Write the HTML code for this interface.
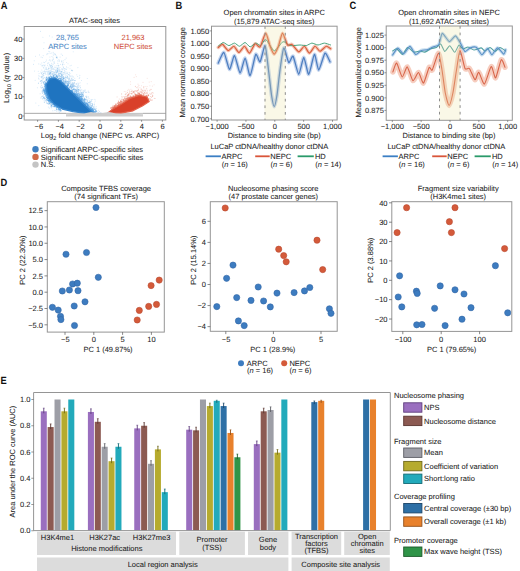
<!DOCTYPE html>
<html><head><meta charset="utf-8"><style>
html,body{margin:0;padding:0;background:#fff;width:520px;height:571px;overflow:hidden}
svg{display:block;font-family:"Liberation Sans",sans-serif;text-rendering:geometricPrecision} text{stroke-width:0.06px}
</style></head><body>
<svg width="520" height="571" viewBox="0 0 520 571">
<rect width="520" height="571" fill="#fff"/>
<text transform="translate(0.7,8.9) scale(0.88,1)" font-size="10.6" fill="#111" font-weight="bold">A</text>
<text transform="translate(175.6,8.9) scale(0.88,1)" font-size="10.6" fill="#111" font-weight="bold">B</text>
<text transform="translate(349.4,9.0) scale(0.88,1)" font-size="10.6" fill="#111" font-weight="bold">C</text>
<text transform="translate(0.6,185.8) scale(0.88,1)" font-size="10.6" fill="#111" font-weight="bold">D</text>
<text transform="translate(0.6,384.3) scale(0.88,1)" font-size="10.6" fill="#111" font-weight="bold">E</text>
<line x1="24.20" y1="113.40" x2="165.80" y2="113.40" stroke="#b0b0b0" stroke-width="0.8" />
<circle cx="43.4" cy="67.7" r="0.55" fill="#4f9ee0" fill-opacity="0.22"/>
<circle cx="46.2" cy="77.4" r="0.55" fill="#4f9ee0" fill-opacity="0.34"/>
<circle cx="72.4" cy="92.2" r="0.7" fill="#4f9ee0" fill-opacity="0.47"/>
<circle cx="68.2" cy="87.7" r="0.55" fill="#4f9ee0" fill-opacity="0.41"/>
<circle cx="62.8" cy="82.5" r="0.7" fill="#4f9ee0" fill-opacity="0.50"/>
<circle cx="46.3" cy="69.8" r="0.55" fill="#4f9ee0" fill-opacity="0.24"/>
<circle cx="84.9" cy="105.0" r="0.7" fill="#4f9ee0" fill-opacity="0.57"/>
<circle cx="42.6" cy="65.5" r="0.55" fill="#4f9ee0" fill-opacity="0.22"/>
<circle cx="80.9" cy="100.3" r="0.7" fill="#4f9ee0" fill-opacity="0.68"/>
<circle cx="59.5" cy="70.1" r="0.55" fill="#4f9ee0" fill-opacity="0.22"/>
<circle cx="84.8" cy="105.3" r="0.7" fill="#4f9ee0" fill-opacity="0.51"/>
<circle cx="77.9" cy="67.6" r="0.55" fill="#4f9ee0" fill-opacity="0.22"/>
<circle cx="83.5" cy="103.4" r="0.7" fill="#4f9ee0" fill-opacity="0.59"/>
<circle cx="74.5" cy="89.2" r="0.55" fill="#4f9ee0" fill-opacity="0.29"/>
<circle cx="79.3" cy="78.4" r="0.55" fill="#4f9ee0" fill-opacity="0.22"/>
<circle cx="47.8" cy="74.1" r="0.55" fill="#4f9ee0" fill-opacity="0.28"/>
<circle cx="92.4" cy="106.3" r="0.55" fill="#4f9ee0" fill-opacity="0.34"/>
<circle cx="84.5" cy="110.2" r="0.55" fill="#4f9ee0" fill-opacity="0.27"/>
<circle cx="93.1" cy="107.8" r="0.55" fill="#4f9ee0" fill-opacity="0.31"/>
<circle cx="55.7" cy="80.0" r="0.55" fill="#4f9ee0" fill-opacity="0.25"/>
<circle cx="61.2" cy="54.1" r="0.55" fill="#4f9ee0" fill-opacity="0.22"/>
<circle cx="93.3" cy="112.0" r="0.7" fill="#4f9ee0" fill-opacity="0.63"/>
<circle cx="79.7" cy="77.3" r="0.55" fill="#4f9ee0" fill-opacity="0.22"/>
<circle cx="79.4" cy="97.2" r="0.7" fill="#4f9ee0" fill-opacity="0.54"/>
<circle cx="67.2" cy="83.1" r="0.55" fill="#4f9ee0" fill-opacity="0.34"/>
<circle cx="68.2" cy="85.6" r="0.55" fill="#4f9ee0" fill-opacity="0.34"/>
<circle cx="43.0" cy="75.1" r="0.55" fill="#4f9ee0" fill-opacity="0.26"/>
<circle cx="63.6" cy="60.7" r="0.55" fill="#4f9ee0" fill-opacity="0.22"/>
<circle cx="51.5" cy="78.7" r="0.55" fill="#4f9ee0" fill-opacity="0.23"/>
<circle cx="62.2" cy="92.3" r="0.55" fill="#4f9ee0" fill-opacity="0.24"/>
<circle cx="89.4" cy="110.6" r="0.55" fill="#4f9ee0" fill-opacity="0.38"/>
<circle cx="91.0" cy="101.3" r="0.55" fill="#4f9ee0" fill-opacity="0.26"/>
<circle cx="67.7" cy="77.1" r="0.55" fill="#4f9ee0" fill-opacity="0.24"/>
<circle cx="73.1" cy="92.5" r="0.7" fill="#4f9ee0" fill-opacity="0.53"/>
<circle cx="72.4" cy="93.2" r="0.7" fill="#4f9ee0" fill-opacity="0.56"/>
<circle cx="66.3" cy="87.0" r="0.55" fill="#4f9ee0" fill-opacity="0.30"/>
<circle cx="88.3" cy="110.1" r="0.7" fill="#4f9ee0" fill-opacity="0.54"/>
<circle cx="66.1" cy="69.1" r="0.55" fill="#4f9ee0" fill-opacity="0.23"/>
<circle cx="52.5" cy="60.7" r="0.55" fill="#4f9ee0" fill-opacity="0.22"/>
<circle cx="90.2" cy="108.6" r="0.7" fill="#4f9ee0" fill-opacity="0.57"/>
<circle cx="46.1" cy="78.3" r="0.55" fill="#4f9ee0" fill-opacity="0.40"/>
<circle cx="94.1" cy="111.5" r="0.7" fill="#4f9ee0" fill-opacity="0.46"/>
<circle cx="75.9" cy="89.2" r="0.55" fill="#4f9ee0" fill-opacity="0.33"/>
<circle cx="73.0" cy="80.3" r="0.55" fill="#4f9ee0" fill-opacity="0.24"/>
<circle cx="63.1" cy="78.6" r="0.55" fill="#4f9ee0" fill-opacity="0.28"/>
<circle cx="77.6" cy="76.5" r="0.55" fill="#4f9ee0" fill-opacity="0.22"/>
<circle cx="79.3" cy="101.2" r="0.7" fill="#4f9ee0" fill-opacity="0.58"/>
<circle cx="88.0" cy="105.6" r="0.7" fill="#4f9ee0" fill-opacity="0.53"/>
<circle cx="90.4" cy="104.5" r="0.55" fill="#4f9ee0" fill-opacity="0.35"/>
<circle cx="70.5" cy="80.7" r="0.55" fill="#4f9ee0" fill-opacity="0.22"/>
<circle cx="87.3" cy="105.2" r="0.7" fill="#4f9ee0" fill-opacity="0.50"/>
<circle cx="85.3" cy="104.3" r="0.7" fill="#4f9ee0" fill-opacity="0.48"/>
<circle cx="67.6" cy="84.0" r="0.55" fill="#4f9ee0" fill-opacity="0.41"/>
<circle cx="86.1" cy="108.9" r="0.7" fill="#4f9ee0" fill-opacity="0.45"/>
<circle cx="84.5" cy="102.1" r="0.7" fill="#4f9ee0" fill-opacity="0.47"/>
<circle cx="73.6" cy="86.0" r="0.55" fill="#4f9ee0" fill-opacity="0.25"/>
<circle cx="78.2" cy="87.0" r="0.55" fill="#4f9ee0" fill-opacity="0.26"/>
<circle cx="69.3" cy="87.7" r="0.7" fill="#4f9ee0" fill-opacity="0.46"/>
<circle cx="47.9" cy="77.6" r="0.55" fill="#4f9ee0" fill-opacity="0.24"/>
<circle cx="84.0" cy="108.3" r="0.55" fill="#4f9ee0" fill-opacity="0.36"/>
<circle cx="67.9" cy="88.6" r="0.55" fill="#4f9ee0" fill-opacity="0.37"/>
<circle cx="79.3" cy="94.3" r="0.55" fill="#4f9ee0" fill-opacity="0.35"/>
<circle cx="88.2" cy="92.1" r="0.55" fill="#4f9ee0" fill-opacity="0.23"/>
<circle cx="72.4" cy="91.3" r="0.7" fill="#4f9ee0" fill-opacity="0.56"/>
<circle cx="89.7" cy="109.2" r="0.7" fill="#4f9ee0" fill-opacity="0.71"/>
<circle cx="57.4" cy="71.7" r="0.55" fill="#4f9ee0" fill-opacity="0.26"/>
<circle cx="86.9" cy="102.5" r="0.55" fill="#4f9ee0" fill-opacity="0.41"/>
<circle cx="89.6" cy="102.6" r="0.55" fill="#4f9ee0" fill-opacity="0.32"/>
<circle cx="60.9" cy="69.9" r="0.55" fill="#4f9ee0" fill-opacity="0.24"/>
<circle cx="49.8" cy="73.9" r="0.55" fill="#4f9ee0" fill-opacity="0.28"/>
<circle cx="52.5" cy="66.6" r="0.55" fill="#4f9ee0" fill-opacity="0.23"/>
<circle cx="53.5" cy="80.9" r="0.55" fill="#4f9ee0" fill-opacity="0.24"/>
<circle cx="56.3" cy="70.5" r="0.55" fill="#4f9ee0" fill-opacity="0.22"/>
<circle cx="73.1" cy="95.1" r="0.55" fill="#4f9ee0" fill-opacity="0.26"/>
<circle cx="76.5" cy="87.1" r="0.55" fill="#4f9ee0" fill-opacity="0.25"/>
<circle cx="34.6" cy="71.1" r="0.55" fill="#4f9ee0" fill-opacity="0.22"/>
<circle cx="39.1" cy="73.5" r="0.55" fill="#4f9ee0" fill-opacity="0.23"/>
<circle cx="69.6" cy="91.6" r="0.55" fill="#4f9ee0" fill-opacity="0.41"/>
<circle cx="58.7" cy="78.1" r="0.55" fill="#4f9ee0" fill-opacity="0.25"/>
<circle cx="47.5" cy="69.8" r="0.55" fill="#4f9ee0" fill-opacity="0.23"/>
<circle cx="80.6" cy="101.3" r="0.7" fill="#4f9ee0" fill-opacity="0.50"/>
<circle cx="41.0" cy="77.0" r="0.55" fill="#4f9ee0" fill-opacity="0.26"/>
<circle cx="53.1" cy="78.9" r="0.55" fill="#4f9ee0" fill-opacity="0.32"/>
<circle cx="66.6" cy="62.5" r="0.55" fill="#4f9ee0" fill-opacity="0.22"/>
<circle cx="84.3" cy="106.2" r="0.7" fill="#4f9ee0" fill-opacity="0.47"/>
<circle cx="55.6" cy="73.0" r="0.55" fill="#4f9ee0" fill-opacity="0.27"/>
<circle cx="56.0" cy="55.8" r="0.55" fill="#4f9ee0" fill-opacity="0.22"/>
<circle cx="55.6" cy="79.3" r="0.55" fill="#4f9ee0" fill-opacity="0.24"/>
<circle cx="74.4" cy="83.2" r="0.55" fill="#4f9ee0" fill-opacity="0.25"/>
<circle cx="101.0" cy="112.8" r="0.55" fill="#4f9ee0" fill-opacity="0.26"/>
<circle cx="55.8" cy="74.8" r="0.55" fill="#4f9ee0" fill-opacity="0.32"/>
<circle cx="82.8" cy="101.9" r="0.55" fill="#4f9ee0" fill-opacity="0.36"/>
<circle cx="88.1" cy="102.0" r="0.55" fill="#4f9ee0" fill-opacity="0.30"/>
<circle cx="64.1" cy="78.4" r="0.55" fill="#4f9ee0" fill-opacity="0.36"/>
<circle cx="48.0" cy="53.6" r="0.55" fill="#4f9ee0" fill-opacity="0.22"/>
<circle cx="63.5" cy="74.2" r="0.55" fill="#4f9ee0" fill-opacity="0.26"/>
<circle cx="81.0" cy="94.7" r="0.55" fill="#4f9ee0" fill-opacity="0.35"/>
<circle cx="73.1" cy="86.2" r="0.55" fill="#4f9ee0" fill-opacity="0.28"/>
<circle cx="79.4" cy="96.0" r="0.7" fill="#4f9ee0" fill-opacity="0.46"/>
<circle cx="60.3" cy="74.7" r="0.55" fill="#4f9ee0" fill-opacity="0.26"/>
<circle cx="87.6" cy="101.8" r="0.55" fill="#4f9ee0" fill-opacity="0.32"/>
<circle cx="61.4" cy="71.8" r="0.55" fill="#4f9ee0" fill-opacity="0.23"/>
<circle cx="63.8" cy="72.5" r="0.55" fill="#4f9ee0" fill-opacity="0.24"/>
<circle cx="69.5" cy="74.7" r="0.55" fill="#4f9ee0" fill-opacity="0.23"/>
<circle cx="62.6" cy="79.4" r="0.55" fill="#4f9ee0" fill-opacity="0.36"/>
<circle cx="59.4" cy="68.8" r="0.55" fill="#4f9ee0" fill-opacity="0.22"/>
<circle cx="67.4" cy="87.4" r="0.7" fill="#4f9ee0" fill-opacity="0.45"/>
<circle cx="50.9" cy="72.7" r="0.55" fill="#4f9ee0" fill-opacity="0.29"/>
<circle cx="59.4" cy="60.9" r="0.55" fill="#4f9ee0" fill-opacity="0.22"/>
<circle cx="63.6" cy="85.2" r="0.55" fill="#4f9ee0" fill-opacity="0.29"/>
<circle cx="78.0" cy="84.9" r="0.55" fill="#4f9ee0" fill-opacity="0.22"/>
<circle cx="57.2" cy="75.7" r="0.55" fill="#4f9ee0" fill-opacity="0.29"/>
<circle cx="79.9" cy="97.5" r="0.7" fill="#4f9ee0" fill-opacity="0.49"/>
<circle cx="73.8" cy="84.0" r="0.55" fill="#4f9ee0" fill-opacity="0.23"/>
<circle cx="58.8" cy="80.3" r="0.7" fill="#4f9ee0" fill-opacity="0.76"/>
<circle cx="68.8" cy="78.9" r="0.55" fill="#4f9ee0" fill-opacity="0.23"/>
<circle cx="65.8" cy="77.0" r="0.55" fill="#4f9ee0" fill-opacity="0.27"/>
<circle cx="44.6" cy="70.9" r="0.55" fill="#4f9ee0" fill-opacity="0.23"/>
<circle cx="72.1" cy="90.3" r="0.7" fill="#4f9ee0" fill-opacity="0.47"/>
<circle cx="73.6" cy="89.5" r="0.55" fill="#4f9ee0" fill-opacity="0.33"/>
<circle cx="88.1" cy="104.4" r="0.55" fill="#4f9ee0" fill-opacity="0.37"/>
<circle cx="88.3" cy="109.0" r="0.7" fill="#4f9ee0" fill-opacity="0.67"/>
<circle cx="56.5" cy="57.5" r="0.55" fill="#4f9ee0" fill-opacity="0.22"/>
<circle cx="73.9" cy="90.7" r="0.55" fill="#4f9ee0" fill-opacity="0.39"/>
<circle cx="90.3" cy="110.0" r="0.7" fill="#4f9ee0" fill-opacity="0.63"/>
<circle cx="85.0" cy="99.6" r="0.55" fill="#4f9ee0" fill-opacity="0.31"/>
<circle cx="51.4" cy="68.1" r="0.55" fill="#4f9ee0" fill-opacity="0.22"/>
<circle cx="95.0" cy="109.4" r="0.55" fill="#4f9ee0" fill-opacity="0.32"/>
<circle cx="76.5" cy="83.8" r="0.55" fill="#4f9ee0" fill-opacity="0.24"/>
<circle cx="49.6" cy="73.9" r="0.55" fill="#4f9ee0" fill-opacity="0.32"/>
<circle cx="67.8" cy="85.8" r="0.7" fill="#4f9ee0" fill-opacity="0.48"/>
<circle cx="58.3" cy="73.7" r="0.55" fill="#4f9ee0" fill-opacity="0.32"/>
<circle cx="52.0" cy="76.7" r="0.55" fill="#4f9ee0" fill-opacity="0.35"/>
<circle cx="92.8" cy="108.5" r="0.55" fill="#4f9ee0" fill-opacity="0.42"/>
<circle cx="74.7" cy="78.2" r="0.55" fill="#4f9ee0" fill-opacity="0.22"/>
<circle cx="59.4" cy="78.1" r="0.55" fill="#4f9ee0" fill-opacity="0.24"/>
<circle cx="75.1" cy="80.3" r="0.55" fill="#4f9ee0" fill-opacity="0.23"/>
<circle cx="77.8" cy="83.1" r="0.55" fill="#4f9ee0" fill-opacity="0.24"/>
<circle cx="73.2" cy="84.3" r="0.55" fill="#4f9ee0" fill-opacity="0.28"/>
<circle cx="62.5" cy="87.2" r="0.55" fill="#4f9ee0" fill-opacity="0.25"/>
<circle cx="60.6" cy="64.4" r="0.55" fill="#4f9ee0" fill-opacity="0.22"/>
<circle cx="77.6" cy="98.1" r="0.7" fill="#4f9ee0" fill-opacity="0.75"/>
<circle cx="55.3" cy="87.3" r="0.55" fill="#4f9ee0" fill-opacity="0.22"/>
<circle cx="91.4" cy="110.6" r="0.7" fill="#4f9ee0" fill-opacity="0.56"/>
<circle cx="58.7" cy="78.7" r="0.7" fill="#4f9ee0" fill-opacity="0.59"/>
<circle cx="58.0" cy="78.5" r="0.55" fill="#4f9ee0" fill-opacity="0.35"/>
<circle cx="63.5" cy="62.7" r="0.55" fill="#4f9ee0" fill-opacity="0.22"/>
<circle cx="70.0" cy="86.3" r="0.55" fill="#4f9ee0" fill-opacity="0.43"/>
<circle cx="76.5" cy="95.1" r="0.55" fill="#4f9ee0" fill-opacity="0.30"/>
<circle cx="91.8" cy="105.9" r="0.55" fill="#4f9ee0" fill-opacity="0.35"/>
<circle cx="57.2" cy="77.0" r="0.55" fill="#4f9ee0" fill-opacity="0.34"/>
<circle cx="52.1" cy="78.3" r="0.7" fill="#4f9ee0" fill-opacity="0.78"/>
<circle cx="65.5" cy="85.1" r="0.55" fill="#4f9ee0" fill-opacity="0.31"/>
<circle cx="42.4" cy="57.6" r="0.55" fill="#4f9ee0" fill-opacity="0.22"/>
<circle cx="74.0" cy="99.8" r="0.55" fill="#4f9ee0" fill-opacity="0.32"/>
<circle cx="69.7" cy="81.3" r="0.55" fill="#4f9ee0" fill-opacity="0.28"/>
<circle cx="62.4" cy="77.3" r="0.55" fill="#4f9ee0" fill-opacity="0.22"/>
<circle cx="74.9" cy="90.0" r="0.55" fill="#4f9ee0" fill-opacity="0.30"/>
<circle cx="43.4" cy="67.8" r="0.55" fill="#4f9ee0" fill-opacity="0.22"/>
<circle cx="65.3" cy="86.5" r="0.7" fill="#4f9ee0" fill-opacity="0.55"/>
<circle cx="82.5" cy="103.3" r="0.7" fill="#4f9ee0" fill-opacity="0.59"/>
<circle cx="93.7" cy="108.2" r="0.55" fill="#4f9ee0" fill-opacity="0.32"/>
<circle cx="85.5" cy="103.6" r="0.7" fill="#4f9ee0" fill-opacity="0.55"/>
<circle cx="68.2" cy="85.6" r="0.7" fill="#4f9ee0" fill-opacity="0.48"/>
<circle cx="75.9" cy="98.8" r="0.55" fill="#4f9ee0" fill-opacity="0.29"/>
<circle cx="82.7" cy="100.6" r="0.55" fill="#4f9ee0" fill-opacity="0.31"/>
<circle cx="66.9" cy="75.4" r="0.55" fill="#4f9ee0" fill-opacity="0.24"/>
<circle cx="58.1" cy="72.0" r="0.55" fill="#4f9ee0" fill-opacity="0.24"/>
<circle cx="82.3" cy="98.7" r="0.55" fill="#4f9ee0" fill-opacity="0.29"/>
<circle cx="56.3" cy="79.4" r="0.55" fill="#4f9ee0" fill-opacity="0.33"/>
<circle cx="80.4" cy="99.6" r="0.7" fill="#4f9ee0" fill-opacity="0.57"/>
<circle cx="62.1" cy="61.9" r="0.55" fill="#4f9ee0" fill-opacity="0.22"/>
<circle cx="60.2" cy="73.3" r="0.55" fill="#4f9ee0" fill-opacity="0.23"/>
<circle cx="71.3" cy="65.2" r="0.55" fill="#4f9ee0" fill-opacity="0.22"/>
<circle cx="71.2" cy="97.1" r="0.55" fill="#4f9ee0" fill-opacity="0.30"/>
<circle cx="75.9" cy="91.4" r="0.55" fill="#4f9ee0" fill-opacity="0.38"/>
<circle cx="74.4" cy="92.9" r="0.7" fill="#4f9ee0" fill-opacity="0.47"/>
<circle cx="78.3" cy="98.2" r="0.7" fill="#4f9ee0" fill-opacity="0.62"/>
<circle cx="41.9" cy="77.5" r="0.55" fill="#4f9ee0" fill-opacity="0.24"/>
<circle cx="51.3" cy="77.7" r="0.55" fill="#4f9ee0" fill-opacity="0.27"/>
<circle cx="73.7" cy="100.8" r="0.55" fill="#4f9ee0" fill-opacity="0.28"/>
<circle cx="91.8" cy="103.0" r="0.55" fill="#4f9ee0" fill-opacity="0.26"/>
<circle cx="82.0" cy="90.1" r="0.55" fill="#4f9ee0" fill-opacity="0.25"/>
<circle cx="59.2" cy="84.6" r="0.55" fill="#4f9ee0" fill-opacity="0.32"/>
<circle cx="60.7" cy="71.3" r="0.55" fill="#4f9ee0" fill-opacity="0.24"/>
<circle cx="82.5" cy="103.0" r="0.7" fill="#4f9ee0" fill-opacity="0.59"/>
<circle cx="84.7" cy="101.2" r="0.55" fill="#4f9ee0" fill-opacity="0.42"/>
<circle cx="54.5" cy="75.8" r="0.55" fill="#4f9ee0" fill-opacity="0.29"/>
<circle cx="58.4" cy="70.3" r="0.55" fill="#4f9ee0" fill-opacity="0.23"/>
<circle cx="70.9" cy="87.0" r="0.55" fill="#4f9ee0" fill-opacity="0.28"/>
<circle cx="88.0" cy="107.9" r="0.7" fill="#4f9ee0" fill-opacity="0.73"/>
<circle cx="50.0" cy="65.6" r="0.55" fill="#4f9ee0" fill-opacity="0.23"/>
<circle cx="74.9" cy="80.6" r="0.55" fill="#4f9ee0" fill-opacity="0.22"/>
<circle cx="96.4" cy="110.8" r="0.55" fill="#4f9ee0" fill-opacity="0.31"/>
<circle cx="76.6" cy="97.9" r="0.55" fill="#4f9ee0" fill-opacity="0.34"/>
<circle cx="59.0" cy="61.0" r="0.55" fill="#4f9ee0" fill-opacity="0.22"/>
<circle cx="61.9" cy="76.1" r="0.55" fill="#4f9ee0" fill-opacity="0.30"/>
<circle cx="44.6" cy="65.4" r="0.55" fill="#4f9ee0" fill-opacity="0.22"/>
<circle cx="75.9" cy="102.1" r="0.55" fill="#4f9ee0" fill-opacity="0.30"/>
<circle cx="77.1" cy="98.6" r="0.7" fill="#4f9ee0" fill-opacity="0.51"/>
<circle cx="69.4" cy="94.5" r="0.55" fill="#4f9ee0" fill-opacity="0.26"/>
<circle cx="64.0" cy="64.5" r="0.55" fill="#4f9ee0" fill-opacity="0.22"/>
<circle cx="48.8" cy="80.0" r="0.7" fill="#4f9ee0" fill-opacity="0.65"/>
<circle cx="73.3" cy="86.7" r="0.55" fill="#4f9ee0" fill-opacity="0.33"/>
<circle cx="53.2" cy="52.4" r="0.55" fill="#4f9ee0" fill-opacity="0.22"/>
<circle cx="87.1" cy="104.9" r="0.7" fill="#4f9ee0" fill-opacity="0.53"/>
<circle cx="92.8" cy="109.3" r="0.55" fill="#4f9ee0" fill-opacity="0.40"/>
<circle cx="58.1" cy="67.4" r="0.55" fill="#4f9ee0" fill-opacity="0.23"/>
<circle cx="79.1" cy="86.5" r="0.55" fill="#4f9ee0" fill-opacity="0.25"/>
<circle cx="54.1" cy="78.0" r="0.55" fill="#4f9ee0" fill-opacity="0.24"/>
<circle cx="69.7" cy="76.3" r="0.55" fill="#4f9ee0" fill-opacity="0.23"/>
<circle cx="65.3" cy="87.3" r="0.55" fill="#4f9ee0" fill-opacity="0.24"/>
<circle cx="58.8" cy="76.6" r="0.55" fill="#4f9ee0" fill-opacity="0.29"/>
<circle cx="62.5" cy="55.4" r="0.55" fill="#4f9ee0" fill-opacity="0.22"/>
<circle cx="76.9" cy="100.8" r="0.55" fill="#4f9ee0" fill-opacity="0.39"/>
<circle cx="82.8" cy="92.3" r="0.55" fill="#4f9ee0" fill-opacity="0.24"/>
<circle cx="74.6" cy="86.1" r="0.55" fill="#4f9ee0" fill-opacity="0.26"/>
<circle cx="64.9" cy="72.9" r="0.55" fill="#4f9ee0" fill-opacity="0.23"/>
<circle cx="44.3" cy="77.7" r="0.55" fill="#4f9ee0" fill-opacity="0.23"/>
<circle cx="54.9" cy="78.4" r="0.55" fill="#4f9ee0" fill-opacity="0.32"/>
<circle cx="63.3" cy="81.0" r="0.7" fill="#4f9ee0" fill-opacity="0.47"/>
<circle cx="56.9" cy="80.0" r="0.55" fill="#4f9ee0" fill-opacity="0.41"/>
<circle cx="57.6" cy="77.1" r="0.55" fill="#4f9ee0" fill-opacity="0.32"/>
<circle cx="84.7" cy="107.3" r="0.55" fill="#4f9ee0" fill-opacity="0.39"/>
<circle cx="76.6" cy="93.0" r="0.55" fill="#4f9ee0" fill-opacity="0.26"/>
<circle cx="82.7" cy="99.2" r="0.55" fill="#4f9ee0" fill-opacity="0.42"/>
<circle cx="89.3" cy="100.2" r="0.55" fill="#4f9ee0" fill-opacity="0.28"/>
<circle cx="78.0" cy="93.8" r="0.55" fill="#4f9ee0" fill-opacity="0.36"/>
<circle cx="45.9" cy="74.3" r="0.55" fill="#4f9ee0" fill-opacity="0.27"/>
<circle cx="67.8" cy="72.3" r="0.55" fill="#4f9ee0" fill-opacity="0.22"/>
<circle cx="100.1" cy="112.8" r="0.55" fill="#4f9ee0" fill-opacity="0.28"/>
<circle cx="74.2" cy="91.6" r="0.7" fill="#4f9ee0" fill-opacity="0.45"/>
<circle cx="73.4" cy="95.9" r="0.7" fill="#4f9ee0" fill-opacity="0.46"/>
<circle cx="41.5" cy="82.1" r="0.55" fill="#4f9ee0" fill-opacity="0.30"/>
<circle cx="53.9" cy="63.1" r="0.55" fill="#4f9ee0" fill-opacity="0.22"/>
<circle cx="72.1" cy="85.7" r="0.55" fill="#4f9ee0" fill-opacity="0.30"/>
<circle cx="83.6" cy="109.0" r="0.55" fill="#4f9ee0" fill-opacity="0.32"/>
<circle cx="73.3" cy="94.3" r="0.55" fill="#4f9ee0" fill-opacity="0.39"/>
<circle cx="70.0" cy="82.9" r="0.55" fill="#4f9ee0" fill-opacity="0.31"/>
<circle cx="82.1" cy="95.5" r="0.55" fill="#4f9ee0" fill-opacity="0.33"/>
<circle cx="72.0" cy="91.0" r="0.7" fill="#4f9ee0" fill-opacity="0.55"/>
<circle cx="59.9" cy="67.4" r="0.55" fill="#4f9ee0" fill-opacity="0.22"/>
<circle cx="92.2" cy="105.1" r="0.55" fill="#4f9ee0" fill-opacity="0.28"/>
<circle cx="92.4" cy="104.4" r="0.55" fill="#4f9ee0" fill-opacity="0.28"/>
<circle cx="76.5" cy="86.2" r="0.55" fill="#4f9ee0" fill-opacity="0.25"/>
<circle cx="64.8" cy="84.3" r="0.55" fill="#4f9ee0" fill-opacity="0.37"/>
<circle cx="86.9" cy="97.6" r="0.55" fill="#4f9ee0" fill-opacity="0.25"/>
<circle cx="69.2" cy="81.9" r="0.55" fill="#4f9ee0" fill-opacity="0.31"/>
<circle cx="61.8" cy="71.5" r="0.55" fill="#4f9ee0" fill-opacity="0.22"/>
<circle cx="83.5" cy="101.3" r="0.7" fill="#4f9ee0" fill-opacity="0.51"/>
<circle cx="87.5" cy="105.0" r="0.7" fill="#4f9ee0" fill-opacity="0.52"/>
<circle cx="71.9" cy="99.4" r="0.55" fill="#4f9ee0" fill-opacity="0.23"/>
<circle cx="75.6" cy="98.7" r="0.55" fill="#4f9ee0" fill-opacity="0.36"/>
<circle cx="51.3" cy="78.7" r="0.55" fill="#4f9ee0" fill-opacity="0.34"/>
<circle cx="75.2" cy="86.6" r="0.55" fill="#4f9ee0" fill-opacity="0.24"/>
<circle cx="87.7" cy="106.8" r="0.7" fill="#4f9ee0" fill-opacity="0.63"/>
<circle cx="38.4" cy="83.3" r="0.55" fill="#4f9ee0" fill-opacity="0.26"/>
<circle cx="76.4" cy="91.4" r="0.55" fill="#4f9ee0" fill-opacity="0.39"/>
<circle cx="90.1" cy="105.6" r="0.55" fill="#4f9ee0" fill-opacity="0.35"/>
<circle cx="61.6" cy="86.0" r="0.55" fill="#4f9ee0" fill-opacity="0.23"/>
<circle cx="51.6" cy="77.2" r="0.7" fill="#4f9ee0" fill-opacity="0.49"/>
<circle cx="72.6" cy="86.1" r="0.55" fill="#4f9ee0" fill-opacity="0.30"/>
<circle cx="85.0" cy="101.6" r="0.55" fill="#4f9ee0" fill-opacity="0.37"/>
<circle cx="75.8" cy="100.5" r="0.55" fill="#4f9ee0" fill-opacity="0.36"/>
<circle cx="86.4" cy="97.5" r="0.55" fill="#4f9ee0" fill-opacity="0.29"/>
<circle cx="81.2" cy="94.6" r="0.55" fill="#4f9ee0" fill-opacity="0.33"/>
<circle cx="54.4" cy="73.2" r="0.55" fill="#4f9ee0" fill-opacity="0.33"/>
<circle cx="92.2" cy="110.4" r="0.7" fill="#4f9ee0" fill-opacity="0.60"/>
<circle cx="95.2" cy="111.4" r="0.55" fill="#4f9ee0" fill-opacity="0.44"/>
<circle cx="74.0" cy="88.0" r="0.55" fill="#4f9ee0" fill-opacity="0.31"/>
<circle cx="55.0" cy="72.5" r="0.55" fill="#4f9ee0" fill-opacity="0.26"/>
<circle cx="75.1" cy="86.1" r="0.55" fill="#4f9ee0" fill-opacity="0.25"/>
<circle cx="78.1" cy="91.5" r="0.55" fill="#4f9ee0" fill-opacity="0.31"/>
<circle cx="60.3" cy="78.4" r="0.7" fill="#4f9ee0" fill-opacity="0.46"/>
<circle cx="87.0" cy="108.5" r="0.7" fill="#4f9ee0" fill-opacity="0.57"/>
<circle cx="65.8" cy="71.3" r="0.55" fill="#4f9ee0" fill-opacity="0.23"/>
<circle cx="95.4" cy="111.8" r="0.55" fill="#4f9ee0" fill-opacity="0.43"/>
<circle cx="86.2" cy="92.3" r="0.55" fill="#4f9ee0" fill-opacity="0.24"/>
<circle cx="56.4" cy="65.8" r="0.55" fill="#4f9ee0" fill-opacity="0.23"/>
<circle cx="74.1" cy="82.8" r="0.55" fill="#4f9ee0" fill-opacity="0.24"/>
<circle cx="75.4" cy="86.2" r="0.55" fill="#4f9ee0" fill-opacity="0.23"/>
<circle cx="80.6" cy="100.9" r="0.7" fill="#4f9ee0" fill-opacity="0.76"/>
<circle cx="68.6" cy="74.5" r="0.55" fill="#4f9ee0" fill-opacity="0.24"/>
<circle cx="54.2" cy="77.6" r="0.7" fill="#4f9ee0" fill-opacity="0.47"/>
<circle cx="74.0" cy="85.8" r="0.55" fill="#4f9ee0" fill-opacity="0.26"/>
<circle cx="49.9" cy="79.2" r="0.7" fill="#4f9ee0" fill-opacity="0.59"/>
<circle cx="56.7" cy="69.7" r="0.55" fill="#4f9ee0" fill-opacity="0.25"/>
<circle cx="53.0" cy="69.4" r="0.55" fill="#4f9ee0" fill-opacity="0.22"/>
<circle cx="68.0" cy="85.1" r="0.7" fill="#4f9ee0" fill-opacity="0.44"/>
<circle cx="84.7" cy="99.2" r="0.55" fill="#4f9ee0" fill-opacity="0.36"/>
<circle cx="71.2" cy="92.9" r="0.7" fill="#4f9ee0" fill-opacity="0.54"/>
<circle cx="75.2" cy="89.6" r="0.55" fill="#4f9ee0" fill-opacity="0.23"/>
<circle cx="68.5" cy="84.0" r="0.55" fill="#4f9ee0" fill-opacity="0.40"/>
<circle cx="60.4" cy="85.4" r="0.55" fill="#4f9ee0" fill-opacity="0.35"/>
<circle cx="92.3" cy="112.2" r="0.7" fill="#4f9ee0" fill-opacity="0.78"/>
<circle cx="85.9" cy="110.1" r="0.55" fill="#4f9ee0" fill-opacity="0.38"/>
<circle cx="81.6" cy="98.8" r="0.7" fill="#4f9ee0" fill-opacity="0.49"/>
<circle cx="86.0" cy="99.5" r="0.55" fill="#4f9ee0" fill-opacity="0.34"/>
<circle cx="46.6" cy="77.6" r="0.55" fill="#4f9ee0" fill-opacity="0.43"/>
<circle cx="78.1" cy="92.6" r="0.55" fill="#4f9ee0" fill-opacity="0.33"/>
<circle cx="42.9" cy="37.2" r="0.55" fill="#4f9ee0" fill-opacity="0.22"/>
<circle cx="57.6" cy="77.2" r="0.55" fill="#4f9ee0" fill-opacity="0.40"/>
<circle cx="98.4" cy="112.3" r="0.55" fill="#4f9ee0" fill-opacity="0.31"/>
<circle cx="76.1" cy="83.6" r="0.55" fill="#4f9ee0" fill-opacity="0.25"/>
<circle cx="72.7" cy="87.8" r="0.55" fill="#4f9ee0" fill-opacity="0.38"/>
<circle cx="72.3" cy="78.0" r="0.55" fill="#4f9ee0" fill-opacity="0.23"/>
<circle cx="81.9" cy="98.3" r="0.7" fill="#4f9ee0" fill-opacity="0.45"/>
<circle cx="44.0" cy="73.4" r="0.55" fill="#4f9ee0" fill-opacity="0.26"/>
<circle cx="41.7" cy="63.0" r="0.55" fill="#4f9ee0" fill-opacity="0.22"/>
<circle cx="72.9" cy="82.4" r="0.55" fill="#4f9ee0" fill-opacity="0.24"/>
<circle cx="81.5" cy="80.5" r="0.55" fill="#4f9ee0" fill-opacity="0.22"/>
<circle cx="79.1" cy="101.2" r="0.7" fill="#4f9ee0" fill-opacity="0.47"/>
<circle cx="87.3" cy="78.5" r="0.55" fill="#4f9ee0" fill-opacity="0.22"/>
<circle cx="50.6" cy="72.9" r="0.55" fill="#4f9ee0" fill-opacity="0.30"/>
<circle cx="73.6" cy="93.9" r="0.7" fill="#4f9ee0" fill-opacity="0.51"/>
<circle cx="57.2" cy="71.1" r="0.55" fill="#4f9ee0" fill-opacity="0.24"/>
<circle cx="54.1" cy="80.8" r="0.55" fill="#4f9ee0" fill-opacity="0.29"/>
<circle cx="78.2" cy="96.1" r="0.7" fill="#4f9ee0" fill-opacity="0.50"/>
<circle cx="57.7" cy="68.7" r="0.55" fill="#4f9ee0" fill-opacity="0.23"/>
<circle cx="74.2" cy="94.5" r="0.55" fill="#4f9ee0" fill-opacity="0.32"/>
<circle cx="88.5" cy="107.0" r="0.55" fill="#4f9ee0" fill-opacity="0.39"/>
<circle cx="53.1" cy="69.3" r="0.55" fill="#4f9ee0" fill-opacity="0.24"/>
<circle cx="83.2" cy="92.4" r="0.55" fill="#4f9ee0" fill-opacity="0.25"/>
<circle cx="91.4" cy="106.2" r="0.55" fill="#4f9ee0" fill-opacity="0.38"/>
<circle cx="67.7" cy="85.7" r="0.55" fill="#4f9ee0" fill-opacity="0.29"/>
<circle cx="58.3" cy="80.5" r="0.55" fill="#4f9ee0" fill-opacity="0.32"/>
<circle cx="83.6" cy="108.9" r="0.55" fill="#4f9ee0" fill-opacity="0.33"/>
<circle cx="91.5" cy="108.0" r="0.55" fill="#4f9ee0" fill-opacity="0.42"/>
<circle cx="52.1" cy="68.4" r="0.55" fill="#4f9ee0" fill-opacity="0.23"/>
<circle cx="86.8" cy="103.9" r="0.7" fill="#4f9ee0" fill-opacity="0.49"/>
<circle cx="77.7" cy="89.0" r="0.55" fill="#4f9ee0" fill-opacity="0.29"/>
<circle cx="93.1" cy="109.7" r="0.7" fill="#4f9ee0" fill-opacity="0.45"/>
<circle cx="91.2" cy="109.6" r="0.7" fill="#4f9ee0" fill-opacity="0.54"/>
<circle cx="82.5" cy="102.8" r="0.7" fill="#4f9ee0" fill-opacity="0.74"/>
<circle cx="91.1" cy="110.5" r="0.7" fill="#4f9ee0" fill-opacity="0.64"/>
<circle cx="70.4" cy="86.9" r="0.55" fill="#4f9ee0" fill-opacity="0.38"/>
<circle cx="71.8" cy="87.1" r="0.55" fill="#4f9ee0" fill-opacity="0.39"/>
<circle cx="46.0" cy="78.9" r="0.55" fill="#4f9ee0" fill-opacity="0.36"/>
<circle cx="84.6" cy="98.5" r="0.55" fill="#4f9ee0" fill-opacity="0.34"/>
<circle cx="57.1" cy="69.1" r="0.55" fill="#4f9ee0" fill-opacity="0.24"/>
<circle cx="69.3" cy="78.2" r="0.55" fill="#4f9ee0" fill-opacity="0.24"/>
<circle cx="51.8" cy="65.9" r="0.55" fill="#4f9ee0" fill-opacity="0.22"/>
<circle cx="92.8" cy="112.0" r="0.7" fill="#4f9ee0" fill-opacity="0.64"/>
<circle cx="72.0" cy="83.9" r="0.55" fill="#4f9ee0" fill-opacity="0.30"/>
<circle cx="55.7" cy="77.8" r="0.7" fill="#4f9ee0" fill-opacity="0.49"/>
<circle cx="87.0" cy="106.8" r="0.7" fill="#4f9ee0" fill-opacity="0.72"/>
<circle cx="58.9" cy="59.6" r="0.55" fill="#4f9ee0" fill-opacity="0.22"/>
<circle cx="46.8" cy="79.7" r="0.55" fill="#4f9ee0" fill-opacity="0.41"/>
<circle cx="53.4" cy="55.3" r="0.55" fill="#4f9ee0" fill-opacity="0.22"/>
<circle cx="92.7" cy="99.5" r="0.55" fill="#4f9ee0" fill-opacity="0.24"/>
<circle cx="47.2" cy="79.5" r="0.7" fill="#4f9ee0" fill-opacity="0.50"/>
<circle cx="91.5" cy="99.9" r="0.55" fill="#4f9ee0" fill-opacity="0.25"/>
<circle cx="91.6" cy="110.2" r="0.7" fill="#4f9ee0" fill-opacity="0.58"/>
<circle cx="90.0" cy="112.1" r="0.7" fill="#4f9ee0" fill-opacity="0.49"/>
<circle cx="60.6" cy="80.4" r="0.7" fill="#4f9ee0" fill-opacity="0.70"/>
<circle cx="81.0" cy="103.1" r="0.7" fill="#4f9ee0" fill-opacity="0.46"/>
<circle cx="53.6" cy="75.5" r="0.55" fill="#4f9ee0" fill-opacity="0.40"/>
<circle cx="82.2" cy="102.6" r="0.7" fill="#4f9ee0" fill-opacity="0.79"/>
<circle cx="81.6" cy="99.6" r="0.7" fill="#4f9ee0" fill-opacity="0.55"/>
<circle cx="56.8" cy="76.9" r="0.55" fill="#4f9ee0" fill-opacity="0.28"/>
<circle cx="90.6" cy="108.0" r="0.7" fill="#4f9ee0" fill-opacity="0.46"/>
<circle cx="42.8" cy="66.1" r="0.55" fill="#4f9ee0" fill-opacity="0.22"/>
<circle cx="89.4" cy="112.3" r="0.55" fill="#4f9ee0" fill-opacity="0.39"/>
<circle cx="95.4" cy="110.2" r="0.55" fill="#4f9ee0" fill-opacity="0.39"/>
<circle cx="57.6" cy="70.4" r="0.55" fill="#4f9ee0" fill-opacity="0.23"/>
<circle cx="49.5" cy="35.9" r="0.55" fill="#4f9ee0" fill-opacity="0.22"/>
<circle cx="71.4" cy="70.6" r="0.55" fill="#4f9ee0" fill-opacity="0.22"/>
<circle cx="51.9" cy="56.5" r="0.55" fill="#4f9ee0" fill-opacity="0.22"/>
<circle cx="72.3" cy="70.6" r="0.55" fill="#4f9ee0" fill-opacity="0.22"/>
<circle cx="54.5" cy="78.4" r="0.55" fill="#4f9ee0" fill-opacity="0.29"/>
<circle cx="80.7" cy="105.0" r="0.55" fill="#4f9ee0" fill-opacity="0.29"/>
<circle cx="61.4" cy="78.7" r="0.55" fill="#4f9ee0" fill-opacity="0.42"/>
<circle cx="67.2" cy="85.8" r="0.55" fill="#4f9ee0" fill-opacity="0.27"/>
<circle cx="69.7" cy="75.6" r="0.55" fill="#4f9ee0" fill-opacity="0.22"/>
<circle cx="49.9" cy="57.0" r="0.55" fill="#4f9ee0" fill-opacity="0.22"/>
<circle cx="77.8" cy="100.4" r="0.7" fill="#4f9ee0" fill-opacity="0.47"/>
<circle cx="58.8" cy="65.4" r="0.55" fill="#4f9ee0" fill-opacity="0.23"/>
<circle cx="90.5" cy="109.4" r="0.7" fill="#4f9ee0" fill-opacity="0.49"/>
<circle cx="74.0" cy="101.0" r="0.55" fill="#4f9ee0" fill-opacity="0.24"/>
<circle cx="49.1" cy="74.3" r="0.55" fill="#4f9ee0" fill-opacity="0.33"/>
<circle cx="53.2" cy="59.1" r="0.55" fill="#4f9ee0" fill-opacity="0.22"/>
<circle cx="48.8" cy="77.9" r="0.7" fill="#4f9ee0" fill-opacity="0.51"/>
<circle cx="72.4" cy="79.9" r="0.55" fill="#4f9ee0" fill-opacity="0.24"/>
<circle cx="70.9" cy="80.9" r="0.55" fill="#4f9ee0" fill-opacity="0.23"/>
<circle cx="53.9" cy="72.1" r="0.55" fill="#4f9ee0" fill-opacity="0.24"/>
<circle cx="60.6" cy="76.5" r="0.55" fill="#4f9ee0" fill-opacity="0.36"/>
<circle cx="40.5" cy="31.4" r="0.55" fill="#4f9ee0" fill-opacity="0.22"/>
<circle cx="68.1" cy="82.0" r="0.55" fill="#4f9ee0" fill-opacity="0.32"/>
<circle cx="79.4" cy="104.4" r="0.55" fill="#4f9ee0" fill-opacity="0.32"/>
<circle cx="72.2" cy="80.3" r="0.55" fill="#4f9ee0" fill-opacity="0.24"/>
<circle cx="81.7" cy="99.7" r="0.55" fill="#4f9ee0" fill-opacity="0.28"/>
<circle cx="72.1" cy="92.3" r="0.55" fill="#4f9ee0" fill-opacity="0.40"/>
<circle cx="63.9" cy="82.9" r="0.7" fill="#4f9ee0" fill-opacity="0.49"/>
<circle cx="69.5" cy="83.2" r="0.55" fill="#4f9ee0" fill-opacity="0.33"/>
<circle cx="82.5" cy="94.4" r="0.55" fill="#4f9ee0" fill-opacity="0.27"/>
<circle cx="59.3" cy="83.8" r="0.55" fill="#4f9ee0" fill-opacity="0.38"/>
<circle cx="59.7" cy="80.9" r="0.55" fill="#4f9ee0" fill-opacity="0.32"/>
<circle cx="76.8" cy="74.7" r="0.55" fill="#4f9ee0" fill-opacity="0.22"/>
<circle cx="41.4" cy="73.6" r="0.55" fill="#4f9ee0" fill-opacity="0.24"/>
<circle cx="86.5" cy="105.7" r="0.55" fill="#4f9ee0" fill-opacity="0.41"/>
<circle cx="76.3" cy="91.9" r="0.55" fill="#4f9ee0" fill-opacity="0.39"/>
<circle cx="56.2" cy="76.0" r="0.55" fill="#4f9ee0" fill-opacity="0.25"/>
<circle cx="83.1" cy="108.8" r="0.55" fill="#4f9ee0" fill-opacity="0.30"/>
<circle cx="33.5" cy="64.4" r="0.55" fill="#4f9ee0" fill-opacity="0.22"/>
<circle cx="81.4" cy="99.9" r="0.7" fill="#4f9ee0" fill-opacity="0.60"/>
<circle cx="44.9" cy="69.0" r="0.55" fill="#4f9ee0" fill-opacity="0.23"/>
<circle cx="39.0" cy="79.1" r="0.55" fill="#4f9ee0" fill-opacity="0.24"/>
<circle cx="52.8" cy="80.1" r="0.55" fill="#4f9ee0" fill-opacity="0.32"/>
<circle cx="65.8" cy="77.8" r="0.55" fill="#4f9ee0" fill-opacity="0.23"/>
<circle cx="86.4" cy="106.4" r="0.7" fill="#4f9ee0" fill-opacity="0.75"/>
<circle cx="78.7" cy="95.8" r="0.55" fill="#4f9ee0" fill-opacity="0.43"/>
<circle cx="73.4" cy="76.9" r="0.55" fill="#4f9ee0" fill-opacity="0.23"/>
<circle cx="55.6" cy="70.5" r="0.55" fill="#4f9ee0" fill-opacity="0.25"/>
<circle cx="48.5" cy="69.1" r="0.55" fill="#4f9ee0" fill-opacity="0.22"/>
<circle cx="59.0" cy="82.0" r="0.55" fill="#4f9ee0" fill-opacity="0.44"/>
<circle cx="85.0" cy="103.5" r="0.7" fill="#4f9ee0" fill-opacity="0.58"/>
<circle cx="42.5" cy="78.0" r="0.55" fill="#4f9ee0" fill-opacity="0.23"/>
<circle cx="79.9" cy="98.3" r="0.7" fill="#4f9ee0" fill-opacity="0.56"/>
<circle cx="53.3" cy="75.5" r="0.55" fill="#4f9ee0" fill-opacity="0.28"/>
<circle cx="61.4" cy="80.8" r="0.7" fill="#4f9ee0" fill-opacity="0.62"/>
<circle cx="77.4" cy="96.3" r="0.7" fill="#4f9ee0" fill-opacity="0.49"/>
<circle cx="73.3" cy="51.7" r="0.55" fill="#4f9ee0" fill-opacity="0.22"/>
<circle cx="56.5" cy="78.8" r="0.55" fill="#4f9ee0" fill-opacity="0.29"/>
<circle cx="76.9" cy="95.7" r="0.55" fill="#4f9ee0" fill-opacity="0.39"/>
<circle cx="94.6" cy="109.1" r="0.55" fill="#4f9ee0" fill-opacity="0.31"/>
<circle cx="68.6" cy="74.8" r="0.55" fill="#4f9ee0" fill-opacity="0.23"/>
<circle cx="61.4" cy="81.1" r="0.55" fill="#4f9ee0" fill-opacity="0.40"/>
<circle cx="60.1" cy="57.1" r="0.55" fill="#4f9ee0" fill-opacity="0.22"/>
<circle cx="86.8" cy="96.1" r="0.55" fill="#4f9ee0" fill-opacity="0.26"/>
<circle cx="68.1" cy="93.8" r="0.55" fill="#4f9ee0" fill-opacity="0.30"/>
<circle cx="84.3" cy="108.4" r="0.55" fill="#4f9ee0" fill-opacity="0.34"/>
<circle cx="81.7" cy="96.9" r="0.55" fill="#4f9ee0" fill-opacity="0.30"/>
<circle cx="79.9" cy="99.6" r="0.55" fill="#4f9ee0" fill-opacity="0.29"/>
<circle cx="62.6" cy="82.4" r="0.55" fill="#4f9ee0" fill-opacity="0.40"/>
<circle cx="78.5" cy="93.9" r="0.55" fill="#4f9ee0" fill-opacity="0.40"/>
<circle cx="48.9" cy="78.2" r="0.7" fill="#4f9ee0" fill-opacity="0.52"/>
<circle cx="54.0" cy="61.3" r="0.55" fill="#4f9ee0" fill-opacity="0.22"/>
<circle cx="91.2" cy="109.4" r="0.7" fill="#4f9ee0" fill-opacity="0.57"/>
<circle cx="61.8" cy="84.8" r="0.55" fill="#4f9ee0" fill-opacity="0.36"/>
<circle cx="79.7" cy="104.0" r="0.55" fill="#4f9ee0" fill-opacity="0.30"/>
<circle cx="38.5" cy="83.0" r="0.55" fill="#4f9ee0" fill-opacity="0.26"/>
<circle cx="43.6" cy="82.5" r="0.55" fill="#4f9ee0" fill-opacity="0.42"/>
<circle cx="67.3" cy="84.9" r="0.7" fill="#4f9ee0" fill-opacity="0.51"/>
<circle cx="81.1" cy="96.9" r="0.55" fill="#4f9ee0" fill-opacity="0.38"/>
<circle cx="50.7" cy="60.9" r="0.55" fill="#4f9ee0" fill-opacity="0.22"/>
<circle cx="89.2" cy="109.9" r="0.55" fill="#4f9ee0" fill-opacity="0.39"/>
<circle cx="80.5" cy="100.3" r="0.7" fill="#4f9ee0" fill-opacity="0.50"/>
<circle cx="93.6" cy="109.0" r="0.55" fill="#4f9ee0" fill-opacity="0.37"/>
<circle cx="53.7" cy="76.2" r="0.55" fill="#4f9ee0" fill-opacity="0.35"/>
<circle cx="86.0" cy="98.8" r="0.55" fill="#4f9ee0" fill-opacity="0.28"/>
<circle cx="62.0" cy="68.4" r="0.55" fill="#4f9ee0" fill-opacity="0.23"/>
<circle cx="65.3" cy="83.4" r="0.55" fill="#4f9ee0" fill-opacity="0.23"/>
<circle cx="67.4" cy="90.2" r="0.55" fill="#4f9ee0" fill-opacity="0.27"/>
<circle cx="56.3" cy="57.6" r="0.55" fill="#4f9ee0" fill-opacity="0.22"/>
<circle cx="49.6" cy="64.2" r="0.55" fill="#4f9ee0" fill-opacity="0.22"/>
<circle cx="81.7" cy="95.1" r="0.55" fill="#4f9ee0" fill-opacity="0.26"/>
<circle cx="61.4" cy="75.1" r="0.55" fill="#4f9ee0" fill-opacity="0.23"/>
<circle cx="74.8" cy="93.5" r="0.7" fill="#4f9ee0" fill-opacity="0.62"/>
<circle cx="77.2" cy="97.9" r="0.7" fill="#4f9ee0" fill-opacity="0.66"/>
<circle cx="91.9" cy="105.6" r="0.55" fill="#4f9ee0" fill-opacity="0.34"/>
<circle cx="70.4" cy="90.3" r="0.55" fill="#4f9ee0" fill-opacity="0.43"/>
<circle cx="56.8" cy="76.1" r="0.55" fill="#4f9ee0" fill-opacity="0.42"/>
<circle cx="82.7" cy="103.3" r="0.7" fill="#4f9ee0" fill-opacity="0.55"/>
<circle cx="87.7" cy="106.1" r="0.7" fill="#4f9ee0" fill-opacity="0.59"/>
<circle cx="56.4" cy="79.1" r="0.7" fill="#4f9ee0" fill-opacity="0.64"/>
<circle cx="84.3" cy="99.3" r="0.55" fill="#4f9ee0" fill-opacity="0.30"/>
<circle cx="39.5" cy="54.9" r="0.55" fill="#4f9ee0" fill-opacity="0.22"/>
<circle cx="83.7" cy="105.4" r="0.7" fill="#4f9ee0" fill-opacity="0.58"/>
<circle cx="43.1" cy="81.5" r="0.55" fill="#4f9ee0" fill-opacity="0.37"/>
<circle cx="77.2" cy="99.1" r="0.55" fill="#4f9ee0" fill-opacity="0.38"/>
<circle cx="74.9" cy="92.7" r="0.55" fill="#4f9ee0" fill-opacity="0.34"/>
<circle cx="80.2" cy="101.3" r="0.55" fill="#4f9ee0" fill-opacity="0.39"/>
<circle cx="61.5" cy="80.1" r="0.7" fill="#4f9ee0" fill-opacity="0.57"/>
<circle cx="95.7" cy="109.0" r="0.55" fill="#4f9ee0" fill-opacity="0.34"/>
<circle cx="76.5" cy="97.9" r="0.55" fill="#4f9ee0" fill-opacity="0.31"/>
<circle cx="56.2" cy="81.9" r="0.55" fill="#4f9ee0" fill-opacity="0.23"/>
<circle cx="68.7" cy="91.9" r="0.7" fill="#4f9ee0" fill-opacity="0.45"/>
<circle cx="45.8" cy="71.5" r="0.55" fill="#4f9ee0" fill-opacity="0.23"/>
<circle cx="69.5" cy="72.6" r="0.55" fill="#4f9ee0" fill-opacity="0.23"/>
<circle cx="70.5" cy="85.2" r="0.55" fill="#4f9ee0" fill-opacity="0.34"/>
<circle cx="54.5" cy="74.5" r="0.55" fill="#4f9ee0" fill-opacity="0.36"/>
<circle cx="83.3" cy="106.9" r="0.55" fill="#4f9ee0" fill-opacity="0.35"/>
<circle cx="85.2" cy="102.3" r="0.55" fill="#4f9ee0" fill-opacity="0.43"/>
<circle cx="91.3" cy="109.7" r="0.7" fill="#4f9ee0" fill-opacity="0.57"/>
<circle cx="66.5" cy="91.0" r="0.55" fill="#4f9ee0" fill-opacity="0.33"/>
<circle cx="59.1" cy="78.8" r="0.55" fill="#4f9ee0" fill-opacity="0.31"/>
<circle cx="67.8" cy="91.3" r="0.55" fill="#4f9ee0" fill-opacity="0.30"/>
<circle cx="84.1" cy="102.3" r="0.7" fill="#4f9ee0" fill-opacity="0.57"/>
<circle cx="82.9" cy="97.8" r="0.55" fill="#4f9ee0" fill-opacity="0.37"/>
<circle cx="48.9" cy="68.7" r="0.55" fill="#4f9ee0" fill-opacity="0.22"/>
<circle cx="79.8" cy="93.9" r="0.55" fill="#4f9ee0" fill-opacity="0.32"/>
<circle cx="72.8" cy="95.9" r="0.55" fill="#4f9ee0" fill-opacity="0.36"/>
<circle cx="68.3" cy="83.0" r="0.55" fill="#4f9ee0" fill-opacity="0.23"/>
<circle cx="60.7" cy="86.1" r="0.55" fill="#4f9ee0" fill-opacity="0.29"/>
<circle cx="41.4" cy="73.8" r="0.55" fill="#4f9ee0" fill-opacity="0.24"/>
<circle cx="82.8" cy="111.7" r="0.55" fill="#4f9ee0" fill-opacity="0.25"/>
<circle cx="95.2" cy="111.0" r="0.55" fill="#4f9ee0" fill-opacity="0.38"/>
<circle cx="66.8" cy="81.8" r="0.55" fill="#4f9ee0" fill-opacity="0.37"/>
<circle cx="55.5" cy="81.7" r="0.55" fill="#4f9ee0" fill-opacity="0.26"/>
<circle cx="48.8" cy="51.3" r="0.55" fill="#4f9ee0" fill-opacity="0.22"/>
<circle cx="92.6" cy="104.9" r="0.55" fill="#4f9ee0" fill-opacity="0.29"/>
<circle cx="70.6" cy="90.3" r="0.55" fill="#4f9ee0" fill-opacity="0.25"/>
<circle cx="72.0" cy="89.7" r="0.7" fill="#4f9ee0" fill-opacity="0.50"/>
<circle cx="86.3" cy="103.6" r="0.7" fill="#4f9ee0" fill-opacity="0.50"/>
<circle cx="66.5" cy="86.0" r="0.7" fill="#4f9ee0" fill-opacity="0.65"/>
<circle cx="94.0" cy="106.9" r="0.55" fill="#4f9ee0" fill-opacity="0.29"/>
<circle cx="92.6" cy="110.6" r="0.7" fill="#4f9ee0" fill-opacity="0.52"/>
<circle cx="49.5" cy="77.6" r="0.55" fill="#4f9ee0" fill-opacity="0.28"/>
<circle cx="67.8" cy="81.0" r="0.55" fill="#4f9ee0" fill-opacity="0.32"/>
<circle cx="89.5" cy="106.6" r="0.7" fill="#4f9ee0" fill-opacity="0.45"/>
<circle cx="57.3" cy="68.2" r="0.55" fill="#4f9ee0" fill-opacity="0.24"/>
<circle cx="70.5" cy="85.9" r="0.55" fill="#4f9ee0" fill-opacity="0.36"/>
<circle cx="62.5" cy="64.1" r="0.55" fill="#4f9ee0" fill-opacity="0.22"/>
<circle cx="91.8" cy="108.8" r="0.7" fill="#4f9ee0" fill-opacity="0.45"/>
<circle cx="79.8" cy="90.2" r="0.55" fill="#4f9ee0" fill-opacity="0.25"/>
<circle cx="64.2" cy="78.0" r="0.55" fill="#4f9ee0" fill-opacity="0.27"/>
<circle cx="73.6" cy="93.0" r="0.55" fill="#4f9ee0" fill-opacity="0.30"/>
<circle cx="49.3" cy="71.1" r="0.55" fill="#4f9ee0" fill-opacity="0.26"/>
<circle cx="63.5" cy="85.6" r="0.55" fill="#4f9ee0" fill-opacity="0.31"/>
<circle cx="58.2" cy="82.2" r="0.55" fill="#4f9ee0" fill-opacity="0.42"/>
<circle cx="65.9" cy="86.4" r="0.7" fill="#4f9ee0" fill-opacity="0.72"/>
<circle cx="47.9" cy="72.1" r="0.55" fill="#4f9ee0" fill-opacity="0.23"/>
<circle cx="78.3" cy="96.9" r="0.7" fill="#4f9ee0" fill-opacity="0.61"/>
<circle cx="35.5" cy="56.2" r="0.55" fill="#4f9ee0" fill-opacity="0.22"/>
<circle cx="53.8" cy="71.3" r="0.55" fill="#4f9ee0" fill-opacity="0.25"/>
<circle cx="78.8" cy="93.0" r="0.55" fill="#4f9ee0" fill-opacity="0.35"/>
<circle cx="76.9" cy="94.4" r="0.7" fill="#4f9ee0" fill-opacity="0.48"/>
<circle cx="81.9" cy="92.7" r="0.55" fill="#4f9ee0" fill-opacity="0.27"/>
<circle cx="53.2" cy="75.7" r="0.55" fill="#4f9ee0" fill-opacity="0.28"/>
<circle cx="61.5" cy="78.8" r="0.55" fill="#4f9ee0" fill-opacity="0.22"/>
<circle cx="66.4" cy="77.6" r="0.55" fill="#4f9ee0" fill-opacity="0.23"/>
<circle cx="53.2" cy="53.9" r="0.55" fill="#4f9ee0" fill-opacity="0.22"/>
<circle cx="62.7" cy="69.9" r="0.55" fill="#4f9ee0" fill-opacity="0.23"/>
<circle cx="83.4" cy="100.4" r="0.55" fill="#4f9ee0" fill-opacity="0.42"/>
<circle cx="89.6" cy="110.2" r="0.7" fill="#4f9ee0" fill-opacity="0.51"/>
<circle cx="66.4" cy="80.3" r="0.55" fill="#4f9ee0" fill-opacity="0.22"/>
<circle cx="40.3" cy="81.5" r="0.55" fill="#4f9ee0" fill-opacity="0.28"/>
<circle cx="47.9" cy="72.9" r="0.55" fill="#4f9ee0" fill-opacity="0.29"/>
<circle cx="82.4" cy="94.5" r="0.55" fill="#4f9ee0" fill-opacity="0.26"/>
<circle cx="81.2" cy="89.7" r="0.55" fill="#4f9ee0" fill-opacity="0.24"/>
<circle cx="48.5" cy="82.9" r="0.7" fill="#4f9ee0" fill-opacity="0.54"/>
<circle cx="64.0" cy="85.7" r="0.55" fill="#4f9ee0" fill-opacity="0.26"/>
<circle cx="76.8" cy="92.8" r="0.55" fill="#4f9ee0" fill-opacity="0.38"/>
<circle cx="92.6" cy="109.1" r="0.7" fill="#4f9ee0" fill-opacity="0.47"/>
<circle cx="61.9" cy="77.2" r="0.55" fill="#4f9ee0" fill-opacity="0.32"/>
<circle cx="88.5" cy="109.4" r="0.7" fill="#4f9ee0" fill-opacity="0.73"/>
<circle cx="74.2" cy="80.6" r="0.55" fill="#4f9ee0" fill-opacity="0.22"/>
<circle cx="53.9" cy="74.4" r="0.55" fill="#4f9ee0" fill-opacity="0.23"/>
<circle cx="78.5" cy="91.3" r="0.55" fill="#4f9ee0" fill-opacity="0.30"/>
<circle cx="80.2" cy="101.5" r="0.55" fill="#4f9ee0" fill-opacity="0.35"/>
<circle cx="65.7" cy="80.8" r="0.55" fill="#4f9ee0" fill-opacity="0.23"/>
<circle cx="90.7" cy="105.8" r="0.55" fill="#4f9ee0" fill-opacity="0.37"/>
<circle cx="64.1" cy="77.2" r="0.55" fill="#4f9ee0" fill-opacity="0.32"/>
<circle cx="90.4" cy="103.3" r="0.55" fill="#4f9ee0" fill-opacity="0.32"/>
<circle cx="67.7" cy="86.4" r="0.7" fill="#4f9ee0" fill-opacity="0.59"/>
<circle cx="55.6" cy="78.3" r="0.7" fill="#4f9ee0" fill-opacity="0.51"/>
<circle cx="77.6" cy="93.6" r="0.55" fill="#4f9ee0" fill-opacity="0.42"/>
<circle cx="59.1" cy="75.8" r="0.55" fill="#4f9ee0" fill-opacity="0.23"/>
<circle cx="45.1" cy="65.1" r="0.55" fill="#4f9ee0" fill-opacity="0.22"/>
<circle cx="58.7" cy="75.4" r="0.55" fill="#4f9ee0" fill-opacity="0.26"/>
<circle cx="57.8" cy="63.4" r="0.55" fill="#4f9ee0" fill-opacity="0.22"/>
<circle cx="82.6" cy="103.3" r="0.55" fill="#4f9ee0" fill-opacity="0.43"/>
<circle cx="74.6" cy="97.6" r="0.55" fill="#4f9ee0" fill-opacity="0.37"/>
<circle cx="54.2" cy="67.8" r="0.55" fill="#4f9ee0" fill-opacity="0.23"/>
<circle cx="87.2" cy="108.8" r="0.7" fill="#4f9ee0" fill-opacity="0.58"/>
<circle cx="73.9" cy="94.9" r="0.7" fill="#4f9ee0" fill-opacity="0.55"/>
<circle cx="53.4" cy="76.5" r="0.7" fill="#4f9ee0" fill-opacity="0.51"/>
<circle cx="80.2" cy="101.8" r="0.7" fill="#4f9ee0" fill-opacity="0.52"/>
<circle cx="79.6" cy="95.2" r="0.55" fill="#4f9ee0" fill-opacity="0.36"/>
<circle cx="57.2" cy="84.4" r="0.55" fill="#4f9ee0" fill-opacity="0.26"/>
<circle cx="80.4" cy="94.1" r="0.55" fill="#4f9ee0" fill-opacity="0.32"/>
<circle cx="83.6" cy="109.4" r="0.55" fill="#4f9ee0" fill-opacity="0.28"/>
<circle cx="88.8" cy="111.1" r="0.7" fill="#4f9ee0" fill-opacity="0.50"/>
<circle cx="92.1" cy="109.0" r="0.55" fill="#4f9ee0" fill-opacity="0.42"/>
<circle cx="86.2" cy="107.3" r="0.7" fill="#4f9ee0" fill-opacity="0.50"/>
<circle cx="60.2" cy="86.6" r="0.55" fill="#4f9ee0" fill-opacity="0.25"/>
<circle cx="74.6" cy="93.7" r="0.7" fill="#4f9ee0" fill-opacity="0.65"/>
<circle cx="41.2" cy="83.5" r="0.55" fill="#4f9ee0" fill-opacity="0.32"/>
<circle cx="51.7" cy="71.7" r="0.55" fill="#4f9ee0" fill-opacity="0.28"/>
<circle cx="50.0" cy="73.4" r="0.55" fill="#4f9ee0" fill-opacity="0.30"/>
<circle cx="43.1" cy="71.3" r="0.55" fill="#4f9ee0" fill-opacity="0.23"/>
<circle cx="89.5" cy="110.3" r="0.55" fill="#4f9ee0" fill-opacity="0.39"/>
<circle cx="86.0" cy="107.9" r="0.7" fill="#4f9ee0" fill-opacity="0.49"/>
<circle cx="63.4" cy="78.8" r="0.55" fill="#4f9ee0" fill-opacity="0.31"/>
<circle cx="80.3" cy="100.9" r="0.7" fill="#4f9ee0" fill-opacity="0.49"/>
<circle cx="71.9" cy="97.5" r="0.55" fill="#4f9ee0" fill-opacity="0.30"/>
<circle cx="41.9" cy="76.6" r="0.55" fill="#4f9ee0" fill-opacity="0.26"/>
<circle cx="50.3" cy="71.5" r="0.55" fill="#4f9ee0" fill-opacity="0.26"/>
<circle cx="69.7" cy="90.3" r="0.55" fill="#4f9ee0" fill-opacity="0.26"/>
<circle cx="75.1" cy="94.8" r="0.7" fill="#4f9ee0" fill-opacity="0.72"/>
<circle cx="79.7" cy="98.7" r="0.7" fill="#4f9ee0" fill-opacity="0.47"/>
<circle cx="57.7" cy="69.7" r="0.55" fill="#4f9ee0" fill-opacity="0.24"/>
<circle cx="56.1" cy="80.3" r="0.55" fill="#4f9ee0" fill-opacity="0.24"/>
<circle cx="85.5" cy="90.1" r="0.55" fill="#4f9ee0" fill-opacity="0.23"/>
<circle cx="89.0" cy="98.2" r="0.55" fill="#4f9ee0" fill-opacity="0.26"/>
<circle cx="60.0" cy="72.7" r="0.55" fill="#4f9ee0" fill-opacity="0.28"/>
<circle cx="64.5" cy="71.9" r="0.55" fill="#4f9ee0" fill-opacity="0.24"/>
<circle cx="45.8" cy="61.6" r="0.55" fill="#4f9ee0" fill-opacity="0.22"/>
<circle cx="75.5" cy="93.6" r="0.55" fill="#4f9ee0" fill-opacity="0.39"/>
<circle cx="56.9" cy="84.3" r="0.55" fill="#4f9ee0" fill-opacity="0.23"/>
<circle cx="58.9" cy="75.1" r="0.55" fill="#4f9ee0" fill-opacity="0.24"/>
<circle cx="84.1" cy="106.0" r="0.55" fill="#4f9ee0" fill-opacity="0.41"/>
<circle cx="77.0" cy="89.2" r="0.55" fill="#4f9ee0" fill-opacity="0.29"/>
<circle cx="80.3" cy="99.2" r="0.7" fill="#4f9ee0" fill-opacity="0.59"/>
<circle cx="94.7" cy="108.9" r="0.55" fill="#4f9ee0" fill-opacity="0.37"/>
<circle cx="59.8" cy="78.4" r="0.7" fill="#4f9ee0" fill-opacity="0.45"/>
<circle cx="61.5" cy="75.1" r="0.55" fill="#4f9ee0" fill-opacity="0.29"/>
<circle cx="90.2" cy="108.8" r="0.7" fill="#4f9ee0" fill-opacity="0.61"/>
<circle cx="62.4" cy="88.1" r="0.55" fill="#4f9ee0" fill-opacity="0.22"/>
<circle cx="78.3" cy="84.8" r="0.55" fill="#4f9ee0" fill-opacity="0.23"/>
<circle cx="59.8" cy="80.9" r="0.7" fill="#4f9ee0" fill-opacity="0.72"/>
<circle cx="84.0" cy="104.0" r="0.7" fill="#4f9ee0" fill-opacity="0.49"/>
<circle cx="54.6" cy="80.7" r="0.55" fill="#4f9ee0" fill-opacity="0.25"/>
<circle cx="60.1" cy="84.5" r="0.55" fill="#4f9ee0" fill-opacity="0.37"/>
<circle cx="78.5" cy="89.8" r="0.55" fill="#4f9ee0" fill-opacity="0.24"/>
<circle cx="81.4" cy="95.6" r="0.55" fill="#4f9ee0" fill-opacity="0.34"/>
<circle cx="93.3" cy="110.3" r="0.7" fill="#4f9ee0" fill-opacity="0.47"/>
<circle cx="71.7" cy="70.3" r="0.55" fill="#4f9ee0" fill-opacity="0.22"/>
<circle cx="46.8" cy="80.3" r="0.7" fill="#4f9ee0" fill-opacity="0.56"/>
<circle cx="93.1" cy="110.0" r="0.7" fill="#4f9ee0" fill-opacity="0.46"/>
<circle cx="78.3" cy="101.5" r="0.55" fill="#4f9ee0" fill-opacity="0.30"/>
<circle cx="61.0" cy="79.2" r="0.7" fill="#4f9ee0" fill-opacity="0.54"/>
<circle cx="82.5" cy="96.3" r="0.55" fill="#4f9ee0" fill-opacity="0.33"/>
<circle cx="48.5" cy="80.2" r="0.55" fill="#4f9ee0" fill-opacity="0.36"/>
<circle cx="91.6" cy="110.1" r="0.7" fill="#4f9ee0" fill-opacity="0.63"/>
<circle cx="54.8" cy="69.4" r="0.55" fill="#4f9ee0" fill-opacity="0.23"/>
<circle cx="77.0" cy="96.5" r="0.55" fill="#4f9ee0" fill-opacity="0.34"/>
<circle cx="46.9" cy="80.7" r="0.7" fill="#4f9ee0" fill-opacity="0.48"/>
<circle cx="74.2" cy="88.2" r="0.55" fill="#4f9ee0" fill-opacity="0.33"/>
<circle cx="62.1" cy="74.9" r="0.55" fill="#4f9ee0" fill-opacity="0.29"/>
<circle cx="56.6" cy="79.4" r="0.55" fill="#4f9ee0" fill-opacity="0.24"/>
<circle cx="65.3" cy="74.9" r="0.55" fill="#4f9ee0" fill-opacity="0.26"/>
<circle cx="75.6" cy="90.0" r="0.55" fill="#4f9ee0" fill-opacity="0.34"/>
<circle cx="74.6" cy="93.7" r="0.55" fill="#4f9ee0" fill-opacity="0.25"/>
<circle cx="82.6" cy="101.4" r="0.7" fill="#4f9ee0" fill-opacity="0.60"/>
<circle cx="85.9" cy="111.5" r="0.55" fill="#4f9ee0" fill-opacity="0.30"/>
<circle cx="83.8" cy="91.8" r="0.55" fill="#4f9ee0" fill-opacity="0.24"/>
<circle cx="81.9" cy="96.5" r="0.55" fill="#4f9ee0" fill-opacity="0.29"/>
<circle cx="76.9" cy="95.4" r="0.7" fill="#4f9ee0" fill-opacity="0.54"/>
<circle cx="79.8" cy="89.4" r="0.55" fill="#4f9ee0" fill-opacity="0.23"/>
<circle cx="50.3" cy="65.8" r="0.55" fill="#4f9ee0" fill-opacity="0.23"/>
<circle cx="87.0" cy="101.0" r="0.55" fill="#4f9ee0" fill-opacity="0.29"/>
<circle cx="71.1" cy="79.8" r="0.55" fill="#4f9ee0" fill-opacity="0.24"/>
<circle cx="49.8" cy="59.5" r="0.55" fill="#4f9ee0" fill-opacity="0.22"/>
<circle cx="81.7" cy="96.9" r="0.55" fill="#4f9ee0" fill-opacity="0.35"/>
<circle cx="87.3" cy="83.7" r="0.55" fill="#4f9ee0" fill-opacity="0.22"/>
<circle cx="83.5" cy="104.7" r="0.7" fill="#4f9ee0" fill-opacity="0.50"/>
<circle cx="86.8" cy="107.6" r="0.55" fill="#4f9ee0" fill-opacity="0.42"/>
<circle cx="67.6" cy="83.6" r="0.55" fill="#4f9ee0" fill-opacity="0.26"/>
<circle cx="43.7" cy="62.2" r="0.55" fill="#4f9ee0" fill-opacity="0.22"/>
<circle cx="90.2" cy="102.2" r="0.55" fill="#4f9ee0" fill-opacity="0.28"/>
<circle cx="80.5" cy="96.4" r="0.55" fill="#4f9ee0" fill-opacity="0.40"/>
<circle cx="70.3" cy="86.7" r="0.55" fill="#4f9ee0" fill-opacity="0.23"/>
<circle cx="77.4" cy="94.7" r="0.7" fill="#4f9ee0" fill-opacity="0.50"/>
<circle cx="52.5" cy="71.5" r="0.55" fill="#4f9ee0" fill-opacity="0.28"/>
<circle cx="71.4" cy="84.9" r="0.55" fill="#4f9ee0" fill-opacity="0.25"/>
<circle cx="70.9" cy="76.7" r="0.55" fill="#4f9ee0" fill-opacity="0.24"/>
<circle cx="40.9" cy="80.8" r="0.55" fill="#4f9ee0" fill-opacity="0.28"/>
<circle cx="47.1" cy="82.0" r="0.7" fill="#4f9ee0" fill-opacity="0.68"/>
<circle cx="83.0" cy="93.8" r="0.55" fill="#4f9ee0" fill-opacity="0.27"/>
<circle cx="59.1" cy="69.7" r="0.55" fill="#4f9ee0" fill-opacity="0.25"/>
<circle cx="75.5" cy="94.4" r="0.7" fill="#4f9ee0" fill-opacity="0.44"/>
<circle cx="78.3" cy="97.7" r="0.7" fill="#4f9ee0" fill-opacity="0.66"/>
<circle cx="99.5" cy="111.5" r="0.55" fill="#4f9ee0" fill-opacity="0.27"/>
<circle cx="77.6" cy="99.9" r="0.7" fill="#4f9ee0" fill-opacity="0.50"/>
<circle cx="78.7" cy="98.1" r="0.7" fill="#4f9ee0" fill-opacity="0.64"/>
<circle cx="72.6" cy="89.3" r="0.55" fill="#4f9ee0" fill-opacity="0.28"/>
<circle cx="65.9" cy="85.6" r="0.55" fill="#4f9ee0" fill-opacity="0.25"/>
<circle cx="70.9" cy="88.4" r="0.55" fill="#4f9ee0" fill-opacity="0.30"/>
<circle cx="87.8" cy="108.6" r="0.7" fill="#4f9ee0" fill-opacity="0.57"/>
<circle cx="77.3" cy="97.6" r="0.55" fill="#4f9ee0" fill-opacity="0.44"/>
<circle cx="56.1" cy="75.5" r="0.55" fill="#4f9ee0" fill-opacity="0.30"/>
<circle cx="53.7" cy="75.7" r="0.55" fill="#4f9ee0" fill-opacity="0.27"/>
<circle cx="87.7" cy="103.3" r="0.55" fill="#4f9ee0" fill-opacity="0.39"/>
<circle cx="40.8" cy="64.2" r="0.55" fill="#4f9ee0" fill-opacity="0.22"/>
<circle cx="79.1" cy="97.7" r="0.55" fill="#4f9ee0" fill-opacity="0.29"/>
<circle cx="61.1" cy="73.5" r="0.55" fill="#4f9ee0" fill-opacity="0.23"/>
<circle cx="68.4" cy="88.3" r="0.55" fill="#4f9ee0" fill-opacity="0.25"/>
<circle cx="82.6" cy="103.5" r="0.7" fill="#4f9ee0" fill-opacity="0.59"/>
<circle cx="79.1" cy="95.6" r="0.7" fill="#4f9ee0" fill-opacity="0.45"/>
<circle cx="60.4" cy="79.4" r="0.55" fill="#4f9ee0" fill-opacity="0.34"/>
<circle cx="68.7" cy="81.1" r="0.55" fill="#4f9ee0" fill-opacity="0.26"/>
<circle cx="93.3" cy="110.6" r="0.7" fill="#4f9ee0" fill-opacity="0.48"/>
<circle cx="72.3" cy="84.3" r="0.55" fill="#4f9ee0" fill-opacity="0.28"/>
<circle cx="61.4" cy="74.7" r="0.55" fill="#4f9ee0" fill-opacity="0.27"/>
<circle cx="67.2" cy="73.9" r="0.55" fill="#4f9ee0" fill-opacity="0.22"/>
<circle cx="74.2" cy="89.8" r="0.55" fill="#4f9ee0" fill-opacity="0.40"/>
<circle cx="87.8" cy="109.1" r="0.7" fill="#4f9ee0" fill-opacity="0.64"/>
<circle cx="49.7" cy="64.8" r="0.55" fill="#4f9ee0" fill-opacity="0.22"/>
<circle cx="67.2" cy="96.6" r="0.55" fill="#4f9ee0" fill-opacity="0.24"/>
<circle cx="57.0" cy="57.7" r="0.55" fill="#4f9ee0" fill-opacity="0.22"/>
<circle cx="89.2" cy="103.1" r="0.55" fill="#4f9ee0" fill-opacity="0.32"/>
<circle cx="45.1" cy="72.5" r="0.55" fill="#4f9ee0" fill-opacity="0.24"/>
<circle cx="66.3" cy="83.8" r="0.55" fill="#4f9ee0" fill-opacity="0.25"/>
<circle cx="88.3" cy="104.9" r="0.7" fill="#4f9ee0" fill-opacity="0.45"/>
<circle cx="86.6" cy="107.5" r="0.7" fill="#4f9ee0" fill-opacity="0.73"/>
<circle cx="87.3" cy="104.8" r="0.7" fill="#4f9ee0" fill-opacity="0.47"/>
<circle cx="81.3" cy="99.7" r="0.55" fill="#4f9ee0" fill-opacity="0.32"/>
<circle cx="89.2" cy="111.7" r="0.7" fill="#4f9ee0" fill-opacity="0.48"/>
<circle cx="63.3" cy="78.8" r="0.55" fill="#4f9ee0" fill-opacity="0.29"/>
<circle cx="49.2" cy="60.5" r="0.55" fill="#4f9ee0" fill-opacity="0.22"/>
<circle cx="64.1" cy="68.6" r="0.55" fill="#4f9ee0" fill-opacity="0.23"/>
<circle cx="50.2" cy="76.4" r="0.55" fill="#4f9ee0" fill-opacity="0.27"/>
<circle cx="68.5" cy="93.9" r="0.55" fill="#4f9ee0" fill-opacity="0.26"/>
<circle cx="91.4" cy="111.6" r="0.7" fill="#4f9ee0" fill-opacity="0.65"/>
<circle cx="84.8" cy="108.3" r="0.55" fill="#4f9ee0" fill-opacity="0.36"/>
<circle cx="62.9" cy="76.8" r="0.55" fill="#4f9ee0" fill-opacity="0.23"/>
<circle cx="57.2" cy="83.9" r="0.55" fill="#4f9ee0" fill-opacity="0.29"/>
<circle cx="76.8" cy="99.2" r="0.7" fill="#4f9ee0" fill-opacity="0.51"/>
<circle cx="85.7" cy="107.6" r="0.7" fill="#4f9ee0" fill-opacity="0.47"/>
<circle cx="60.0" cy="79.8" r="0.55" fill="#4f9ee0" fill-opacity="0.27"/>
<circle cx="64.6" cy="86.3" r="0.7" fill="#4f9ee0" fill-opacity="0.61"/>
<circle cx="66.9" cy="81.6" r="0.55" fill="#4f9ee0" fill-opacity="0.31"/>
<circle cx="88.8" cy="105.9" r="0.55" fill="#4f9ee0" fill-opacity="0.39"/>
<circle cx="86.0" cy="107.9" r="0.7" fill="#4f9ee0" fill-opacity="0.53"/>
<circle cx="70.2" cy="93.0" r="0.55" fill="#4f9ee0" fill-opacity="0.36"/>
<circle cx="96.5" cy="111.3" r="0.55" fill="#4f9ee0" fill-opacity="0.38"/>
<circle cx="50.7" cy="70.0" r="0.55" fill="#4f9ee0" fill-opacity="0.25"/>
<circle cx="78.3" cy="90.8" r="0.55" fill="#4f9ee0" fill-opacity="0.30"/>
<circle cx="51.7" cy="76.2" r="0.55" fill="#4f9ee0" fill-opacity="0.22"/>
<circle cx="83.4" cy="95.5" r="0.55" fill="#4f9ee0" fill-opacity="0.30"/>
<circle cx="82.0" cy="94.6" r="0.55" fill="#4f9ee0" fill-opacity="0.28"/>
<circle cx="67.1" cy="85.8" r="0.55" fill="#4f9ee0" fill-opacity="0.38"/>
<circle cx="47.9" cy="63.0" r="0.55" fill="#4f9ee0" fill-opacity="0.22"/>
<circle cx="46.1" cy="71.8" r="0.55" fill="#4f9ee0" fill-opacity="0.24"/>
<circle cx="79.8" cy="75.4" r="0.55" fill="#4f9ee0" fill-opacity="0.22"/>
<circle cx="92.4" cy="103.5" r="0.55" fill="#4f9ee0" fill-opacity="0.26"/>
<circle cx="85.4" cy="105.3" r="0.7" fill="#4f9ee0" fill-opacity="0.54"/>
<circle cx="42.9" cy="76.1" r="0.55" fill="#4f9ee0" fill-opacity="0.23"/>
<circle cx="82.8" cy="105.7" r="0.7" fill="#4f9ee0" fill-opacity="0.46"/>
<circle cx="73.6" cy="85.1" r="0.55" fill="#4f9ee0" fill-opacity="0.27"/>
<circle cx="88.7" cy="107.4" r="0.7" fill="#4f9ee0" fill-opacity="0.62"/>
<circle cx="85.0" cy="105.2" r="0.7" fill="#4f9ee0" fill-opacity="0.78"/>
<circle cx="85.5" cy="96.3" r="0.55" fill="#4f9ee0" fill-opacity="0.28"/>
<circle cx="70.1" cy="65.8" r="0.55" fill="#4f9ee0" fill-opacity="0.22"/>
<circle cx="73.7" cy="88.2" r="0.55" fill="#4f9ee0" fill-opacity="0.35"/>
<circle cx="70.1" cy="81.2" r="0.55" fill="#4f9ee0" fill-opacity="0.24"/>
<circle cx="86.7" cy="96.6" r="0.55" fill="#4f9ee0" fill-opacity="0.27"/>
<circle cx="51.0" cy="79.8" r="0.55" fill="#4f9ee0" fill-opacity="0.36"/>
<circle cx="42.0" cy="80.6" r="0.55" fill="#4f9ee0" fill-opacity="0.31"/>
<circle cx="95.2" cy="111.1" r="0.55" fill="#4f9ee0" fill-opacity="0.39"/>
<circle cx="67.2" cy="76.9" r="0.55" fill="#4f9ee0" fill-opacity="0.26"/>
<circle cx="44.1" cy="77.2" r="0.55" fill="#4f9ee0" fill-opacity="0.24"/>
<circle cx="66.1" cy="80.0" r="0.55" fill="#4f9ee0" fill-opacity="0.26"/>
<circle cx="88.9" cy="104.1" r="0.55" fill="#4f9ee0" fill-opacity="0.37"/>
<circle cx="87.2" cy="103.5" r="0.7" fill="#4f9ee0" fill-opacity="0.45"/>
<circle cx="62.7" cy="86.7" r="0.55" fill="#4f9ee0" fill-opacity="0.31"/>
<circle cx="78.5" cy="89.2" r="0.55" fill="#4f9ee0" fill-opacity="0.26"/>
<circle cx="34.3" cy="60.7" r="0.55" fill="#4f9ee0" fill-opacity="0.22"/>
<circle cx="95.9" cy="112.3" r="0.55" fill="#4f9ee0" fill-opacity="0.40"/>
<circle cx="84.7" cy="108.8" r="0.55" fill="#4f9ee0" fill-opacity="0.37"/>
<circle cx="91.8" cy="101.0" r="0.55" fill="#4f9ee0" fill-opacity="0.26"/>
<circle cx="94.9" cy="112.0" r="0.7" fill="#4f9ee0" fill-opacity="0.46"/>
<circle cx="85.2" cy="104.4" r="0.55" fill="#4f9ee0" fill-opacity="0.35"/>
<circle cx="65.8" cy="93.4" r="0.55" fill="#4f9ee0" fill-opacity="0.25"/>
<circle cx="88.1" cy="108.9" r="0.7" fill="#4f9ee0" fill-opacity="0.49"/>
<circle cx="72.6" cy="91.2" r="0.55" fill="#4f9ee0" fill-opacity="0.30"/>
<circle cx="62.4" cy="65.7" r="0.55" fill="#4f9ee0" fill-opacity="0.22"/>
<circle cx="61.0" cy="76.5" r="0.55" fill="#4f9ee0" fill-opacity="0.35"/>
<circle cx="78.4" cy="101.8" r="0.55" fill="#4f9ee0" fill-opacity="0.42"/>
<circle cx="66.7" cy="87.2" r="0.7" fill="#4f9ee0" fill-opacity="0.61"/>
<circle cx="84.3" cy="105.7" r="0.7" fill="#4f9ee0" fill-opacity="0.64"/>
<circle cx="80.6" cy="104.5" r="0.55" fill="#4f9ee0" fill-opacity="0.27"/>
<circle cx="41.3" cy="76.4" r="0.55" fill="#4f9ee0" fill-opacity="0.22"/>
<circle cx="72.7" cy="91.3" r="0.55" fill="#4f9ee0" fill-opacity="0.33"/>
<circle cx="76.6" cy="90.2" r="0.55" fill="#4f9ee0" fill-opacity="0.32"/>
<circle cx="56.2" cy="84.2" r="0.55" fill="#4f9ee0" fill-opacity="0.24"/>
<circle cx="53.4" cy="59.0" r="0.55" fill="#4f9ee0" fill-opacity="0.22"/>
<circle cx="90.3" cy="110.5" r="0.7" fill="#4f9ee0" fill-opacity="0.53"/>
<circle cx="73.0" cy="85.1" r="0.55" fill="#4f9ee0" fill-opacity="0.30"/>
<circle cx="85.6" cy="110.9" r="0.55" fill="#4f9ee0" fill-opacity="0.32"/>
<circle cx="68.8" cy="90.3" r="0.55" fill="#4f9ee0" fill-opacity="0.43"/>
<circle cx="54.4" cy="76.6" r="0.55" fill="#4f9ee0" fill-opacity="0.27"/>
<circle cx="47.5" cy="65.6" r="0.55" fill="#4f9ee0" fill-opacity="0.22"/>
<circle cx="66.5" cy="73.1" r="0.55" fill="#4f9ee0" fill-opacity="0.23"/>
<circle cx="71.9" cy="70.0" r="0.55" fill="#4f9ee0" fill-opacity="0.22"/>
<circle cx="76.3" cy="98.0" r="0.55" fill="#4f9ee0" fill-opacity="0.36"/>
<circle cx="80.6" cy="96.5" r="0.55" fill="#4f9ee0" fill-opacity="0.40"/>
<circle cx="69.6" cy="80.1" r="0.55" fill="#4f9ee0" fill-opacity="0.27"/>
<circle cx="84.6" cy="98.5" r="0.55" fill="#4f9ee0" fill-opacity="0.32"/>
<circle cx="75.1" cy="80.6" r="0.55" fill="#4f9ee0" fill-opacity="0.24"/>
<circle cx="51.5" cy="69.6" r="0.55" fill="#4f9ee0" fill-opacity="0.24"/>
<circle cx="86.3" cy="107.2" r="0.7" fill="#4f9ee0" fill-opacity="0.47"/>
<circle cx="59.3" cy="75.4" r="0.55" fill="#4f9ee0" fill-opacity="0.26"/>
<circle cx="53.9" cy="79.3" r="0.55" fill="#4f9ee0" fill-opacity="0.24"/>
<circle cx="80.8" cy="100.9" r="0.7" fill="#4f9ee0" fill-opacity="0.71"/>
<circle cx="67.9" cy="77.6" r="0.55" fill="#4f9ee0" fill-opacity="0.26"/>
<circle cx="78.6" cy="94.1" r="0.55" fill="#4f9ee0" fill-opacity="0.37"/>
<circle cx="69.5" cy="92.8" r="0.7" fill="#4f9ee0" fill-opacity="0.45"/>
<circle cx="81.2" cy="96.5" r="0.55" fill="#4f9ee0" fill-opacity="0.26"/>
<circle cx="95.6" cy="110.6" r="0.55" fill="#4f9ee0" fill-opacity="0.34"/>
<circle cx="70.9" cy="86.9" r="0.55" fill="#4f9ee0" fill-opacity="0.39"/>
<circle cx="63.1" cy="82.8" r="0.7" fill="#4f9ee0" fill-opacity="0.66"/>
<circle cx="64.8" cy="82.5" r="0.55" fill="#4f9ee0" fill-opacity="0.28"/>
<circle cx="77.4" cy="88.3" r="0.55" fill="#4f9ee0" fill-opacity="0.28"/>
<circle cx="77.6" cy="91.1" r="0.55" fill="#4f9ee0" fill-opacity="0.33"/>
<circle cx="53.8" cy="78.6" r="0.55" fill="#4f9ee0" fill-opacity="0.32"/>
<circle cx="62.6" cy="75.4" r="0.55" fill="#4f9ee0" fill-opacity="0.29"/>
<circle cx="76.5" cy="90.4" r="0.55" fill="#4f9ee0" fill-opacity="0.35"/>
<circle cx="87.9" cy="104.8" r="0.55" fill="#4f9ee0" fill-opacity="0.43"/>
<circle cx="81.9" cy="93.3" r="0.55" fill="#4f9ee0" fill-opacity="0.26"/>
<circle cx="81.5" cy="102.1" r="0.7" fill="#4f9ee0" fill-opacity="0.49"/>
<circle cx="58.3" cy="66.1" r="0.55" fill="#4f9ee0" fill-opacity="0.23"/>
<circle cx="81.5" cy="96.3" r="0.55" fill="#4f9ee0" fill-opacity="0.27"/>
<circle cx="61.9" cy="69.3" r="0.55" fill="#4f9ee0" fill-opacity="0.22"/>
<circle cx="61.1" cy="72.7" r="0.55" fill="#4f9ee0" fill-opacity="0.27"/>
<circle cx="65.7" cy="82.1" r="0.55" fill="#4f9ee0" fill-opacity="0.44"/>
<circle cx="63.7" cy="87.7" r="0.55" fill="#4f9ee0" fill-opacity="0.35"/>
<circle cx="88.6" cy="111.1" r="0.55" fill="#4f9ee0" fill-opacity="0.38"/>
<circle cx="68.2" cy="83.7" r="0.55" fill="#4f9ee0" fill-opacity="0.36"/>
<circle cx="47.1" cy="53.8" r="0.55" fill="#4f9ee0" fill-opacity="0.22"/>
<circle cx="50.8" cy="79.6" r="0.7" fill="#4f9ee0" fill-opacity="0.53"/>
<circle cx="82.3" cy="93.8" r="0.55" fill="#4f9ee0" fill-opacity="0.26"/>
<circle cx="63.2" cy="83.6" r="0.7" fill="#4f9ee0" fill-opacity="0.50"/>
<circle cx="57.7" cy="60.9" r="0.55" fill="#4f9ee0" fill-opacity="0.22"/>
<circle cx="51.3" cy="65.3" r="0.55" fill="#4f9ee0" fill-opacity="0.23"/>
<circle cx="93.1" cy="111.4" r="0.7" fill="#4f9ee0" fill-opacity="0.58"/>
<circle cx="67.9" cy="89.3" r="0.7" fill="#4f9ee0" fill-opacity="0.67"/>
<circle cx="79.8" cy="105.1" r="0.55" fill="#4f9ee0" fill-opacity="0.33"/>
<circle cx="75.9" cy="93.9" r="0.55" fill="#4f9ee0" fill-opacity="0.28"/>
<circle cx="59.2" cy="76.6" r="0.55" fill="#4f9ee0" fill-opacity="0.28"/>
<circle cx="78.9" cy="103.2" r="0.55" fill="#4f9ee0" fill-opacity="0.36"/>
<circle cx="82.9" cy="99.7" r="0.7" fill="#4f9ee0" fill-opacity="0.46"/>
<circle cx="73.8" cy="96.4" r="0.7" fill="#4f9ee0" fill-opacity="0.44"/>
<circle cx="70.0" cy="92.9" r="0.55" fill="#4f9ee0" fill-opacity="0.39"/>
<circle cx="81.0" cy="94.5" r="0.55" fill="#4f9ee0" fill-opacity="0.32"/>
<circle cx="55.2" cy="81.8" r="0.55" fill="#4f9ee0" fill-opacity="0.25"/>
<circle cx="50.9" cy="65.2" r="0.55" fill="#4f9ee0" fill-opacity="0.22"/>
<circle cx="76.2" cy="84.5" r="0.55" fill="#4f9ee0" fill-opacity="0.25"/>
<circle cx="83.8" cy="107.1" r="0.55" fill="#4f9ee0" fill-opacity="0.37"/>
<circle cx="43.3" cy="65.1" r="0.55" fill="#4f9ee0" fill-opacity="0.22"/>
<circle cx="68.7" cy="80.7" r="0.55" fill="#4f9ee0" fill-opacity="0.24"/>
<circle cx="83.2" cy="93.2" r="0.55" fill="#4f9ee0" fill-opacity="0.26"/>
<circle cx="45.8" cy="69.1" r="0.55" fill="#4f9ee0" fill-opacity="0.24"/>
<circle cx="38.5" cy="78.1" r="0.55" fill="#4f9ee0" fill-opacity="0.24"/>
<circle cx="88.7" cy="110.8" r="0.55" fill="#4f9ee0" fill-opacity="0.39"/>
<circle cx="63.6" cy="78.6" r="0.55" fill="#4f9ee0" fill-opacity="0.29"/>
<circle cx="75.1" cy="89.7" r="0.55" fill="#4f9ee0" fill-opacity="0.27"/>
<circle cx="57.3" cy="79.8" r="0.7" fill="#4f9ee0" fill-opacity="0.57"/>
<circle cx="78.1" cy="100.2" r="0.55" fill="#4f9ee0" fill-opacity="0.40"/>
<circle cx="55.7" cy="80.0" r="0.55" fill="#4f9ee0" fill-opacity="0.33"/>
<circle cx="59.2" cy="73.3" r="0.55" fill="#4f9ee0" fill-opacity="0.23"/>
<circle cx="79.0" cy="90.4" r="0.55" fill="#4f9ee0" fill-opacity="0.28"/>
<circle cx="86.2" cy="100.1" r="0.55" fill="#4f9ee0" fill-opacity="0.32"/>
<circle cx="65.7" cy="86.2" r="0.55" fill="#4f9ee0" fill-opacity="0.31"/>
<circle cx="90.6" cy="112.7" r="0.7" fill="#4f9ee0" fill-opacity="0.51"/>
<circle cx="79.4" cy="101.0" r="0.7" fill="#4f9ee0" fill-opacity="0.51"/>
<circle cx="81.5" cy="98.8" r="0.7" fill="#4f9ee0" fill-opacity="0.51"/>
<circle cx="61.1" cy="78.0" r="0.55" fill="#4f9ee0" fill-opacity="0.24"/>
<circle cx="88.3" cy="91.0" r="0.55" fill="#4f9ee0" fill-opacity="0.23"/>
<circle cx="57.9" cy="72.3" r="0.55" fill="#4f9ee0" fill-opacity="0.29"/>
<circle cx="96.5" cy="108.8" r="0.55" fill="#4f9ee0" fill-opacity="0.28"/>
<circle cx="85.4" cy="108.2" r="0.55" fill="#4f9ee0" fill-opacity="0.32"/>
<circle cx="49.8" cy="74.1" r="0.55" fill="#4f9ee0" fill-opacity="0.25"/>
<circle cx="79.8" cy="105.0" r="0.55" fill="#4f9ee0" fill-opacity="0.32"/>
<circle cx="63.4" cy="72.8" r="0.55" fill="#4f9ee0" fill-opacity="0.25"/>
<circle cx="82.0" cy="107.3" r="0.55" fill="#4f9ee0" fill-opacity="0.27"/>
<circle cx="56.0" cy="76.9" r="0.55" fill="#4f9ee0" fill-opacity="0.26"/>
<circle cx="83.5" cy="103.7" r="0.55" fill="#4f9ee0" fill-opacity="0.37"/>
<circle cx="70.2" cy="83.1" r="0.55" fill="#4f9ee0" fill-opacity="0.30"/>
<circle cx="84.9" cy="105.3" r="0.55" fill="#4f9ee0" fill-opacity="0.37"/>
<circle cx="79.6" cy="94.2" r="0.55" fill="#4f9ee0" fill-opacity="0.37"/>
<circle cx="89.2" cy="113.0" r="0.55" fill="#4f9ee0" fill-opacity="0.38"/>
<circle cx="82.8" cy="104.7" r="0.55" fill="#4f9ee0" fill-opacity="0.43"/>
<circle cx="84.4" cy="105.2" r="0.7" fill="#4f9ee0" fill-opacity="0.65"/>
<circle cx="59.6" cy="76.9" r="0.55" fill="#4f9ee0" fill-opacity="0.25"/>
<circle cx="75.5" cy="94.5" r="0.7" fill="#4f9ee0" fill-opacity="0.60"/>
<circle cx="63.7" cy="78.3" r="0.55" fill="#4f9ee0" fill-opacity="0.32"/>
<circle cx="82.0" cy="99.0" r="0.7" fill="#4f9ee0" fill-opacity="0.45"/>
<circle cx="73.4" cy="89.4" r="0.55" fill="#4f9ee0" fill-opacity="0.35"/>
<circle cx="77.4" cy="100.2" r="0.55" fill="#4f9ee0" fill-opacity="0.25"/>
<circle cx="48.8" cy="67.0" r="0.55" fill="#4f9ee0" fill-opacity="0.23"/>
<circle cx="85.2" cy="100.4" r="0.55" fill="#4f9ee0" fill-opacity="0.35"/>
<circle cx="68.4" cy="84.1" r="0.55" fill="#4f9ee0" fill-opacity="0.33"/>
<circle cx="41.1" cy="57.1" r="0.55" fill="#4f9ee0" fill-opacity="0.22"/>
<circle cx="89.0" cy="92.4" r="0.55" fill="#4f9ee0" fill-opacity="0.23"/>
<circle cx="48.4" cy="80.8" r="0.7" fill="#4f9ee0" fill-opacity="0.72"/>
<circle cx="79.8" cy="98.3" r="0.7" fill="#4f9ee0" fill-opacity="0.59"/>
<circle cx="66.5" cy="92.9" r="0.55" fill="#4f9ee0" fill-opacity="0.28"/>
<circle cx="79.2" cy="103.8" r="0.55" fill="#4f9ee0" fill-opacity="0.34"/>
<circle cx="84.5" cy="107.1" r="0.7" fill="#4f9ee0" fill-opacity="0.50"/>
<circle cx="80.8" cy="97.0" r="0.55" fill="#4f9ee0" fill-opacity="0.41"/>
<circle cx="64.3" cy="83.5" r="0.7" fill="#4f9ee0" fill-opacity="0.59"/>
<circle cx="66.2" cy="69.4" r="0.55" fill="#4f9ee0" fill-opacity="0.22"/>
<circle cx="90.0" cy="101.8" r="0.55" fill="#4f9ee0" fill-opacity="0.29"/>
<circle cx="76.0" cy="96.1" r="0.7" fill="#4f9ee0" fill-opacity="0.52"/>
<circle cx="90.0" cy="106.8" r="0.55" fill="#4f9ee0" fill-opacity="0.36"/>
<circle cx="74.2" cy="94.3" r="0.55" fill="#4f9ee0" fill-opacity="0.28"/>
<circle cx="81.4" cy="97.9" r="0.55" fill="#4f9ee0" fill-opacity="0.36"/>
<circle cx="77.6" cy="90.9" r="0.55" fill="#4f9ee0" fill-opacity="0.32"/>
<circle cx="63.7" cy="88.9" r="0.55" fill="#4f9ee0" fill-opacity="0.27"/>
<circle cx="46.6" cy="77.3" r="0.55" fill="#4f9ee0" fill-opacity="0.37"/>
<circle cx="81.7" cy="109.5" r="0.55" fill="#4f9ee0" fill-opacity="0.26"/>
<circle cx="54.6" cy="82.1" r="0.55" fill="#4f9ee0" fill-opacity="0.27"/>
<circle cx="86.3" cy="103.2" r="0.55" fill="#4f9ee0" fill-opacity="0.44"/>
<circle cx="80.0" cy="96.6" r="0.7" fill="#4f9ee0" fill-opacity="0.46"/>
<circle cx="67.2" cy="81.7" r="0.55" fill="#4f9ee0" fill-opacity="0.25"/>
<circle cx="78.5" cy="97.7" r="0.55" fill="#4f9ee0" fill-opacity="0.40"/>
<circle cx="86.0" cy="107.8" r="0.7" fill="#4f9ee0" fill-opacity="0.49"/>
<circle cx="74.7" cy="86.0" r="0.55" fill="#4f9ee0" fill-opacity="0.26"/>
<circle cx="89.8" cy="111.0" r="0.7" fill="#4f9ee0" fill-opacity="0.49"/>
<circle cx="95.2" cy="101.0" r="0.55" fill="#4f9ee0" fill-opacity="0.23"/>
<circle cx="69.2" cy="91.0" r="0.55" fill="#4f9ee0" fill-opacity="0.40"/>
<circle cx="92.3" cy="109.0" r="0.55" fill="#4f9ee0" fill-opacity="0.43"/>
<circle cx="79.8" cy="98.8" r="0.7" fill="#4f9ee0" fill-opacity="0.62"/>
<circle cx="50.3" cy="66.7" r="0.55" fill="#4f9ee0" fill-opacity="0.23"/>
<circle cx="58.0" cy="41.5" r="0.55" fill="#4f9ee0" fill-opacity="0.22"/>
<circle cx="80.4" cy="91.1" r="0.55" fill="#4f9ee0" fill-opacity="0.25"/>
<circle cx="44.0" cy="42.8" r="0.55" fill="#4f9ee0" fill-opacity="0.22"/>
<circle cx="58.6" cy="73.5" r="0.55" fill="#4f9ee0" fill-opacity="0.24"/>
<circle cx="54.1" cy="46.5" r="0.55" fill="#4f9ee0" fill-opacity="0.22"/>
<circle cx="79.2" cy="97.8" r="0.7" fill="#4f9ee0" fill-opacity="0.59"/>
<circle cx="52.6" cy="73.8" r="0.55" fill="#4f9ee0" fill-opacity="0.35"/>
<circle cx="61.0" cy="71.4" r="0.55" fill="#4f9ee0" fill-opacity="0.25"/>
<circle cx="57.1" cy="77.0" r="0.7" fill="#4f9ee0" fill-opacity="0.53"/>
<circle cx="55.9" cy="71.5" r="0.55" fill="#4f9ee0" fill-opacity="0.28"/>
<circle cx="59.3" cy="70.9" r="0.55" fill="#4f9ee0" fill-opacity="0.25"/>
<circle cx="46.7" cy="69.0" r="0.55" fill="#4f9ee0" fill-opacity="0.24"/>
<circle cx="84.4" cy="99.6" r="0.55" fill="#4f9ee0" fill-opacity="0.34"/>
<circle cx="75.6" cy="96.3" r="0.7" fill="#4f9ee0" fill-opacity="0.48"/>
<circle cx="70.7" cy="90.5" r="0.55" fill="#4f9ee0" fill-opacity="0.42"/>
<circle cx="91.8" cy="110.9" r="0.7" fill="#4f9ee0" fill-opacity="0.48"/>
<circle cx="55.3" cy="74.2" r="0.55" fill="#4f9ee0" fill-opacity="0.26"/>
<circle cx="50.1" cy="76.0" r="0.55" fill="#4f9ee0" fill-opacity="0.24"/>
<circle cx="86.3" cy="108.5" r="0.7" fill="#4f9ee0" fill-opacity="0.44"/>
<circle cx="46.6" cy="79.8" r="0.7" fill="#4f9ee0" fill-opacity="0.52"/>
<circle cx="65.7" cy="77.4" r="0.55" fill="#4f9ee0" fill-opacity="0.24"/>
<circle cx="76.1" cy="94.4" r="0.7" fill="#4f9ee0" fill-opacity="0.55"/>
<circle cx="81.9" cy="101.1" r="0.7" fill="#4f9ee0" fill-opacity="0.46"/>
<circle cx="94.9" cy="109.1" r="0.55" fill="#4f9ee0" fill-opacity="0.32"/>
<circle cx="86.9" cy="103.5" r="0.55" fill="#4f9ee0" fill-opacity="0.39"/>
<circle cx="55.2" cy="70.0" r="0.55" fill="#4f9ee0" fill-opacity="0.24"/>
<circle cx="53.3" cy="75.0" r="0.55" fill="#4f9ee0" fill-opacity="0.35"/>
<circle cx="65.5" cy="81.4" r="0.55" fill="#4f9ee0" fill-opacity="0.38"/>
<circle cx="65.0" cy="84.2" r="0.55" fill="#4f9ee0" fill-opacity="0.24"/>
<circle cx="46.2" cy="68.1" r="0.55" fill="#4f9ee0" fill-opacity="0.23"/>
<circle cx="85.5" cy="104.8" r="0.7" fill="#4f9ee0" fill-opacity="0.46"/>
<circle cx="75.0" cy="96.8" r="0.55" fill="#4f9ee0" fill-opacity="0.27"/>
<circle cx="91.6" cy="107.4" r="0.55" fill="#4f9ee0" fill-opacity="0.41"/>
<circle cx="78.7" cy="89.5" r="0.55" fill="#4f9ee0" fill-opacity="0.28"/>
<circle cx="71.4" cy="90.3" r="0.55" fill="#4f9ee0" fill-opacity="0.30"/>
<circle cx="76.4" cy="98.8" r="0.55" fill="#4f9ee0" fill-opacity="0.42"/>
<circle cx="78.2" cy="93.8" r="0.55" fill="#4f9ee0" fill-opacity="0.39"/>
<circle cx="69.3" cy="93.4" r="0.55" fill="#4f9ee0" fill-opacity="0.30"/>
<circle cx="57.6" cy="79.4" r="0.55" fill="#4f9ee0" fill-opacity="0.30"/>
<circle cx="65.4" cy="85.4" r="0.55" fill="#4f9ee0" fill-opacity="0.24"/>
<circle cx="87.5" cy="109.6" r="0.7" fill="#4f9ee0" fill-opacity="0.54"/>
<circle cx="47.7" cy="78.1" r="0.7" fill="#4f9ee0" fill-opacity="0.47"/>
<circle cx="91.4" cy="110.0" r="0.7" fill="#4f9ee0" fill-opacity="0.57"/>
<circle cx="43.0" cy="82.1" r="0.55" fill="#4f9ee0" fill-opacity="0.38"/>
<circle cx="87.5" cy="106.8" r="0.7" fill="#4f9ee0" fill-opacity="0.64"/>
<circle cx="81.8" cy="101.1" r="0.55" fill="#4f9ee0" fill-opacity="0.27"/>
<circle cx="83.1" cy="99.3" r="0.55" fill="#4f9ee0" fill-opacity="0.44"/>
<circle cx="88.8" cy="102.6" r="0.55" fill="#4f9ee0" fill-opacity="0.34"/>
<circle cx="75.5" cy="96.2" r="0.7" fill="#4f9ee0" fill-opacity="0.66"/>
<circle cx="80.5" cy="90.7" r="0.55" fill="#4f9ee0" fill-opacity="0.24"/>
<circle cx="71.5" cy="88.2" r="0.7" fill="#4f9ee0" fill-opacity="0.45"/>
<circle cx="49.1" cy="76.9" r="0.7" fill="#4f9ee0" fill-opacity="0.51"/>
<circle cx="49.6" cy="77.4" r="0.55" fill="#4f9ee0" fill-opacity="0.39"/>
<circle cx="87.8" cy="99.2" r="0.55" fill="#4f9ee0" fill-opacity="0.27"/>
<circle cx="61.8" cy="82.6" r="0.55" fill="#4f9ee0" fill-opacity="0.27"/>
<circle cx="42.9" cy="79.3" r="0.55" fill="#4f9ee0" fill-opacity="0.31"/>
<circle cx="61.8" cy="71.9" r="0.55" fill="#4f9ee0" fill-opacity="0.25"/>
<circle cx="64.8" cy="85.5" r="0.7" fill="#4f9ee0" fill-opacity="0.68"/>
<circle cx="89.9" cy="110.8" r="0.7" fill="#4f9ee0" fill-opacity="0.60"/>
<circle cx="80.9" cy="96.6" r="0.55" fill="#4f9ee0" fill-opacity="0.39"/>
<circle cx="67.5" cy="95.2" r="0.55" fill="#4f9ee0" fill-opacity="0.27"/>
<circle cx="76.0" cy="89.0" r="0.55" fill="#4f9ee0" fill-opacity="0.27"/>
<circle cx="90.4" cy="108.1" r="0.55" fill="#4f9ee0" fill-opacity="0.42"/>
<circle cx="60.8" cy="91.3" r="0.55" fill="#4f9ee0" fill-opacity="0.23"/>
<circle cx="81.6" cy="100.9" r="0.7" fill="#4f9ee0" fill-opacity="0.68"/>
<circle cx="42.7" cy="76.3" r="0.55" fill="#4f9ee0" fill-opacity="0.26"/>
<circle cx="87.0" cy="103.8" r="0.55" fill="#4f9ee0" fill-opacity="0.40"/>
<circle cx="51.7" cy="71.8" r="0.55" fill="#4f9ee0" fill-opacity="0.29"/>
<circle cx="80.2" cy="85.8" r="0.55" fill="#4f9ee0" fill-opacity="0.23"/>
<circle cx="72.9" cy="86.1" r="0.55" fill="#4f9ee0" fill-opacity="0.32"/>
<circle cx="68.7" cy="81.6" r="0.55" fill="#4f9ee0" fill-opacity="0.29"/>
<circle cx="63.7" cy="79.6" r="0.55" fill="#4f9ee0" fill-opacity="0.29"/>
<circle cx="68.5" cy="92.0" r="0.55" fill="#4f9ee0" fill-opacity="0.41"/>
<circle cx="80.3" cy="88.0" r="0.55" fill="#4f9ee0" fill-opacity="0.23"/>
<circle cx="90.9" cy="112.6" r="0.7" fill="#4f9ee0" fill-opacity="0.54"/>
<circle cx="63.5" cy="67.1" r="0.55" fill="#4f9ee0" fill-opacity="0.22"/>
<circle cx="80.6" cy="98.3" r="0.7" fill="#4f9ee0" fill-opacity="0.46"/>
<circle cx="83.7" cy="92.1" r="0.55" fill="#4f9ee0" fill-opacity="0.25"/>
<circle cx="90.6" cy="108.0" r="0.7" fill="#4f9ee0" fill-opacity="0.51"/>
<circle cx="83.8" cy="105.7" r="0.7" fill="#4f9ee0" fill-opacity="0.57"/>
<circle cx="53.3" cy="47.6" r="0.55" fill="#4f9ee0" fill-opacity="0.22"/>
<circle cx="48.1" cy="75.7" r="0.55" fill="#4f9ee0" fill-opacity="0.34"/>
<circle cx="75.0" cy="104.2" r="0.55" fill="#4f9ee0" fill-opacity="0.25"/>
<circle cx="72.5" cy="92.6" r="0.7" fill="#4f9ee0" fill-opacity="0.48"/>
<circle cx="87.0" cy="104.2" r="0.7" fill="#4f9ee0" fill-opacity="0.49"/>
<circle cx="41.7" cy="72.5" r="0.55" fill="#4f9ee0" fill-opacity="0.23"/>
<circle cx="62.7" cy="76.1" r="0.55" fill="#4f9ee0" fill-opacity="0.27"/>
<circle cx="67.8" cy="78.4" r="0.55" fill="#4f9ee0" fill-opacity="0.24"/>
<circle cx="85.3" cy="102.7" r="0.55" fill="#4f9ee0" fill-opacity="0.41"/>
<circle cx="69.1" cy="89.3" r="0.55" fill="#4f9ee0" fill-opacity="0.41"/>
<circle cx="96.3" cy="106.7" r="0.55" fill="#4f9ee0" fill-opacity="0.25"/>
<circle cx="83.2" cy="104.5" r="0.7" fill="#4f9ee0" fill-opacity="0.44"/>
<circle cx="92.7" cy="111.1" r="0.7" fill="#4f9ee0" fill-opacity="0.57"/>
<circle cx="68.9" cy="90.0" r="0.7" fill="#4f9ee0" fill-opacity="0.71"/>
<circle cx="62.9" cy="69.3" r="0.55" fill="#4f9ee0" fill-opacity="0.23"/>
<circle cx="64.0" cy="78.3" r="0.55" fill="#4f9ee0" fill-opacity="0.28"/>
<circle cx="69.5" cy="91.7" r="0.55" fill="#4f9ee0" fill-opacity="0.34"/>
<circle cx="66.8" cy="85.0" r="0.55" fill="#4f9ee0" fill-opacity="0.36"/>
<circle cx="55.4" cy="78.9" r="0.7" fill="#4f9ee0" fill-opacity="0.63"/>
<circle cx="66.2" cy="58.1" r="0.55" fill="#4f9ee0" fill-opacity="0.22"/>
<circle cx="60.1" cy="83.5" r="0.55" fill="#4f9ee0" fill-opacity="0.37"/>
<circle cx="56.4" cy="75.0" r="0.55" fill="#4f9ee0" fill-opacity="0.32"/>
<circle cx="83.5" cy="107.5" r="0.55" fill="#4f9ee0" fill-opacity="0.39"/>
<circle cx="85.7" cy="107.1" r="0.55" fill="#4f9ee0" fill-opacity="0.33"/>
<circle cx="54.9" cy="66.0" r="0.55" fill="#4f9ee0" fill-opacity="0.23"/>
<circle cx="48.4" cy="79.0" r="0.55" fill="#4f9ee0" fill-opacity="0.32"/>
<circle cx="57.7" cy="71.2" r="0.55" fill="#4f9ee0" fill-opacity="0.26"/>
<circle cx="68.9" cy="82.4" r="0.55" fill="#4f9ee0" fill-opacity="0.25"/>
<circle cx="49.2" cy="72.8" r="0.55" fill="#4f9ee0" fill-opacity="0.23"/>
<circle cx="80.0" cy="92.8" r="0.55" fill="#4f9ee0" fill-opacity="0.31"/>
<circle cx="93.7" cy="112.7" r="0.7" fill="#4f9ee0" fill-opacity="0.68"/>
<circle cx="82.9" cy="96.4" r="0.55" fill="#4f9ee0" fill-opacity="0.32"/>
<circle cx="71.6" cy="90.9" r="0.7" fill="#4f9ee0" fill-opacity="0.68"/>
<circle cx="63.6" cy="83.8" r="0.7" fill="#4f9ee0" fill-opacity="0.45"/>
<circle cx="43.7" cy="75.4" r="0.55" fill="#4f9ee0" fill-opacity="0.25"/>
<circle cx="65.8" cy="76.9" r="0.55" fill="#4f9ee0" fill-opacity="0.28"/>
<circle cx="64.6" cy="81.2" r="0.7" fill="#4f9ee0" fill-opacity="0.44"/>
<circle cx="89.7" cy="108.6" r="0.7" fill="#4f9ee0" fill-opacity="0.56"/>
<circle cx="71.9" cy="86.9" r="0.55" fill="#4f9ee0" fill-opacity="0.33"/>
<circle cx="77.3" cy="95.8" r="0.7" fill="#4f9ee0" fill-opacity="0.60"/>
<circle cx="91.9" cy="111.4" r="0.7" fill="#4f9ee0" fill-opacity="0.63"/>
<circle cx="76.6" cy="92.9" r="0.55" fill="#4f9ee0" fill-opacity="0.44"/>
<circle cx="79.8" cy="94.4" r="0.55" fill="#4f9ee0" fill-opacity="0.32"/>
<circle cx="78.1" cy="97.1" r="0.7" fill="#4f9ee0" fill-opacity="0.49"/>
<circle cx="83.5" cy="102.9" r="0.7" fill="#4f9ee0" fill-opacity="0.45"/>
<circle cx="57.0" cy="57.1" r="0.55" fill="#4f9ee0" fill-opacity="0.22"/>
<circle cx="48.5" cy="68.4" r="0.55" fill="#4f9ee0" fill-opacity="0.23"/>
<circle cx="48.3" cy="74.1" r="0.55" fill="#4f9ee0" fill-opacity="0.30"/>
<circle cx="94.4" cy="103.0" r="0.55" fill="#4f9ee0" fill-opacity="0.24"/>
<circle cx="92.2" cy="110.1" r="0.7" fill="#4f9ee0" fill-opacity="0.53"/>
<circle cx="84.3" cy="90.1" r="0.55" fill="#4f9ee0" fill-opacity="0.24"/>
<circle cx="65.8" cy="90.0" r="0.55" fill="#4f9ee0" fill-opacity="0.26"/>
<circle cx="88.6" cy="110.9" r="0.55" fill="#4f9ee0" fill-opacity="0.42"/>
<circle cx="88.5" cy="106.3" r="0.7" fill="#4f9ee0" fill-opacity="0.53"/>
<circle cx="77.7" cy="94.0" r="0.55" fill="#4f9ee0" fill-opacity="0.43"/>
<circle cx="72.5" cy="82.9" r="0.55" fill="#4f9ee0" fill-opacity="0.25"/>
<circle cx="87.7" cy="109.5" r="0.7" fill="#4f9ee0" fill-opacity="0.50"/>
<circle cx="74.5" cy="82.5" r="0.55" fill="#4f9ee0" fill-opacity="0.25"/>
<circle cx="45.4" cy="73.2" r="0.55" fill="#4f9ee0" fill-opacity="0.25"/>
<circle cx="90.2" cy="111.3" r="0.55" fill="#4f9ee0" fill-opacity="0.43"/>
<circle cx="72.0" cy="84.2" r="0.55" fill="#4f9ee0" fill-opacity="0.30"/>
<circle cx="72.2" cy="83.6" r="0.55" fill="#4f9ee0" fill-opacity="0.25"/>
<circle cx="71.8" cy="84.8" r="0.55" fill="#4f9ee0" fill-opacity="0.27"/>
<circle cx="58.1" cy="76.3" r="0.55" fill="#4f9ee0" fill-opacity="0.26"/>
<circle cx="80.9" cy="101.1" r="0.7" fill="#4f9ee0" fill-opacity="0.55"/>
<circle cx="57.4" cy="70.6" r="0.55" fill="#4f9ee0" fill-opacity="0.22"/>
<circle cx="71.4" cy="90.8" r="0.7" fill="#4f9ee0" fill-opacity="0.68"/>
<circle cx="88.4" cy="102.6" r="0.55" fill="#4f9ee0" fill-opacity="0.33"/>
<circle cx="52.8" cy="73.8" r="0.55" fill="#4f9ee0" fill-opacity="0.28"/>
<circle cx="71.0" cy="82.7" r="0.55" fill="#4f9ee0" fill-opacity="0.26"/>
<circle cx="67.0" cy="88.6" r="0.7" fill="#4f9ee0" fill-opacity="0.56"/>
<circle cx="52.3" cy="59.9" r="0.55" fill="#4f9ee0" fill-opacity="0.22"/>
<circle cx="55.7" cy="76.8" r="0.55" fill="#4f9ee0" fill-opacity="0.38"/>
<circle cx="89.0" cy="108.0" r="0.7" fill="#4f9ee0" fill-opacity="0.60"/>
<circle cx="92.3" cy="111.7" r="0.7" fill="#4f9ee0" fill-opacity="0.72"/>
<circle cx="76.2" cy="94.0" r="0.55" fill="#4f9ee0" fill-opacity="0.40"/>
<circle cx="56.8" cy="72.6" r="0.55" fill="#4f9ee0" fill-opacity="0.23"/>
<circle cx="71.5" cy="87.8" r="0.55" fill="#4f9ee0" fill-opacity="0.40"/>
<circle cx="70.6" cy="80.2" r="0.55" fill="#4f9ee0" fill-opacity="0.25"/>
<circle cx="83.2" cy="94.5" r="0.55" fill="#4f9ee0" fill-opacity="0.28"/>
<circle cx="70.0" cy="73.6" r="0.55" fill="#4f9ee0" fill-opacity="0.23"/>
<circle cx="82.7" cy="100.7" r="0.7" fill="#4f9ee0" fill-opacity="0.52"/>
<circle cx="47.8" cy="78.4" r="0.55" fill="#4f9ee0" fill-opacity="0.24"/>
<circle cx="43.3" cy="73.6" r="0.55" fill="#4f9ee0" fill-opacity="0.24"/>
<circle cx="80.8" cy="95.7" r="0.55" fill="#4f9ee0" fill-opacity="0.32"/>
<circle cx="62.0" cy="77.5" r="0.55" fill="#4f9ee0" fill-opacity="0.24"/>
<circle cx="50.6" cy="74.1" r="0.55" fill="#4f9ee0" fill-opacity="0.31"/>
<circle cx="86.0" cy="108.3" r="0.55" fill="#4f9ee0" fill-opacity="0.41"/>
<circle cx="50.3" cy="72.6" r="0.55" fill="#4f9ee0" fill-opacity="0.22"/>
<circle cx="65.6" cy="90.1" r="0.55" fill="#4f9ee0" fill-opacity="0.31"/>
<circle cx="53.3" cy="77.6" r="0.7" fill="#4f9ee0" fill-opacity="0.47"/>
<circle cx="65.0" cy="59.6" r="0.55" fill="#4f9ee0" fill-opacity="0.22"/>
<circle cx="82.5" cy="105.8" r="0.55" fill="#4f9ee0" fill-opacity="0.43"/>
<circle cx="88.7" cy="108.2" r="0.55" fill="#4f9ee0" fill-opacity="0.33"/>
<circle cx="61.7" cy="74.7" r="0.55" fill="#4f9ee0" fill-opacity="0.26"/>
<circle cx="79.0" cy="98.7" r="0.7" fill="#4f9ee0" fill-opacity="0.55"/>
<circle cx="88.6" cy="109.5" r="0.7" fill="#4f9ee0" fill-opacity="0.60"/>
<circle cx="50.6" cy="66.9" r="0.55" fill="#4f9ee0" fill-opacity="0.23"/>
<circle cx="50.1" cy="53.5" r="0.55" fill="#4f9ee0" fill-opacity="0.22"/>
<circle cx="56.5" cy="71.9" r="0.55" fill="#4f9ee0" fill-opacity="0.23"/>
<circle cx="68.1" cy="92.1" r="0.55" fill="#4f9ee0" fill-opacity="0.37"/>
<circle cx="90.7" cy="101.4" r="0.55" fill="#4f9ee0" fill-opacity="0.28"/>
<circle cx="50.9" cy="77.0" r="0.7" fill="#4f9ee0" fill-opacity="0.46"/>
<circle cx="91.9" cy="110.2" r="0.7" fill="#4f9ee0" fill-opacity="0.55"/>
<circle cx="73.2" cy="89.6" r="0.55" fill="#4f9ee0" fill-opacity="0.42"/>
<circle cx="58.7" cy="82.6" r="0.55" fill="#4f9ee0" fill-opacity="0.23"/>
<circle cx="75.3" cy="94.7" r="0.7" fill="#4f9ee0" fill-opacity="0.64"/>
<circle cx="48.5" cy="79.2" r="0.55" fill="#4f9ee0" fill-opacity="0.24"/>
<circle cx="38.3" cy="71.3" r="0.55" fill="#4f9ee0" fill-opacity="0.22"/>
<circle cx="82.5" cy="94.7" r="0.55" fill="#4f9ee0" fill-opacity="0.27"/>
<circle cx="73.5" cy="79.8" r="0.55" fill="#4f9ee0" fill-opacity="0.23"/>
<circle cx="85.4" cy="104.3" r="0.7" fill="#4f9ee0" fill-opacity="0.55"/>
<circle cx="80.4" cy="87.4" r="0.55" fill="#4f9ee0" fill-opacity="0.24"/>
<circle cx="71.9" cy="94.1" r="0.55" fill="#4f9ee0" fill-opacity="0.38"/>
<circle cx="52.8" cy="77.9" r="0.7" fill="#4f9ee0" fill-opacity="0.56"/>
<circle cx="71.8" cy="80.6" r="0.55" fill="#4f9ee0" fill-opacity="0.25"/>
<circle cx="91.8" cy="103.6" r="0.55" fill="#4f9ee0" fill-opacity="0.27"/>
<circle cx="72.5" cy="87.2" r="0.55" fill="#4f9ee0" fill-opacity="0.32"/>
<circle cx="84.9" cy="99.5" r="0.55" fill="#4f9ee0" fill-opacity="0.36"/>
<circle cx="81.2" cy="99.6" r="0.7" fill="#4f9ee0" fill-opacity="0.59"/>
<circle cx="83.1" cy="95.9" r="0.55" fill="#4f9ee0" fill-opacity="0.30"/>
<circle cx="69.6" cy="83.7" r="0.55" fill="#4f9ee0" fill-opacity="0.23"/>
<circle cx="86.1" cy="102.3" r="0.55" fill="#4f9ee0" fill-opacity="0.44"/>
<circle cx="86.9" cy="108.8" r="0.7" fill="#4f9ee0" fill-opacity="0.52"/>
<circle cx="82.1" cy="92.0" r="0.55" fill="#4f9ee0" fill-opacity="0.27"/>
<circle cx="60.7" cy="78.3" r="0.55" fill="#4f9ee0" fill-opacity="0.26"/>
<circle cx="50.0" cy="68.4" r="0.55" fill="#4f9ee0" fill-opacity="0.24"/>
<circle cx="61.1" cy="88.8" r="0.55" fill="#4f9ee0" fill-opacity="0.27"/>
<circle cx="94.4" cy="105.0" r="0.55" fill="#4f9ee0" fill-opacity="0.26"/>
<circle cx="59.9" cy="80.5" r="0.7" fill="#4f9ee0" fill-opacity="0.75"/>
<circle cx="87.3" cy="101.1" r="0.55" fill="#4f9ee0" fill-opacity="0.30"/>
<circle cx="83.4" cy="103.3" r="0.7" fill="#4f9ee0" fill-opacity="0.49"/>
<circle cx="69.0" cy="90.1" r="0.55" fill="#4f9ee0" fill-opacity="0.35"/>
<circle cx="62.5" cy="85.9" r="0.55" fill="#4f9ee0" fill-opacity="0.34"/>
<circle cx="58.0" cy="65.4" r="0.55" fill="#4f9ee0" fill-opacity="0.22"/>
<circle cx="57.4" cy="80.5" r="0.55" fill="#4f9ee0" fill-opacity="0.24"/>
<circle cx="40.7" cy="72.0" r="0.55" fill="#4f9ee0" fill-opacity="0.23"/>
<circle cx="73.9" cy="84.1" r="0.55" fill="#4f9ee0" fill-opacity="0.26"/>
<circle cx="52.8" cy="74.5" r="0.55" fill="#4f9ee0" fill-opacity="0.36"/>
<circle cx="81.3" cy="93.0" r="0.55" fill="#4f9ee0" fill-opacity="0.27"/>
<circle cx="66.5" cy="89.5" r="0.55" fill="#4f9ee0" fill-opacity="0.37"/>
<circle cx="96.7" cy="111.2" r="0.55" fill="#4f9ee0" fill-opacity="0.35"/>
<circle cx="43.5" cy="78.3" r="0.55" fill="#4f9ee0" fill-opacity="0.31"/>
<circle cx="84.4" cy="103.2" r="0.7" fill="#4f9ee0" fill-opacity="0.57"/>
<circle cx="43.2" cy="55.6" r="0.55" fill="#4f9ee0" fill-opacity="0.22"/>
<circle cx="41.4" cy="65.8" r="0.55" fill="#4f9ee0" fill-opacity="0.22"/>
<circle cx="53.1" cy="64.6" r="0.55" fill="#4f9ee0" fill-opacity="0.22"/>
<circle cx="64.4" cy="70.4" r="0.55" fill="#4f9ee0" fill-opacity="0.23"/>
<circle cx="92.9" cy="110.4" r="0.7" fill="#4f9ee0" fill-opacity="0.48"/>
<circle cx="61.9" cy="83.1" r="0.55" fill="#4f9ee0" fill-opacity="0.29"/>
<circle cx="49.6" cy="77.9" r="0.7" fill="#4f9ee0" fill-opacity="0.56"/>
<circle cx="49.1" cy="80.9" r="0.55" fill="#4f9ee0" fill-opacity="0.40"/>
<circle cx="93.5" cy="111.5" r="0.7" fill="#4f9ee0" fill-opacity="0.53"/>
<circle cx="61.1" cy="76.9" r="0.55" fill="#4f9ee0" fill-opacity="0.31"/>
<circle cx="75.2" cy="91.6" r="0.7" fill="#4f9ee0" fill-opacity="0.44"/>
<circle cx="87.6" cy="107.4" r="0.55" fill="#4f9ee0" fill-opacity="0.31"/>
<circle cx="55.3" cy="67.6" r="0.55" fill="#4f9ee0" fill-opacity="0.24"/>
<circle cx="79.8" cy="98.4" r="0.7" fill="#4f9ee0" fill-opacity="0.61"/>
<circle cx="60.1" cy="82.6" r="0.55" fill="#4f9ee0" fill-opacity="0.27"/>
<circle cx="71.2" cy="79.1" r="0.55" fill="#4f9ee0" fill-opacity="0.25"/>
<circle cx="50.5" cy="76.5" r="0.55" fill="#4f9ee0" fill-opacity="0.25"/>
<circle cx="80.0" cy="94.5" r="0.55" fill="#4f9ee0" fill-opacity="0.30"/>
<circle cx="59.1" cy="74.2" r="0.55" fill="#4f9ee0" fill-opacity="0.31"/>
<circle cx="86.1" cy="109.1" r="0.7" fill="#4f9ee0" fill-opacity="0.46"/>
<circle cx="79.7" cy="96.6" r="0.55" fill="#4f9ee0" fill-opacity="0.24"/>
<circle cx="70.0" cy="86.7" r="0.55" fill="#4f9ee0" fill-opacity="0.33"/>
<circle cx="57.5" cy="81.5" r="0.55" fill="#4f9ee0" fill-opacity="0.32"/>
<circle cx="90.1" cy="112.6" r="0.7" fill="#4f9ee0" fill-opacity="0.48"/>
<circle cx="43.7" cy="48.6" r="0.55" fill="#4f9ee0" fill-opacity="0.22"/>
<circle cx="95.1" cy="111.7" r="0.55" fill="#4f9ee0" fill-opacity="0.43"/>
<circle cx="81.5" cy="93.6" r="0.55" fill="#4f9ee0" fill-opacity="0.30"/>
<circle cx="77.0" cy="89.0" r="0.55" fill="#4f9ee0" fill-opacity="0.25"/>
<circle cx="67.5" cy="81.6" r="0.55" fill="#4f9ee0" fill-opacity="0.32"/>
<circle cx="69.3" cy="77.9" r="0.55" fill="#4f9ee0" fill-opacity="0.25"/>
<circle cx="81.8" cy="99.8" r="0.7" fill="#4f9ee0" fill-opacity="0.55"/>
<circle cx="88.9" cy="108.3" r="0.7" fill="#4f9ee0" fill-opacity="0.58"/>
<circle cx="84.0" cy="98.6" r="0.55" fill="#4f9ee0" fill-opacity="0.28"/>
<circle cx="74.0" cy="85.4" r="0.55" fill="#4f9ee0" fill-opacity="0.24"/>
<circle cx="68.4" cy="93.0" r="0.55" fill="#4f9ee0" fill-opacity="0.37"/>
<circle cx="94.8" cy="112.7" r="0.7" fill="#4f9ee0" fill-opacity="0.52"/>
<circle cx="63.5" cy="76.4" r="0.55" fill="#4f9ee0" fill-opacity="0.27"/>
<circle cx="79.0" cy="92.8" r="0.55" fill="#4f9ee0" fill-opacity="0.32"/>
<circle cx="60.8" cy="81.5" r="0.55" fill="#4f9ee0" fill-opacity="0.41"/>
<circle cx="84.3" cy="109.9" r="0.55" fill="#4f9ee0" fill-opacity="0.32"/>
<circle cx="67.1" cy="87.9" r="0.7" fill="#4f9ee0" fill-opacity="0.77"/>
<circle cx="70.0" cy="68.8" r="0.55" fill="#4f9ee0" fill-opacity="0.22"/>
<circle cx="96.5" cy="110.9" r="0.55" fill="#4f9ee0" fill-opacity="0.31"/>
<circle cx="76.0" cy="95.5" r="0.55" fill="#4f9ee0" fill-opacity="0.36"/>
<circle cx="63.4" cy="67.3" r="0.55" fill="#4f9ee0" fill-opacity="0.23"/>
<circle cx="87.2" cy="105.3" r="0.7" fill="#4f9ee0" fill-opacity="0.51"/>
<circle cx="83.1" cy="95.7" r="0.55" fill="#4f9ee0" fill-opacity="0.31"/>
<circle cx="86.0" cy="92.3" r="0.55" fill="#4f9ee0" fill-opacity="0.24"/>
<circle cx="87.6" cy="100.3" r="0.55" fill="#4f9ee0" fill-opacity="0.32"/>
<circle cx="84.6" cy="91.2" r="0.55" fill="#4f9ee0" fill-opacity="0.23"/>
<circle cx="74.7" cy="94.2" r="0.7" fill="#4f9ee0" fill-opacity="0.70"/>
<circle cx="47.7" cy="63.7" r="0.55" fill="#4f9ee0" fill-opacity="0.22"/>
<circle cx="65.8" cy="73.1" r="0.55" fill="#4f9ee0" fill-opacity="0.23"/>
<circle cx="59.6" cy="75.2" r="0.55" fill="#4f9ee0" fill-opacity="0.23"/>
<circle cx="83.9" cy="102.7" r="0.7" fill="#4f9ee0" fill-opacity="0.60"/>
<circle cx="91.0" cy="99.8" r="0.55" fill="#4f9ee0" fill-opacity="0.24"/>
<circle cx="84.2" cy="100.3" r="0.55" fill="#4f9ee0" fill-opacity="0.43"/>
<circle cx="50.5" cy="78.8" r="0.55" fill="#4f9ee0" fill-opacity="0.25"/>
<circle cx="57.2" cy="77.8" r="0.55" fill="#4f9ee0" fill-opacity="0.24"/>
<circle cx="76.7" cy="92.3" r="0.55" fill="#4f9ee0" fill-opacity="0.38"/>
<circle cx="60.4" cy="73.4" r="0.55" fill="#4f9ee0" fill-opacity="0.28"/>
<circle cx="51.7" cy="63.4" r="0.55" fill="#4f9ee0" fill-opacity="0.22"/>
<circle cx="63.6" cy="88.2" r="0.55" fill="#4f9ee0" fill-opacity="0.27"/>
<circle cx="50.2" cy="77.7" r="0.55" fill="#4f9ee0" fill-opacity="0.34"/>
<circle cx="55.0" cy="54.6" r="0.55" fill="#4f9ee0" fill-opacity="0.22"/>
<circle cx="56.7" cy="72.6" r="0.55" fill="#4f9ee0" fill-opacity="0.31"/>
<circle cx="41.5" cy="77.7" r="0.55" fill="#4f9ee0" fill-opacity="0.27"/>
<circle cx="56.7" cy="75.5" r="0.55" fill="#4f9ee0" fill-opacity="0.42"/>
<circle cx="64.0" cy="84.8" r="0.55" fill="#4f9ee0" fill-opacity="0.23"/>
<circle cx="39.2" cy="76.3" r="0.55" fill="#4f9ee0" fill-opacity="0.24"/>
<circle cx="47.3" cy="71.5" r="0.55" fill="#4f9ee0" fill-opacity="0.25"/>
<circle cx="93.3" cy="111.7" r="0.7" fill="#4f9ee0" fill-opacity="0.58"/>
<circle cx="66.9" cy="92.3" r="0.55" fill="#4f9ee0" fill-opacity="0.28"/>
<circle cx="92.0" cy="111.2" r="0.7" fill="#4f9ee0" fill-opacity="0.70"/>
<circle cx="75.0" cy="94.9" r="0.55" fill="#4f9ee0" fill-opacity="0.32"/>
<circle cx="65.1" cy="83.9" r="0.7" fill="#4f9ee0" fill-opacity="0.54"/>
<circle cx="80.4" cy="102.5" r="0.7" fill="#4f9ee0" fill-opacity="0.53"/>
<circle cx="62.4" cy="81.0" r="0.55" fill="#4f9ee0" fill-opacity="0.28"/>
<circle cx="46.6" cy="79.3" r="0.7" fill="#4f9ee0" fill-opacity="0.49"/>
<circle cx="82.4" cy="98.5" r="0.55" fill="#4f9ee0" fill-opacity="0.43"/>
<circle cx="58.5" cy="68.9" r="0.55" fill="#4f9ee0" fill-opacity="0.22"/>
<circle cx="77.9" cy="102.6" r="0.55" fill="#4f9ee0" fill-opacity="0.27"/>
<circle cx="66.5" cy="66.9" r="0.55" fill="#4f9ee0" fill-opacity="0.22"/>
<circle cx="75.8" cy="94.8" r="0.7" fill="#4f9ee0" fill-opacity="0.61"/>
<circle cx="81.0" cy="105.4" r="0.55" fill="#4f9ee0" fill-opacity="0.32"/>
<circle cx="51.4" cy="76.0" r="0.55" fill="#4f9ee0" fill-opacity="0.24"/>
<circle cx="90.0" cy="107.3" r="0.7" fill="#4f9ee0" fill-opacity="0.48"/>
<circle cx="78.0" cy="97.9" r="0.7" fill="#4f9ee0" fill-opacity="0.66"/>
<circle cx="70.7" cy="84.7" r="0.55" fill="#4f9ee0" fill-opacity="0.23"/>
<circle cx="94.9" cy="107.0" r="0.55" fill="#4f9ee0" fill-opacity="0.28"/>
<circle cx="65.2" cy="68.7" r="0.55" fill="#4f9ee0" fill-opacity="0.22"/>
<circle cx="61.8" cy="84.6" r="0.55" fill="#4f9ee0" fill-opacity="0.34"/>
<circle cx="73.7" cy="98.4" r="0.55" fill="#4f9ee0" fill-opacity="0.33"/>
<circle cx="78.6" cy="95.9" r="0.7" fill="#4f9ee0" fill-opacity="0.51"/>
<circle cx="61.8" cy="77.2" r="0.55" fill="#4f9ee0" fill-opacity="0.24"/>
<circle cx="80.0" cy="102.2" r="0.55" fill="#4f9ee0" fill-opacity="0.29"/>
<circle cx="57.8" cy="71.3" r="0.55" fill="#4f9ee0" fill-opacity="0.25"/>
<circle cx="48.7" cy="62.8" r="0.55" fill="#4f9ee0" fill-opacity="0.22"/>
<circle cx="77.5" cy="86.5" r="0.55" fill="#4f9ee0" fill-opacity="0.25"/>
<circle cx="69.0" cy="88.6" r="0.55" fill="#4f9ee0" fill-opacity="0.33"/>
<circle cx="92.6" cy="110.6" r="0.7" fill="#4f9ee0" fill-opacity="0.54"/>
<circle cx="62.1" cy="79.8" r="0.55" fill="#4f9ee0" fill-opacity="0.24"/>
<circle cx="79.6" cy="98.0" r="0.55" fill="#4f9ee0" fill-opacity="0.41"/>
<circle cx="46.4" cy="60.1" r="0.55" fill="#4f9ee0" fill-opacity="0.22"/>
<circle cx="51.6" cy="78.0" r="0.7" fill="#4f9ee0" fill-opacity="0.70"/>
<circle cx="68.4" cy="84.6" r="0.55" fill="#4f9ee0" fill-opacity="0.42"/>
<circle cx="83.1" cy="94.9" r="0.55" fill="#4f9ee0" fill-opacity="0.29"/>
<circle cx="41.6" cy="80.4" r="0.55" fill="#4f9ee0" fill-opacity="0.30"/>
<circle cx="96.8" cy="111.2" r="0.55" fill="#4f9ee0" fill-opacity="0.33"/>
<circle cx="58.2" cy="81.8" r="0.55" fill="#4f9ee0" fill-opacity="0.37"/>
<circle cx="83.3" cy="96.2" r="0.55" fill="#4f9ee0" fill-opacity="0.32"/>
<circle cx="75.9" cy="103.4" r="0.55" fill="#4f9ee0" fill-opacity="0.26"/>
<circle cx="71.0" cy="75.9" r="0.55" fill="#4f9ee0" fill-opacity="0.22"/>
<circle cx="61.9" cy="84.9" r="0.55" fill="#4f9ee0" fill-opacity="0.40"/>
<circle cx="78.3" cy="102.4" r="0.55" fill="#4f9ee0" fill-opacity="0.29"/>
<circle cx="73.6" cy="83.4" r="0.55" fill="#4f9ee0" fill-opacity="0.25"/>
<circle cx="68.3" cy="83.8" r="0.55" fill="#4f9ee0" fill-opacity="0.28"/>
<circle cx="43.7" cy="73.8" r="0.55" fill="#4f9ee0" fill-opacity="0.25"/>
<circle cx="53.6" cy="76.9" r="0.55" fill="#4f9ee0" fill-opacity="0.33"/>
<circle cx="78.0" cy="90.7" r="0.55" fill="#4f9ee0" fill-opacity="0.27"/>
<circle cx="61.6" cy="82.7" r="0.55" fill="#4f9ee0" fill-opacity="0.30"/>
<circle cx="74.7" cy="96.4" r="0.7" fill="#4f9ee0" fill-opacity="0.51"/>
<circle cx="57.7" cy="78.1" r="0.55" fill="#4f9ee0" fill-opacity="0.23"/>
<circle cx="81.0" cy="105.4" r="0.55" fill="#4f9ee0" fill-opacity="0.29"/>
<circle cx="51.4" cy="67.6" r="0.55" fill="#4f9ee0" fill-opacity="0.23"/>
<circle cx="83.4" cy="103.5" r="0.7" fill="#4f9ee0" fill-opacity="0.65"/>
<circle cx="88.0" cy="107.4" r="0.7" fill="#4f9ee0" fill-opacity="0.48"/>
<circle cx="67.8" cy="85.3" r="0.7" fill="#4f9ee0" fill-opacity="0.45"/>
<circle cx="75.2" cy="97.3" r="0.55" fill="#4f9ee0" fill-opacity="0.36"/>
<circle cx="73.0" cy="79.6" r="0.55" fill="#4f9ee0" fill-opacity="0.24"/>
<circle cx="71.6" cy="85.0" r="0.55" fill="#4f9ee0" fill-opacity="0.33"/>
<circle cx="77.2" cy="96.1" r="0.55" fill="#4f9ee0" fill-opacity="0.44"/>
<circle cx="49.2" cy="78.3" r="0.55" fill="#4f9ee0" fill-opacity="0.34"/>
<circle cx="67.0" cy="78.3" r="0.55" fill="#4f9ee0" fill-opacity="0.22"/>
<circle cx="78.8" cy="100.5" r="0.7" fill="#4f9ee0" fill-opacity="0.50"/>
<circle cx="56.4" cy="67.7" r="0.55" fill="#4f9ee0" fill-opacity="0.23"/>
<circle cx="88.7" cy="102.6" r="0.55" fill="#4f9ee0" fill-opacity="0.35"/>
<circle cx="71.6" cy="86.2" r="0.55" fill="#4f9ee0" fill-opacity="0.37"/>
<circle cx="75.3" cy="90.2" r="0.55" fill="#4f9ee0" fill-opacity="0.38"/>
<circle cx="77.8" cy="89.7" r="0.55" fill="#4f9ee0" fill-opacity="0.30"/>
<circle cx="61.6" cy="80.6" r="0.55" fill="#4f9ee0" fill-opacity="0.43"/>
<circle cx="81.3" cy="100.0" r="0.7" fill="#4f9ee0" fill-opacity="0.60"/>
<circle cx="62.1" cy="71.9" r="0.55" fill="#4f9ee0" fill-opacity="0.23"/>
<circle cx="46.1" cy="67.2" r="0.55" fill="#4f9ee0" fill-opacity="0.22"/>
<circle cx="38.8" cy="75.2" r="0.55" fill="#4f9ee0" fill-opacity="0.23"/>
<circle cx="71.5" cy="78.4" r="0.55" fill="#4f9ee0" fill-opacity="0.22"/>
<circle cx="40.4" cy="81.1" r="0.55" fill="#4f9ee0" fill-opacity="0.28"/>
<circle cx="79.9" cy="96.3" r="0.7" fill="#4f9ee0" fill-opacity="0.46"/>
<circle cx="48.5" cy="71.2" r="0.55" fill="#4f9ee0" fill-opacity="0.25"/>
<circle cx="44.3" cy="71.6" r="0.55" fill="#4f9ee0" fill-opacity="0.24"/>
<circle cx="51.7" cy="74.1" r="0.55" fill="#4f9ee0" fill-opacity="0.35"/>
<circle cx="51.9" cy="65.0" r="0.55" fill="#4f9ee0" fill-opacity="0.23"/>
<circle cx="42.8" cy="72.3" r="0.55" fill="#4f9ee0" fill-opacity="0.23"/>
<circle cx="52.1" cy="66.4" r="0.55" fill="#4f9ee0" fill-opacity="0.23"/>
<circle cx="91.8" cy="108.7" r="0.7" fill="#4f9ee0" fill-opacity="0.45"/>
<circle cx="61.8" cy="84.1" r="0.7" fill="#4f9ee0" fill-opacity="0.54"/>
<circle cx="61.4" cy="82.1" r="0.7" fill="#4f9ee0" fill-opacity="0.64"/>
<circle cx="55.7" cy="74.7" r="0.55" fill="#4f9ee0" fill-opacity="0.41"/>
<circle cx="81.8" cy="96.3" r="0.55" fill="#4f9ee0" fill-opacity="0.37"/>
<circle cx="61.3" cy="75.0" r="0.55" fill="#4f9ee0" fill-opacity="0.22"/>
<circle cx="62.6" cy="79.6" r="0.55" fill="#4f9ee0" fill-opacity="0.29"/>
<circle cx="60.3" cy="84.5" r="0.55" fill="#4f9ee0" fill-opacity="0.23"/>
<circle cx="78.2" cy="97.2" r="0.7" fill="#4f9ee0" fill-opacity="0.59"/>
<circle cx="63.7" cy="79.0" r="0.55" fill="#4f9ee0" fill-opacity="0.33"/>
<circle cx="66.3" cy="81.9" r="0.55" fill="#4f9ee0" fill-opacity="0.40"/>
<circle cx="96.1" cy="111.8" r="0.55" fill="#4f9ee0" fill-opacity="0.37"/>
<circle cx="49.7" cy="51.8" r="0.55" fill="#4f9ee0" fill-opacity="0.22"/>
<circle cx="85.8" cy="99.2" r="0.55" fill="#4f9ee0" fill-opacity="0.33"/>
<circle cx="94.9" cy="99.4" r="0.55" fill="#4f9ee0" fill-opacity="0.23"/>
<circle cx="53.6" cy="43.6" r="0.55" fill="#4f9ee0" fill-opacity="0.22"/>
<circle cx="62.1" cy="73.4" r="0.55" fill="#4f9ee0" fill-opacity="0.22"/>
<circle cx="78.4" cy="89.3" r="0.55" fill="#4f9ee0" fill-opacity="0.27"/>
<circle cx="73.8" cy="89.4" r="0.55" fill="#4f9ee0" fill-opacity="0.35"/>
<circle cx="56.7" cy="56.2" r="0.55" fill="#4f9ee0" fill-opacity="0.22"/>
<circle cx="74.8" cy="94.7" r="0.55" fill="#4f9ee0" fill-opacity="0.31"/>
<circle cx="38.8" cy="63.9" r="0.55" fill="#4f9ee0" fill-opacity="0.22"/>
<circle cx="63.1" cy="81.8" r="0.7" fill="#4f9ee0" fill-opacity="0.54"/>
<circle cx="79.9" cy="94.1" r="0.55" fill="#4f9ee0" fill-opacity="0.36"/>
<circle cx="85.3" cy="105.0" r="0.7" fill="#4f9ee0" fill-opacity="0.57"/>
<circle cx="73.0" cy="86.6" r="0.55" fill="#4f9ee0" fill-opacity="0.33"/>
<circle cx="89.5" cy="101.2" r="0.55" fill="#4f9ee0" fill-opacity="0.30"/>
<circle cx="81.7" cy="97.3" r="0.55" fill="#4f9ee0" fill-opacity="0.41"/>
<circle cx="50.9" cy="70.6" r="0.55" fill="#4f9ee0" fill-opacity="0.26"/>
<circle cx="53.8" cy="79.7" r="0.55" fill="#4f9ee0" fill-opacity="0.37"/>
<circle cx="51.5" cy="76.6" r="0.55" fill="#4f9ee0" fill-opacity="0.25"/>
<circle cx="54.7" cy="75.1" r="0.55" fill="#4f9ee0" fill-opacity="0.26"/>
<circle cx="57.2" cy="76.5" r="0.55" fill="#4f9ee0" fill-opacity="0.32"/>
<circle cx="87.0" cy="103.7" r="0.55" fill="#4f9ee0" fill-opacity="0.44"/>
<circle cx="70.4" cy="84.8" r="0.55" fill="#4f9ee0" fill-opacity="0.35"/>
<circle cx="65.1" cy="80.8" r="0.55" fill="#4f9ee0" fill-opacity="0.39"/>
<circle cx="78.8" cy="83.4" r="0.55" fill="#4f9ee0" fill-opacity="0.23"/>
<circle cx="55.9" cy="78.8" r="0.55" fill="#4f9ee0" fill-opacity="0.30"/>
<circle cx="60.5" cy="82.5" r="0.55" fill="#4f9ee0" fill-opacity="0.25"/>
<circle cx="65.1" cy="81.1" r="0.55" fill="#4f9ee0" fill-opacity="0.27"/>
<circle cx="50.0" cy="72.7" r="0.55" fill="#4f9ee0" fill-opacity="0.26"/>
<circle cx="50.0" cy="80.5" r="0.55" fill="#4f9ee0" fill-opacity="0.22"/>
<circle cx="65.0" cy="82.5" r="0.55" fill="#4f9ee0" fill-opacity="0.29"/>
<circle cx="92.7" cy="111.6" r="0.7" fill="#4f9ee0" fill-opacity="0.66"/>
<circle cx="47.2" cy="78.7" r="0.55" fill="#4f9ee0" fill-opacity="0.42"/>
<circle cx="81.1" cy="92.8" r="0.55" fill="#4f9ee0" fill-opacity="0.28"/>
<circle cx="59.8" cy="73.5" r="0.55" fill="#4f9ee0" fill-opacity="0.29"/>
<circle cx="86.1" cy="102.6" r="0.55" fill="#4f9ee0" fill-opacity="0.40"/>
<circle cx="81.2" cy="92.4" r="0.55" fill="#4f9ee0" fill-opacity="0.29"/>
<circle cx="79.6" cy="102.3" r="0.55" fill="#4f9ee0" fill-opacity="0.34"/>
<circle cx="66.5" cy="87.0" r="0.7" fill="#4f9ee0" fill-opacity="0.64"/>
<circle cx="54.6" cy="63.3" r="0.55" fill="#4f9ee0" fill-opacity="0.22"/>
<circle cx="72.3" cy="85.6" r="0.55" fill="#4f9ee0" fill-opacity="0.30"/>
<circle cx="44.6" cy="62.6" r="0.55" fill="#4f9ee0" fill-opacity="0.22"/>
<circle cx="60.7" cy="80.1" r="0.7" fill="#4f9ee0" fill-opacity="0.47"/>
<circle cx="89.6" cy="102.3" r="0.55" fill="#4f9ee0" fill-opacity="0.29"/>
<circle cx="90.2" cy="109.6" r="0.7" fill="#4f9ee0" fill-opacity="0.62"/>
<circle cx="49.2" cy="72.8" r="0.55" fill="#4f9ee0" fill-opacity="0.28"/>
<circle cx="75.1" cy="89.8" r="0.55" fill="#4f9ee0" fill-opacity="0.33"/>
<circle cx="91.9" cy="110.1" r="0.7" fill="#4f9ee0" fill-opacity="0.56"/>
<circle cx="77.2" cy="93.2" r="0.55" fill="#4f9ee0" fill-opacity="0.28"/>
<circle cx="92.6" cy="111.0" r="0.7" fill="#4f9ee0" fill-opacity="0.62"/>
<circle cx="69.0" cy="87.9" r="0.7" fill="#4f9ee0" fill-opacity="0.50"/>
<circle cx="35.2" cy="80.3" r="0.55" fill="#4f9ee0" fill-opacity="0.23"/>
<circle cx="89.3" cy="108.9" r="0.7" fill="#4f9ee0" fill-opacity="0.64"/>
<circle cx="44.8" cy="66.7" r="0.55" fill="#4f9ee0" fill-opacity="0.22"/>
<circle cx="77.0" cy="98.6" r="0.55" fill="#4f9ee0" fill-opacity="0.43"/>
<circle cx="72.6" cy="70.8" r="0.55" fill="#4f9ee0" fill-opacity="0.22"/>
<circle cx="48.9" cy="77.4" r="0.55" fill="#4f9ee0" fill-opacity="0.30"/>
<circle cx="90.1" cy="107.9" r="0.7" fill="#4f9ee0" fill-opacity="0.54"/>
<circle cx="84.2" cy="97.8" r="0.55" fill="#4f9ee0" fill-opacity="0.28"/>
<circle cx="77.6" cy="85.8" r="0.55" fill="#4f9ee0" fill-opacity="0.25"/>
<circle cx="68.7" cy="79.4" r="0.55" fill="#4f9ee0" fill-opacity="0.26"/>
<circle cx="79.2" cy="100.1" r="0.7" fill="#4f9ee0" fill-opacity="0.59"/>
<circle cx="94.2" cy="104.5" r="0.55" fill="#4f9ee0" fill-opacity="0.28"/>
<circle cx="83.7" cy="90.5" r="0.55" fill="#4f9ee0" fill-opacity="0.24"/>
<circle cx="80.4" cy="96.8" r="0.55" fill="#4f9ee0" fill-opacity="0.38"/>
<circle cx="45.9" cy="80.2" r="0.7" fill="#4f9ee0" fill-opacity="0.48"/>
<circle cx="66.4" cy="93.0" r="0.55" fill="#4f9ee0" fill-opacity="0.27"/>
<circle cx="56.7" cy="76.2" r="0.55" fill="#4f9ee0" fill-opacity="0.28"/>
<circle cx="53.0" cy="57.2" r="0.55" fill="#4f9ee0" fill-opacity="0.22"/>
<circle cx="57.8" cy="83.2" r="0.55" fill="#4f9ee0" fill-opacity="0.28"/>
<circle cx="78.9" cy="85.2" r="0.55" fill="#4f9ee0" fill-opacity="0.23"/>
<circle cx="87.8" cy="107.6" r="0.55" fill="#4f9ee0" fill-opacity="0.43"/>
<circle cx="75.1" cy="97.9" r="0.7" fill="#4f9ee0" fill-opacity="0.45"/>
<circle cx="89.7" cy="112.4" r="0.55" fill="#4f9ee0" fill-opacity="0.44"/>
<circle cx="42.6" cy="74.5" r="0.55" fill="#4f9ee0" fill-opacity="0.25"/>
<circle cx="78.2" cy="98.3" r="0.55" fill="#4f9ee0" fill-opacity="0.38"/>
<circle cx="61.5" cy="61.6" r="0.55" fill="#4f9ee0" fill-opacity="0.22"/>
<circle cx="92.1" cy="105.8" r="0.55" fill="#4f9ee0" fill-opacity="0.29"/>
<circle cx="69.8" cy="89.8" r="0.7" fill="#4f9ee0" fill-opacity="0.47"/>
<circle cx="84.7" cy="102.6" r="0.7" fill="#4f9ee0" fill-opacity="0.55"/>
<circle cx="84.9" cy="105.0" r="0.7" fill="#4f9ee0" fill-opacity="0.77"/>
<circle cx="53.4" cy="73.5" r="0.55" fill="#4f9ee0" fill-opacity="0.24"/>
<circle cx="57.3" cy="77.4" r="0.55" fill="#4f9ee0" fill-opacity="0.28"/>
<circle cx="53.7" cy="80.2" r="0.55" fill="#4f9ee0" fill-opacity="0.31"/>
<circle cx="63.4" cy="77.3" r="0.55" fill="#4f9ee0" fill-opacity="0.30"/>
<circle cx="46.8" cy="76.6" r="0.55" fill="#4f9ee0" fill-opacity="0.23"/>
<circle cx="65.3" cy="79.3" r="0.55" fill="#4f9ee0" fill-opacity="0.26"/>
<circle cx="55.7" cy="71.7" r="0.55" fill="#4f9ee0" fill-opacity="0.27"/>
<circle cx="97.7" cy="113.0" r="0.55" fill="#4f9ee0" fill-opacity="0.35"/>
<circle cx="52.2" cy="37.0" r="0.55" fill="#4f9ee0" fill-opacity="0.22"/>
<circle cx="74.2" cy="94.1" r="0.7" fill="#4f9ee0" fill-opacity="0.73"/>
<circle cx="69.6" cy="79.0" r="0.55" fill="#4f9ee0" fill-opacity="0.26"/>
<circle cx="81.4" cy="106.3" r="0.55" fill="#4f9ee0" fill-opacity="0.25"/>
<circle cx="83.9" cy="99.6" r="0.55" fill="#4f9ee0" fill-opacity="0.38"/>
<circle cx="62.5" cy="64.4" r="0.55" fill="#4f9ee0" fill-opacity="0.22"/>
<circle cx="84.4" cy="100.4" r="0.55" fill="#4f9ee0" fill-opacity="0.42"/>
<circle cx="66.8" cy="83.3" r="0.55" fill="#4f9ee0" fill-opacity="0.38"/>
<circle cx="88.8" cy="108.7" r="0.7" fill="#4f9ee0" fill-opacity="0.76"/>
<circle cx="94.1" cy="111.8" r="0.7" fill="#4f9ee0" fill-opacity="0.53"/>
<circle cx="55.3" cy="54.4" r="0.55" fill="#4f9ee0" fill-opacity="0.22"/>
<circle cx="57.5" cy="68.4" r="0.55" fill="#4f9ee0" fill-opacity="0.22"/>
<circle cx="81.2" cy="101.0" r="0.55" fill="#4f9ee0" fill-opacity="0.35"/>
<circle cx="80.1" cy="109.9" r="0.55" fill="#4f9ee0" fill-opacity="0.24"/>
<circle cx="77.9" cy="98.0" r="0.55" fill="#4f9ee0" fill-opacity="0.35"/>
<circle cx="52.2" cy="67.5" r="0.55" fill="#4f9ee0" fill-opacity="0.24"/>
<circle cx="61.3" cy="76.8" r="0.55" fill="#4f9ee0" fill-opacity="0.24"/>
<circle cx="93.5" cy="106.9" r="0.55" fill="#4f9ee0" fill-opacity="0.29"/>
<circle cx="68.0" cy="67.8" r="0.55" fill="#4f9ee0" fill-opacity="0.22"/>
<circle cx="68.4" cy="82.6" r="0.55" fill="#4f9ee0" fill-opacity="0.30"/>
<circle cx="89.9" cy="107.1" r="0.7" fill="#4f9ee0" fill-opacity="0.50"/>
<circle cx="72.4" cy="76.1" r="0.55" fill="#4f9ee0" fill-opacity="0.23"/>
<circle cx="70.0" cy="86.2" r="0.55" fill="#4f9ee0" fill-opacity="0.37"/>
<circle cx="91.5" cy="107.5" r="0.55" fill="#4f9ee0" fill-opacity="0.44"/>
<circle cx="44.9" cy="81.5" r="0.7" fill="#4f9ee0" fill-opacity="0.47"/>
<circle cx="53.7" cy="83.6" r="0.55" fill="#4f9ee0" fill-opacity="0.28"/>
<circle cx="70.6" cy="90.5" r="0.55" fill="#4f9ee0" fill-opacity="0.30"/>
<circle cx="87.8" cy="108.3" r="0.7" fill="#4f9ee0" fill-opacity="0.79"/>
<circle cx="98.3" cy="110.2" r="0.55" fill="#4f9ee0" fill-opacity="0.28"/>
<circle cx="77.0" cy="96.1" r="0.55" fill="#4f9ee0" fill-opacity="0.35"/>
<circle cx="86.2" cy="106.4" r="0.7" fill="#4f9ee0" fill-opacity="0.62"/>
<circle cx="54.2" cy="62.2" r="0.55" fill="#4f9ee0" fill-opacity="0.22"/>
<circle cx="57.1" cy="75.1" r="0.55" fill="#4f9ee0" fill-opacity="0.40"/>
<circle cx="84.6" cy="101.2" r="0.55" fill="#4f9ee0" fill-opacity="0.31"/>
<circle cx="78.2" cy="87.4" r="0.55" fill="#4f9ee0" fill-opacity="0.24"/>
<circle cx="90.6" cy="112.3" r="0.7" fill="#4f9ee0" fill-opacity="0.51"/>
<circle cx="56.5" cy="73.1" r="0.55" fill="#4f9ee0" fill-opacity="0.23"/>
<circle cx="53.3" cy="68.5" r="0.55" fill="#4f9ee0" fill-opacity="0.22"/>
<circle cx="68.0" cy="63.8" r="0.55" fill="#4f9ee0" fill-opacity="0.22"/>
<circle cx="88.2" cy="109.1" r="0.7" fill="#4f9ee0" fill-opacity="0.70"/>
<circle cx="76.5" cy="90.3" r="0.55" fill="#4f9ee0" fill-opacity="0.28"/>
<circle cx="77.1" cy="96.1" r="0.7" fill="#4f9ee0" fill-opacity="0.64"/>
<circle cx="79.2" cy="102.6" r="0.55" fill="#4f9ee0" fill-opacity="0.41"/>
<circle cx="67.3" cy="86.5" r="0.7" fill="#4f9ee0" fill-opacity="0.49"/>
<circle cx="60.2" cy="78.2" r="0.55" fill="#4f9ee0" fill-opacity="0.23"/>
<circle cx="51.4" cy="53.0" r="0.55" fill="#4f9ee0" fill-opacity="0.22"/>
<circle cx="63.4" cy="80.5" r="0.55" fill="#4f9ee0" fill-opacity="0.43"/>
<circle cx="49.2" cy="78.1" r="0.55" fill="#4f9ee0" fill-opacity="0.25"/>
<circle cx="61.8" cy="60.6" r="0.55" fill="#4f9ee0" fill-opacity="0.22"/>
<circle cx="51.4" cy="80.6" r="0.55" fill="#4f9ee0" fill-opacity="0.23"/>
<circle cx="85.8" cy="108.9" r="0.55" fill="#4f9ee0" fill-opacity="0.36"/>
<circle cx="95.2" cy="109.5" r="0.55" fill="#4f9ee0" fill-opacity="0.34"/>
<circle cx="62.1" cy="78.7" r="0.55" fill="#4f9ee0" fill-opacity="0.39"/>
<circle cx="57.4" cy="71.0" r="0.55" fill="#4f9ee0" fill-opacity="0.24"/>
<circle cx="50.6" cy="72.2" r="0.55" fill="#4f9ee0" fill-opacity="0.26"/>
<circle cx="90.0" cy="111.6" r="0.7" fill="#4f9ee0" fill-opacity="0.52"/>
<circle cx="65.4" cy="79.1" r="0.55" fill="#4f9ee0" fill-opacity="0.32"/>
<circle cx="76.0" cy="93.9" r="0.7" fill="#4f9ee0" fill-opacity="0.47"/>
<circle cx="77.0" cy="94.3" r="0.7" fill="#4f9ee0" fill-opacity="0.51"/>
<circle cx="46.9" cy="54.6" r="0.55" fill="#4f9ee0" fill-opacity="0.22"/>
<circle cx="74.5" cy="94.3" r="0.55" fill="#4f9ee0" fill-opacity="0.32"/>
<circle cx="67.5" cy="91.6" r="0.55" fill="#4f9ee0" fill-opacity="0.39"/>
<circle cx="54.3" cy="72.2" r="0.55" fill="#4f9ee0" fill-opacity="0.29"/>
<circle cx="92.1" cy="111.6" r="0.7" fill="#4f9ee0" fill-opacity="0.70"/>
<circle cx="56.3" cy="76.6" r="0.7" fill="#4f9ee0" fill-opacity="0.53"/>
<circle cx="92.4" cy="111.2" r="0.7" fill="#4f9ee0" fill-opacity="0.66"/>
<circle cx="59.4" cy="71.4" r="0.55" fill="#4f9ee0" fill-opacity="0.24"/>
<circle cx="75.1" cy="92.3" r="0.55" fill="#4f9ee0" fill-opacity="0.35"/>
<circle cx="88.7" cy="106.1" r="0.7" fill="#4f9ee0" fill-opacity="0.46"/>
<circle cx="69.9" cy="95.2" r="0.55" fill="#4f9ee0" fill-opacity="0.30"/>
<circle cx="89.8" cy="104.6" r="0.55" fill="#4f9ee0" fill-opacity="0.38"/>
<circle cx="65.3" cy="82.1" r="0.55" fill="#4f9ee0" fill-opacity="0.44"/>
<circle cx="41.8" cy="70.0" r="0.55" fill="#4f9ee0" fill-opacity="0.22"/>
<circle cx="64.4" cy="85.5" r="0.7" fill="#4f9ee0" fill-opacity="0.53"/>
<circle cx="67.4" cy="86.2" r="0.55" fill="#4f9ee0" fill-opacity="0.40"/>
<circle cx="67.5" cy="76.4" r="0.55" fill="#4f9ee0" fill-opacity="0.26"/>
<circle cx="58.4" cy="74.5" r="0.55" fill="#4f9ee0" fill-opacity="0.24"/>
<circle cx="49.0" cy="70.9" r="0.55" fill="#4f9ee0" fill-opacity="0.23"/>
<circle cx="90.1" cy="102.9" r="0.55" fill="#4f9ee0" fill-opacity="0.31"/>
<circle cx="77.3" cy="87.5" r="0.55" fill="#4f9ee0" fill-opacity="0.25"/>
<circle cx="92.6" cy="108.2" r="0.55" fill="#4f9ee0" fill-opacity="0.39"/>
<circle cx="88.7" cy="109.5" r="0.7" fill="#4f9ee0" fill-opacity="0.59"/>
<circle cx="56.5" cy="57.6" r="0.55" fill="#4f9ee0" fill-opacity="0.22"/>
<circle cx="72.3" cy="91.4" r="0.7" fill="#4f9ee0" fill-opacity="0.61"/>
<circle cx="67.5" cy="73.2" r="0.55" fill="#4f9ee0" fill-opacity="0.23"/>
<circle cx="66.8" cy="82.8" r="0.55" fill="#4f9ee0" fill-opacity="0.36"/>
<circle cx="52.7" cy="76.1" r="0.55" fill="#4f9ee0" fill-opacity="0.31"/>
<circle cx="82.0" cy="98.0" r="0.55" fill="#4f9ee0" fill-opacity="0.26"/>
<circle cx="50.5" cy="75.3" r="0.55" fill="#4f9ee0" fill-opacity="0.40"/>
<circle cx="64.1" cy="68.6" r="0.55" fill="#4f9ee0" fill-opacity="0.23"/>
<circle cx="89.8" cy="109.0" r="0.7" fill="#4f9ee0" fill-opacity="0.58"/>
<circle cx="91.6" cy="110.4" r="0.7" fill="#4f9ee0" fill-opacity="0.65"/>
<circle cx="86.5" cy="106.2" r="0.55" fill="#4f9ee0" fill-opacity="0.36"/>
<circle cx="77.9" cy="94.9" r="0.7" fill="#4f9ee0" fill-opacity="0.48"/>
<circle cx="62.4" cy="74.5" r="0.55" fill="#4f9ee0" fill-opacity="0.23"/>
<circle cx="80.1" cy="82.7" r="0.55" fill="#4f9ee0" fill-opacity="0.23"/>
<circle cx="88.5" cy="96.9" r="0.55" fill="#4f9ee0" fill-opacity="0.25"/>
<circle cx="87.8" cy="109.0" r="0.7" fill="#4f9ee0" fill-opacity="0.51"/>
<circle cx="85.7" cy="92.1" r="0.55" fill="#4f9ee0" fill-opacity="0.24"/>
<circle cx="71.6" cy="97.7" r="0.55" fill="#4f9ee0" fill-opacity="0.26"/>
<circle cx="88.8" cy="105.6" r="0.7" fill="#4f9ee0" fill-opacity="0.48"/>
<circle cx="57.3" cy="57.9" r="0.55" fill="#4f9ee0" fill-opacity="0.22"/>
<circle cx="50.8" cy="73.2" r="0.55" fill="#4f9ee0" fill-opacity="0.24"/>
<circle cx="64.2" cy="73.9" r="0.55" fill="#4f9ee0" fill-opacity="0.23"/>
<circle cx="65.3" cy="87.3" r="0.55" fill="#4f9ee0" fill-opacity="0.23"/>
<circle cx="85.4" cy="106.8" r="0.55" fill="#4f9ee0" fill-opacity="0.33"/>
<circle cx="64.9" cy="83.0" r="0.55" fill="#4f9ee0" fill-opacity="0.39"/>
<circle cx="54.7" cy="53.5" r="0.55" fill="#4f9ee0" fill-opacity="0.22"/>
<circle cx="53.1" cy="72.5" r="0.55" fill="#4f9ee0" fill-opacity="0.27"/>
<circle cx="76.0" cy="99.3" r="0.55" fill="#4f9ee0" fill-opacity="0.36"/>
<circle cx="63.8" cy="87.8" r="0.55" fill="#4f9ee0" fill-opacity="0.40"/>
<circle cx="63.2" cy="77.2" r="0.55" fill="#4f9ee0" fill-opacity="0.34"/>
<circle cx="47.8" cy="95.5" r="0.7" fill="#4f9ee0" fill-opacity="0.76"/>
<circle cx="48.8" cy="97.7" r="0.7" fill="#4f9ee0" fill-opacity="0.60"/>
<circle cx="45.6" cy="83.0" r="0.7" fill="#4f9ee0" fill-opacity="0.51"/>
<circle cx="47.6" cy="100.4" r="0.55" fill="#4f9ee0" fill-opacity="0.30"/>
<circle cx="49.1" cy="100.3" r="0.7" fill="#4f9ee0" fill-opacity="0.59"/>
<circle cx="44.1" cy="100.8" r="0.55" fill="#4f9ee0" fill-opacity="0.31"/>
<circle cx="50.9" cy="100.6" r="0.7" fill="#4f9ee0" fill-opacity="0.80"/>
<circle cx="45.7" cy="92.7" r="0.55" fill="#4f9ee0" fill-opacity="0.40"/>
<circle cx="43.6" cy="88.3" r="0.55" fill="#4f9ee0" fill-opacity="0.39"/>
<circle cx="56.0" cy="103.1" r="0.7" fill="#4f9ee0" fill-opacity="0.51"/>
<circle cx="46.1" cy="90.3" r="0.7" fill="#4f9ee0" fill-opacity="0.56"/>
<circle cx="51.1" cy="102.2" r="0.7" fill="#4f9ee0" fill-opacity="0.63"/>
<circle cx="45.8" cy="87.5" r="0.7" fill="#4f9ee0" fill-opacity="0.53"/>
<circle cx="54.1" cy="106.8" r="0.7" fill="#4f9ee0" fill-opacity="0.49"/>
<circle cx="54.5" cy="104.7" r="0.55" fill="#4f9ee0" fill-opacity="0.43"/>
<circle cx="45.6" cy="88.2" r="0.7" fill="#4f9ee0" fill-opacity="0.62"/>
<circle cx="44.7" cy="90.2" r="0.7" fill="#4f9ee0" fill-opacity="0.46"/>
<circle cx="46.5" cy="99.5" r="0.55" fill="#4f9ee0" fill-opacity="0.37"/>
<circle cx="46.4" cy="86.4" r="0.55" fill="#4f9ee0" fill-opacity="0.43"/>
<circle cx="46.7" cy="89.9" r="0.7" fill="#4f9ee0" fill-opacity="0.65"/>
<circle cx="57.4" cy="107.1" r="0.7" fill="#4f9ee0" fill-opacity="0.64"/>
<circle cx="51.3" cy="103.3" r="0.7" fill="#4f9ee0" fill-opacity="0.57"/>
<circle cx="43.2" cy="89.4" r="0.55" fill="#4f9ee0" fill-opacity="0.39"/>
<circle cx="43.9" cy="89.7" r="0.7" fill="#4f9ee0" fill-opacity="0.44"/>
<circle cx="46.4" cy="85.9" r="0.7" fill="#4f9ee0" fill-opacity="0.52"/>
<circle cx="44.8" cy="91.9" r="0.7" fill="#4f9ee0" fill-opacity="0.44"/>
<circle cx="42.6" cy="96.2" r="0.55" fill="#4f9ee0" fill-opacity="0.32"/>
<circle cx="49.0" cy="97.4" r="0.7" fill="#4f9ee0" fill-opacity="0.71"/>
<circle cx="43.0" cy="98.7" r="0.55" fill="#4f9ee0" fill-opacity="0.30"/>
<circle cx="44.8" cy="83.4" r="0.55" fill="#4f9ee0" fill-opacity="0.38"/>
<circle cx="45.7" cy="90.1" r="0.7" fill="#4f9ee0" fill-opacity="0.65"/>
<circle cx="54.8" cy="106.0" r="0.55" fill="#4f9ee0" fill-opacity="0.44"/>
<circle cx="47.4" cy="97.4" r="0.7" fill="#4f9ee0" fill-opacity="0.56"/>
<circle cx="58.3" cy="107.2" r="0.7" fill="#4f9ee0" fill-opacity="0.56"/>
<circle cx="47.1" cy="99.1" r="0.7" fill="#4f9ee0" fill-opacity="0.50"/>
<circle cx="47.4" cy="92.0" r="0.55" fill="#4f9ee0" fill-opacity="0.44"/>
<circle cx="51.5" cy="100.4" r="0.7" fill="#4f9ee0" fill-opacity="0.63"/>
<circle cx="56.7" cy="106.7" r="0.7" fill="#4f9ee0" fill-opacity="0.65"/>
<circle cx="55.0" cy="110.4" r="0.55" fill="#4f9ee0" fill-opacity="0.33"/>
<circle cx="51.4" cy="105.4" r="0.55" fill="#4f9ee0" fill-opacity="0.44"/>
<circle cx="44.1" cy="96.9" r="0.55" fill="#4f9ee0" fill-opacity="0.30"/>
<circle cx="48.8" cy="104.3" r="0.55" fill="#4f9ee0" fill-opacity="0.37"/>
<circle cx="49.3" cy="98.6" r="0.7" fill="#4f9ee0" fill-opacity="0.74"/>
<circle cx="55.3" cy="106.2" r="0.7" fill="#4f9ee0" fill-opacity="0.54"/>
<circle cx="56.6" cy="106.5" r="0.7" fill="#4f9ee0" fill-opacity="0.69"/>
<circle cx="47.7" cy="98.1" r="0.7" fill="#4f9ee0" fill-opacity="0.51"/>
<circle cx="48.1" cy="97.6" r="0.7" fill="#4f9ee0" fill-opacity="0.66"/>
<circle cx="59.3" cy="105.9" r="0.55" fill="#4f9ee0" fill-opacity="0.40"/>
<circle cx="45.9" cy="92.9" r="0.7" fill="#4f9ee0" fill-opacity="0.53"/>
<circle cx="46.3" cy="85.9" r="0.7" fill="#4f9ee0" fill-opacity="0.81"/>
<circle cx="58.4" cy="106.7" r="0.55" fill="#4f9ee0" fill-opacity="0.37"/>
<circle cx="43.9" cy="88.6" r="0.55" fill="#4f9ee0" fill-opacity="0.44"/>
<circle cx="40.5" cy="87.0" r="0.55" fill="#4f9ee0" fill-opacity="0.28"/>
<circle cx="58.5" cy="108.0" r="0.7" fill="#4f9ee0" fill-opacity="0.53"/>
<circle cx="46.1" cy="91.5" r="0.7" fill="#4f9ee0" fill-opacity="0.56"/>
<circle cx="43.0" cy="91.5" r="0.55" fill="#4f9ee0" fill-opacity="0.36"/>
<circle cx="45.3" cy="93.6" r="0.7" fill="#4f9ee0" fill-opacity="0.53"/>
<circle cx="56.8" cy="109.6" r="0.55" fill="#4f9ee0" fill-opacity="0.37"/>
<circle cx="45.4" cy="100.8" r="0.55" fill="#4f9ee0" fill-opacity="0.35"/>
<circle cx="48.9" cy="102.1" r="0.7" fill="#4f9ee0" fill-opacity="0.47"/>
<circle cx="56.4" cy="102.4" r="0.55" fill="#4f9ee0" fill-opacity="0.42"/>
<circle cx="46.2" cy="90.2" r="0.55" fill="#4f9ee0" fill-opacity="0.35"/>
<circle cx="46.0" cy="96.5" r="0.7" fill="#4f9ee0" fill-opacity="0.48"/>
<circle cx="45.2" cy="91.3" r="0.7" fill="#4f9ee0" fill-opacity="0.55"/>
<circle cx="45.4" cy="86.1" r="0.7" fill="#4f9ee0" fill-opacity="0.62"/>
<circle cx="46.0" cy="90.4" r="0.7" fill="#4f9ee0" fill-opacity="0.70"/>
<circle cx="56.9" cy="106.9" r="0.55" fill="#4f9ee0" fill-opacity="0.36"/>
<circle cx="52.8" cy="110.7" r="0.55" fill="#4f9ee0" fill-opacity="0.28"/>
<circle cx="53.8" cy="102.3" r="0.7" fill="#4f9ee0" fill-opacity="0.54"/>
<circle cx="47.9" cy="98.2" r="0.7" fill="#4f9ee0" fill-opacity="0.59"/>
<circle cx="48.2" cy="98.4" r="0.7" fill="#4f9ee0" fill-opacity="0.65"/>
<circle cx="52.6" cy="101.8" r="0.7" fill="#4f9ee0" fill-opacity="0.66"/>
<circle cx="47.3" cy="97.2" r="0.7" fill="#4f9ee0" fill-opacity="0.57"/>
<circle cx="44.8" cy="93.8" r="0.7" fill="#4f9ee0" fill-opacity="0.47"/>
<circle cx="44.1" cy="90.3" r="0.7" fill="#4f9ee0" fill-opacity="0.48"/>
<circle cx="52.0" cy="100.4" r="0.7" fill="#4f9ee0" fill-opacity="0.59"/>
<circle cx="45.4" cy="85.9" r="0.7" fill="#4f9ee0" fill-opacity="0.59"/>
<circle cx="43.2" cy="90.3" r="0.55" fill="#4f9ee0" fill-opacity="0.39"/>
<circle cx="59.4" cy="106.0" r="0.7" fill="#4f9ee0" fill-opacity="0.57"/>
<circle cx="51.8" cy="101.1" r="0.7" fill="#4f9ee0" fill-opacity="0.51"/>
<circle cx="44.3" cy="92.4" r="0.7" fill="#4f9ee0" fill-opacity="0.47"/>
<circle cx="46.3" cy="101.8" r="0.55" fill="#4f9ee0" fill-opacity="0.31"/>
<circle cx="43.1" cy="91.1" r="0.55" fill="#4f9ee0" fill-opacity="0.40"/>
<circle cx="48.6" cy="99.7" r="0.7" fill="#4f9ee0" fill-opacity="0.55"/>
<circle cx="48.9" cy="99.1" r="0.7" fill="#4f9ee0" fill-opacity="0.50"/>
<circle cx="46.4" cy="87.4" r="0.7" fill="#4f9ee0" fill-opacity="0.53"/>
<circle cx="45.0" cy="85.9" r="0.55" fill="#4f9ee0" fill-opacity="0.43"/>
<circle cx="45.7" cy="83.9" r="0.7" fill="#4f9ee0" fill-opacity="0.59"/>
<circle cx="46.3" cy="94.3" r="0.55" fill="#4f9ee0" fill-opacity="0.41"/>
<circle cx="44.5" cy="84.8" r="0.7" fill="#4f9ee0" fill-opacity="0.50"/>
<circle cx="47.2" cy="97.5" r="0.55" fill="#4f9ee0" fill-opacity="0.44"/>
<circle cx="45.0" cy="91.2" r="0.7" fill="#4f9ee0" fill-opacity="0.51"/>
<circle cx="43.7" cy="91.7" r="0.55" fill="#4f9ee0" fill-opacity="0.41"/>
<circle cx="55.1" cy="104.1" r="0.7" fill="#4f9ee0" fill-opacity="0.65"/>
<circle cx="37.4" cy="87.7" r="0.55" fill="#4f9ee0" fill-opacity="0.25"/>
<circle cx="46.2" cy="85.3" r="0.7" fill="#4f9ee0" fill-opacity="0.59"/>
<circle cx="59.4" cy="103.8" r="0.55" fill="#4f9ee0" fill-opacity="0.40"/>
<circle cx="56.0" cy="101.8" r="0.55" fill="#4f9ee0" fill-opacity="0.38"/>
<circle cx="57.4" cy="105.4" r="0.55" fill="#4f9ee0" fill-opacity="0.36"/>
<circle cx="46.4" cy="91.8" r="0.7" fill="#4f9ee0" fill-opacity="0.49"/>
<circle cx="48.4" cy="107.0" r="0.55" fill="#4f9ee0" fill-opacity="0.23"/>
<circle cx="47.4" cy="95.0" r="0.7" fill="#4f9ee0" fill-opacity="0.71"/>
<circle cx="51.9" cy="104.8" r="0.7" fill="#4f9ee0" fill-opacity="0.44"/>
<circle cx="58.5" cy="108.8" r="0.7" fill="#4f9ee0" fill-opacity="0.53"/>
<circle cx="44.5" cy="102.0" r="0.55" fill="#4f9ee0" fill-opacity="0.26"/>
<circle cx="57.4" cy="105.2" r="0.7" fill="#4f9ee0" fill-opacity="0.58"/>
<circle cx="48.4" cy="97.9" r="0.7" fill="#4f9ee0" fill-opacity="0.60"/>
<circle cx="44.7" cy="92.5" r="0.7" fill="#4f9ee0" fill-opacity="0.46"/>
<circle cx="45.9" cy="92.0" r="0.55" fill="#4f9ee0" fill-opacity="0.41"/>
<circle cx="44.4" cy="87.0" r="0.55" fill="#4f9ee0" fill-opacity="0.34"/>
<circle cx="61.1" cy="110.5" r="0.7" fill="#4f9ee0" fill-opacity="0.51"/>
<circle cx="54.7" cy="105.0" r="0.55" fill="#4f9ee0" fill-opacity="0.42"/>
<circle cx="55.3" cy="103.1" r="0.55" fill="#4f9ee0" fill-opacity="0.43"/>
<circle cx="51.9" cy="100.4" r="0.7" fill="#4f9ee0" fill-opacity="0.56"/>
<circle cx="44.0" cy="97.6" r="0.55" fill="#4f9ee0" fill-opacity="0.35"/>
<circle cx="46.4" cy="90.6" r="0.55" fill="#4f9ee0" fill-opacity="0.43"/>
<circle cx="38.8" cy="105.6" r="0.55" fill="#4f9ee0" fill-opacity="0.22"/>
<circle cx="48.1" cy="96.5" r="0.7" fill="#4f9ee0" fill-opacity="0.72"/>
<circle cx="58.6" cy="108.7" r="0.55" fill="#4f9ee0" fill-opacity="0.44"/>
<circle cx="51.1" cy="102.1" r="0.7" fill="#4f9ee0" fill-opacity="0.65"/>
<circle cx="44.8" cy="87.0" r="0.7" fill="#4f9ee0" fill-opacity="0.46"/>
<circle cx="50.7" cy="99.2" r="0.7" fill="#4f9ee0" fill-opacity="0.47"/>
<circle cx="54.8" cy="106.4" r="0.7" fill="#4f9ee0" fill-opacity="0.57"/>
<circle cx="47.9" cy="98.6" r="0.7" fill="#4f9ee0" fill-opacity="0.58"/>
<circle cx="51.7" cy="102.0" r="0.7" fill="#4f9ee0" fill-opacity="0.50"/>
<circle cx="51.0" cy="106.4" r="0.55" fill="#4f9ee0" fill-opacity="0.37"/>
<circle cx="55.9" cy="102.5" r="0.55" fill="#4f9ee0" fill-opacity="0.35"/>
<circle cx="47.0" cy="97.5" r="0.7" fill="#4f9ee0" fill-opacity="0.46"/>
<circle cx="43.7" cy="94.8" r="0.55" fill="#4f9ee0" fill-opacity="0.33"/>
<circle cx="47.3" cy="94.2" r="0.7" fill="#4f9ee0" fill-opacity="0.70"/>
<circle cx="43.7" cy="83.7" r="0.55" fill="#4f9ee0" fill-opacity="0.39"/>
<circle cx="44.9" cy="94.3" r="0.7" fill="#4f9ee0" fill-opacity="0.48"/>
<circle cx="46.1" cy="89.5" r="0.7" fill="#4f9ee0" fill-opacity="0.58"/>
<circle cx="51.7" cy="106.4" r="0.55" fill="#4f9ee0" fill-opacity="0.39"/>
<circle cx="46.2" cy="95.8" r="0.7" fill="#4f9ee0" fill-opacity="0.52"/>
<circle cx="46.2" cy="93.4" r="0.7" fill="#4f9ee0" fill-opacity="0.46"/>
<circle cx="42.6" cy="87.8" r="0.55" fill="#4f9ee0" fill-opacity="0.34"/>
<circle cx="45.8" cy="91.6" r="0.7" fill="#4f9ee0" fill-opacity="0.47"/>
<circle cx="56.0" cy="106.1" r="0.7" fill="#4f9ee0" fill-opacity="0.57"/>
<circle cx="55.0" cy="104.0" r="0.7" fill="#4f9ee0" fill-opacity="0.69"/>
<circle cx="57.8" cy="106.7" r="0.7" fill="#4f9ee0" fill-opacity="0.73"/>
<circle cx="45.7" cy="82.9" r="0.7" fill="#4f9ee0" fill-opacity="0.54"/>
<circle cx="48.9" cy="103.9" r="0.55" fill="#4f9ee0" fill-opacity="0.32"/>
<circle cx="46.4" cy="93.3" r="0.7" fill="#4f9ee0" fill-opacity="0.55"/>
<circle cx="47.7" cy="91.2" r="0.55" fill="#4f9ee0" fill-opacity="0.42"/>
<circle cx="46.5" cy="97.4" r="0.55" fill="#4f9ee0" fill-opacity="0.38"/>
<circle cx="43.7" cy="97.6" r="0.55" fill="#4f9ee0" fill-opacity="0.31"/>
<circle cx="47.4" cy="103.0" r="0.55" fill="#4f9ee0" fill-opacity="0.35"/>
<circle cx="44.5" cy="91.9" r="0.7" fill="#4f9ee0" fill-opacity="0.47"/>
<circle cx="47.2" cy="96.5" r="0.7" fill="#4f9ee0" fill-opacity="0.48"/>
<circle cx="46.1" cy="100.2" r="0.55" fill="#4f9ee0" fill-opacity="0.34"/>
<circle cx="45.0" cy="82.5" r="0.55" fill="#4f9ee0" fill-opacity="0.33"/>
<circle cx="58.1" cy="106.4" r="0.7" fill="#4f9ee0" fill-opacity="0.74"/>
<circle cx="41.6" cy="88.0" r="0.55" fill="#4f9ee0" fill-opacity="0.31"/>
<circle cx="48.0" cy="93.9" r="0.7" fill="#4f9ee0" fill-opacity="0.58"/>
<circle cx="44.9" cy="88.9" r="0.7" fill="#4f9ee0" fill-opacity="0.52"/>
<circle cx="55.0" cy="102.6" r="0.55" fill="#4f9ee0" fill-opacity="0.29"/>
<circle cx="43.0" cy="96.1" r="0.55" fill="#4f9ee0" fill-opacity="0.31"/>
<circle cx="55.2" cy="103.9" r="0.7" fill="#4f9ee0" fill-opacity="0.48"/>
<circle cx="58.2" cy="109.5" r="0.7" fill="#4f9ee0" fill-opacity="0.45"/>
<circle cx="48.7" cy="101.2" r="0.55" fill="#4f9ee0" fill-opacity="0.32"/>
<circle cx="60.2" cy="109.8" r="0.7" fill="#4f9ee0" fill-opacity="0.53"/>
<circle cx="41.7" cy="85.3" r="0.55" fill="#4f9ee0" fill-opacity="0.32"/>
<circle cx="41.0" cy="97.9" r="0.55" fill="#4f9ee0" fill-opacity="0.26"/>
<circle cx="46.4" cy="85.1" r="0.7" fill="#4f9ee0" fill-opacity="0.48"/>
<circle cx="50.4" cy="101.2" r="0.55" fill="#4f9ee0" fill-opacity="0.43"/>
<circle cx="52.7" cy="102.1" r="0.7" fill="#4f9ee0" fill-opacity="0.59"/>
<circle cx="53.1" cy="106.2" r="0.55" fill="#4f9ee0" fill-opacity="0.41"/>
<circle cx="46.4" cy="91.0" r="0.7" fill="#4f9ee0" fill-opacity="0.47"/>
<circle cx="45.6" cy="88.5" r="0.55" fill="#4f9ee0" fill-opacity="0.40"/>
<circle cx="58.0" cy="107.5" r="0.7" fill="#4f9ee0" fill-opacity="0.67"/>
<circle cx="48.1" cy="98.2" r="0.7" fill="#4f9ee0" fill-opacity="0.61"/>
<circle cx="42.1" cy="91.9" r="0.55" fill="#4f9ee0" fill-opacity="0.34"/>
<circle cx="43.5" cy="90.6" r="0.55" fill="#4f9ee0" fill-opacity="0.37"/>
<circle cx="35.8" cy="103.0" r="0.55" fill="#4f9ee0" fill-opacity="0.22"/>
<circle cx="49.2" cy="100.2" r="0.7" fill="#4f9ee0" fill-opacity="0.55"/>
<circle cx="46.9" cy="95.6" r="0.7" fill="#4f9ee0" fill-opacity="0.47"/>
<circle cx="60.7" cy="111.2" r="0.55" fill="#4f9ee0" fill-opacity="0.44"/>
<circle cx="45.6" cy="88.8" r="0.7" fill="#4f9ee0" fill-opacity="0.62"/>
<circle cx="51.0" cy="105.6" r="0.55" fill="#4f9ee0" fill-opacity="0.34"/>
<circle cx="48.9" cy="100.5" r="0.7" fill="#4f9ee0" fill-opacity="0.57"/>
<circle cx="58.3" cy="106.9" r="0.7" fill="#4f9ee0" fill-opacity="0.72"/>
<circle cx="47.6" cy="100.4" r="0.7" fill="#4f9ee0" fill-opacity="0.45"/>
<circle cx="45.5" cy="91.1" r="0.7" fill="#4f9ee0" fill-opacity="0.55"/>
<circle cx="48.5" cy="101.2" r="0.7" fill="#4f9ee0" fill-opacity="0.49"/>
<circle cx="52.5" cy="102.2" r="0.7" fill="#4f9ee0" fill-opacity="0.69"/>
<circle cx="56.5" cy="109.3" r="0.55" fill="#4f9ee0" fill-opacity="0.42"/>
<circle cx="59.3" cy="112.1" r="0.55" fill="#4f9ee0" fill-opacity="0.37"/>
<circle cx="45.9" cy="89.7" r="0.7" fill="#4f9ee0" fill-opacity="0.70"/>
<circle cx="49.9" cy="99.9" r="0.7" fill="#4f9ee0" fill-opacity="0.66"/>
<circle cx="59.8" cy="108.0" r="0.7" fill="#4f9ee0" fill-opacity="0.74"/>
<circle cx="55.2" cy="107.0" r="0.55" fill="#4f9ee0" fill-opacity="0.29"/>
<circle cx="51.7" cy="105.1" r="0.55" fill="#4f9ee0" fill-opacity="0.43"/>
<circle cx="58.8" cy="109.0" r="0.7" fill="#4f9ee0" fill-opacity="0.55"/>
<circle cx="46.4" cy="95.2" r="0.7" fill="#4f9ee0" fill-opacity="0.57"/>
<circle cx="45.6" cy="89.5" r="0.7" fill="#4f9ee0" fill-opacity="0.65"/>
<circle cx="46.8" cy="94.4" r="0.7" fill="#4f9ee0" fill-opacity="0.53"/>
<circle cx="54.3" cy="105.7" r="0.7" fill="#4f9ee0" fill-opacity="0.53"/>
<circle cx="48.1" cy="98.3" r="0.7" fill="#4f9ee0" fill-opacity="0.63"/>
<circle cx="42.5" cy="93.0" r="0.55" fill="#4f9ee0" fill-opacity="0.30"/>
<circle cx="49.2" cy="97.5" r="0.7" fill="#4f9ee0" fill-opacity="0.49"/>
<circle cx="49.4" cy="97.9" r="0.7" fill="#4f9ee0" fill-opacity="0.50"/>
<circle cx="58.3" cy="105.4" r="0.7" fill="#4f9ee0" fill-opacity="0.57"/>
<circle cx="52.4" cy="102.8" r="0.7" fill="#4f9ee0" fill-opacity="0.65"/>
<circle cx="55.2" cy="106.0" r="0.7" fill="#4f9ee0" fill-opacity="0.62"/>
<circle cx="57.5" cy="107.1" r="0.7" fill="#4f9ee0" fill-opacity="0.67"/>
<circle cx="55.1" cy="105.3" r="0.7" fill="#4f9ee0" fill-opacity="0.72"/>
<circle cx="51.1" cy="107.6" r="0.55" fill="#4f9ee0" fill-opacity="0.27"/>
<circle cx="48.8" cy="98.0" r="0.7" fill="#4f9ee0" fill-opacity="0.68"/>
<circle cx="56.8" cy="103.0" r="0.55" fill="#4f9ee0" fill-opacity="0.37"/>
<circle cx="45.4" cy="89.5" r="0.7" fill="#4f9ee0" fill-opacity="0.48"/>
<circle cx="60.3" cy="106.8" r="0.7" fill="#4f9ee0" fill-opacity="0.59"/>
<circle cx="50.1" cy="100.7" r="0.7" fill="#4f9ee0" fill-opacity="0.63"/>
<circle cx="48.9" cy="103.3" r="0.55" fill="#4f9ee0" fill-opacity="0.30"/>
<circle cx="43.9" cy="90.5" r="0.7" fill="#4f9ee0" fill-opacity="0.45"/>
<circle cx="48.6" cy="98.6" r="0.7" fill="#4f9ee0" fill-opacity="0.69"/>
<circle cx="44.7" cy="98.5" r="0.55" fill="#4f9ee0" fill-opacity="0.36"/>
<circle cx="44.6" cy="81.2" r="0.55" fill="#4f9ee0" fill-opacity="0.29"/>
<circle cx="46.9" cy="95.1" r="0.7" fill="#4f9ee0" fill-opacity="0.60"/>
<circle cx="50.3" cy="101.5" r="0.7" fill="#4f9ee0" fill-opacity="0.56"/>
<circle cx="49.0" cy="97.1" r="0.7" fill="#4f9ee0" fill-opacity="0.61"/>
<circle cx="57.2" cy="103.1" r="0.55" fill="#4f9ee0" fill-opacity="0.33"/>
<circle cx="54.7" cy="105.0" r="0.7" fill="#4f9ee0" fill-opacity="0.56"/>
<circle cx="58.3" cy="110.8" r="0.55" fill="#4f9ee0" fill-opacity="0.40"/>
<circle cx="47.0" cy="90.8" r="0.55" fill="#4f9ee0" fill-opacity="0.40"/>
<circle cx="53.7" cy="102.4" r="0.7" fill="#4f9ee0" fill-opacity="0.52"/>
<circle cx="60.1" cy="109.7" r="0.7" fill="#4f9ee0" fill-opacity="0.55"/>
<circle cx="45.7" cy="98.3" r="0.55" fill="#4f9ee0" fill-opacity="0.42"/>
<circle cx="46.3" cy="97.0" r="0.55" fill="#4f9ee0" fill-opacity="0.38"/>
<circle cx="46.0" cy="89.4" r="0.7" fill="#4f9ee0" fill-opacity="0.53"/>
<circle cx="51.8" cy="98.9" r="0.55" fill="#4f9ee0" fill-opacity="0.44"/>
<circle cx="55.3" cy="102.7" r="0.7" fill="#4f9ee0" fill-opacity="0.50"/>
<circle cx="49.0" cy="100.5" r="0.7" fill="#4f9ee0" fill-opacity="0.57"/>
<circle cx="46.4" cy="92.4" r="0.7" fill="#4f9ee0" fill-opacity="0.45"/>
<circle cx="57.0" cy="104.3" r="0.7" fill="#4f9ee0" fill-opacity="0.48"/>
<circle cx="53.4" cy="103.8" r="0.7" fill="#4f9ee0" fill-opacity="0.75"/>
<circle cx="43.9" cy="97.0" r="0.55" fill="#4f9ee0" fill-opacity="0.29"/>
<circle cx="45.9" cy="90.4" r="0.7" fill="#4f9ee0" fill-opacity="0.48"/>
<circle cx="44.0" cy="98.5" r="0.55" fill="#4f9ee0" fill-opacity="0.30"/>
<circle cx="45.3" cy="87.1" r="0.7" fill="#4f9ee0" fill-opacity="0.53"/>
<circle cx="44.3" cy="102.5" r="0.55" fill="#4f9ee0" fill-opacity="0.29"/>
<circle cx="57.6" cy="106.6" r="0.7" fill="#4f9ee0" fill-opacity="0.45"/>
<circle cx="44.6" cy="98.1" r="0.55" fill="#4f9ee0" fill-opacity="0.36"/>
<circle cx="53.0" cy="104.0" r="0.7" fill="#4f9ee0" fill-opacity="0.68"/>
<circle cx="48.2" cy="95.3" r="0.7" fill="#4f9ee0" fill-opacity="0.76"/>
<circle cx="47.7" cy="99.3" r="0.7" fill="#4f9ee0" fill-opacity="0.51"/>
<circle cx="44.6" cy="86.2" r="0.7" fill="#4f9ee0" fill-opacity="0.46"/>
<circle cx="46.6" cy="102.9" r="0.55" fill="#4f9ee0" fill-opacity="0.33"/>
<circle cx="47.6" cy="97.9" r="0.7" fill="#4f9ee0" fill-opacity="0.56"/>
<circle cx="59.6" cy="107.7" r="0.7" fill="#4f9ee0" fill-opacity="0.76"/>
<circle cx="46.2" cy="92.4" r="0.7" fill="#4f9ee0" fill-opacity="0.50"/>
<circle cx="48.2" cy="94.4" r="0.7" fill="#4f9ee0" fill-opacity="0.50"/>
<circle cx="47.2" cy="96.5" r="0.7" fill="#4f9ee0" fill-opacity="0.52"/>
<circle cx="50.7" cy="99.4" r="0.7" fill="#4f9ee0" fill-opacity="0.51"/>
<circle cx="42.8" cy="90.0" r="0.55" fill="#4f9ee0" fill-opacity="0.38"/>
<circle cx="45.0" cy="84.3" r="0.7" fill="#4f9ee0" fill-opacity="0.53"/>
<circle cx="43.8" cy="89.7" r="0.55" fill="#4f9ee0" fill-opacity="0.41"/>
<circle cx="55.7" cy="105.0" r="0.7" fill="#4f9ee0" fill-opacity="0.64"/>
<circle cx="45.8" cy="87.8" r="0.7" fill="#4f9ee0" fill-opacity="0.61"/>
<circle cx="47.3" cy="92.3" r="0.7" fill="#4f9ee0" fill-opacity="0.64"/>
<circle cx="60.0" cy="109.7" r="0.7" fill="#4f9ee0" fill-opacity="0.54"/>
<circle cx="44.9" cy="91.4" r="0.7" fill="#4f9ee0" fill-opacity="0.54"/>
<circle cx="56.4" cy="103.5" r="0.7" fill="#4f9ee0" fill-opacity="0.51"/>
<circle cx="49.5" cy="101.9" r="0.7" fill="#4f9ee0" fill-opacity="0.52"/>
<circle cx="46.4" cy="93.9" r="0.7" fill="#4f9ee0" fill-opacity="0.64"/>
<circle cx="51.0" cy="102.8" r="0.7" fill="#4f9ee0" fill-opacity="0.45"/>
<circle cx="54.5" cy="103.9" r="0.7" fill="#4f9ee0" fill-opacity="0.66"/>
<circle cx="44.7" cy="90.4" r="0.7" fill="#4f9ee0" fill-opacity="0.44"/>
<circle cx="46.2" cy="99.3" r="0.55" fill="#4f9ee0" fill-opacity="0.43"/>
<circle cx="42.0" cy="87.3" r="0.55" fill="#4f9ee0" fill-opacity="0.36"/>
<circle cx="51.1" cy="97.8" r="0.55" fill="#4f9ee0" fill-opacity="0.37"/>
<circle cx="45.7" cy="88.9" r="0.7" fill="#4f9ee0" fill-opacity="0.50"/>
<circle cx="58.1" cy="104.9" r="0.7" fill="#4f9ee0" fill-opacity="0.47"/>
<circle cx="46.8" cy="100.6" r="0.55" fill="#4f9ee0" fill-opacity="0.39"/>
<circle cx="60.4" cy="104.2" r="0.55" fill="#4f9ee0" fill-opacity="0.38"/>
<circle cx="43.6" cy="82.9" r="0.55" fill="#4f9ee0" fill-opacity="0.40"/>
<circle cx="47.7" cy="97.3" r="0.7" fill="#4f9ee0" fill-opacity="0.63"/>
<circle cx="49.5" cy="100.2" r="0.7" fill="#4f9ee0" fill-opacity="0.62"/>
<circle cx="53.9" cy="103.8" r="0.7" fill="#4f9ee0" fill-opacity="0.66"/>
<circle cx="51.0" cy="102.4" r="0.7" fill="#4f9ee0" fill-opacity="0.57"/>
<circle cx="44.6" cy="90.8" r="0.55" fill="#4f9ee0" fill-opacity="0.34"/>
<circle cx="52.9" cy="104.4" r="0.7" fill="#4f9ee0" fill-opacity="0.57"/>
<circle cx="41.7" cy="96.6" r="0.55" fill="#4f9ee0" fill-opacity="0.29"/>
<circle cx="47.5" cy="103.6" r="0.55" fill="#4f9ee0" fill-opacity="0.35"/>
<circle cx="45.4" cy="84.3" r="0.55" fill="#4f9ee0" fill-opacity="0.42"/>
<circle cx="42.5" cy="98.8" r="0.55" fill="#4f9ee0" fill-opacity="0.25"/>
<circle cx="51.6" cy="105.2" r="0.55" fill="#4f9ee0" fill-opacity="0.43"/>
<circle cx="53.2" cy="106.0" r="0.7" fill="#4f9ee0" fill-opacity="0.44"/>
<circle cx="61.4" cy="107.2" r="0.7" fill="#4f9ee0" fill-opacity="0.60"/>
<circle cx="51.9" cy="99.5" r="0.55" fill="#4f9ee0" fill-opacity="0.40"/>
<circle cx="56.9" cy="104.8" r="0.7" fill="#4f9ee0" fill-opacity="0.62"/>
<circle cx="46.3" cy="86.3" r="0.7" fill="#4f9ee0" fill-opacity="0.49"/>
<circle cx="49.9" cy="103.8" r="0.55" fill="#4f9ee0" fill-opacity="0.36"/>
<circle cx="46.1" cy="84.9" r="0.7" fill="#4f9ee0" fill-opacity="0.62"/>
<circle cx="50.2" cy="101.2" r="0.55" fill="#4f9ee0" fill-opacity="0.35"/>
<circle cx="45.6" cy="85.3" r="0.7" fill="#4f9ee0" fill-opacity="0.70"/>
<circle cx="44.8" cy="99.1" r="0.55" fill="#4f9ee0" fill-opacity="0.33"/>
<circle cx="49.8" cy="103.0" r="0.7" fill="#4f9ee0" fill-opacity="0.46"/>
<circle cx="49.6" cy="101.3" r="0.7" fill="#4f9ee0" fill-opacity="0.51"/>
<circle cx="49.6" cy="98.7" r="0.7" fill="#4f9ee0" fill-opacity="0.79"/>
<circle cx="46.4" cy="87.5" r="0.7" fill="#4f9ee0" fill-opacity="0.59"/>
<circle cx="42.7" cy="93.1" r="0.55" fill="#4f9ee0" fill-opacity="0.31"/>
<circle cx="49.1" cy="99.8" r="0.7" fill="#4f9ee0" fill-opacity="0.46"/>
<circle cx="49.6" cy="103.5" r="0.55" fill="#4f9ee0" fill-opacity="0.44"/>
<circle cx="59.2" cy="104.4" r="0.55" fill="#4f9ee0" fill-opacity="0.40"/>
<circle cx="57.9" cy="106.5" r="0.7" fill="#4f9ee0" fill-opacity="0.74"/>
<circle cx="51.1" cy="102.5" r="0.55" fill="#4f9ee0" fill-opacity="0.37"/>
<circle cx="59.9" cy="109.2" r="0.7" fill="#4f9ee0" fill-opacity="0.53"/>
<circle cx="45.4" cy="88.4" r="0.7" fill="#4f9ee0" fill-opacity="0.63"/>
<circle cx="40.2" cy="93.7" r="0.55" fill="#4f9ee0" fill-opacity="0.28"/>
<circle cx="50.4" cy="104.5" r="0.55" fill="#4f9ee0" fill-opacity="0.39"/>
<circle cx="42.1" cy="90.8" r="0.55" fill="#4f9ee0" fill-opacity="0.31"/>
<circle cx="45.9" cy="94.8" r="0.7" fill="#4f9ee0" fill-opacity="0.47"/>
<circle cx="59.6" cy="109.3" r="0.7" fill="#4f9ee0" fill-opacity="0.48"/>
<circle cx="58.3" cy="105.5" r="0.7" fill="#4f9ee0" fill-opacity="0.44"/>
<circle cx="45.1" cy="90.2" r="0.7" fill="#4f9ee0" fill-opacity="0.54"/>
<circle cx="46.1" cy="83.7" r="0.7" fill="#4f9ee0" fill-opacity="0.57"/>
<circle cx="45.6" cy="93.2" r="0.7" fill="#4f9ee0" fill-opacity="0.55"/>
<circle cx="56.3" cy="107.8" r="0.7" fill="#4f9ee0" fill-opacity="0.50"/>
<circle cx="52.3" cy="100.2" r="0.7" fill="#4f9ee0" fill-opacity="0.48"/>
<circle cx="47.4" cy="98.4" r="0.7" fill="#4f9ee0" fill-opacity="0.54"/>
<circle cx="60.2" cy="107.7" r="0.7" fill="#4f9ee0" fill-opacity="0.63"/>
<circle cx="46.6" cy="90.0" r="0.7" fill="#4f9ee0" fill-opacity="0.73"/>
<circle cx="46.6" cy="93.3" r="0.7" fill="#4f9ee0" fill-opacity="0.65"/>
<circle cx="49.2" cy="100.4" r="0.7" fill="#4f9ee0" fill-opacity="0.58"/>
<circle cx="45.2" cy="91.6" r="0.7" fill="#4f9ee0" fill-opacity="0.58"/>
<circle cx="49.8" cy="98.6" r="0.7" fill="#4f9ee0" fill-opacity="0.54"/>
<circle cx="56.8" cy="107.7" r="0.55" fill="#4f9ee0" fill-opacity="0.42"/>
<circle cx="45.6" cy="95.0" r="0.7" fill="#4f9ee0" fill-opacity="0.47"/>
<circle cx="60.7" cy="106.3" r="0.7" fill="#4f9ee0" fill-opacity="0.50"/>
<circle cx="49.3" cy="108.1" r="0.55" fill="#4f9ee0" fill-opacity="0.25"/>
<circle cx="46.6" cy="87.7" r="0.7" fill="#4f9ee0" fill-opacity="0.59"/>
<circle cx="44.5" cy="93.1" r="0.55" fill="#4f9ee0" fill-opacity="0.39"/>
<circle cx="50.6" cy="101.3" r="0.7" fill="#4f9ee0" fill-opacity="0.67"/>
<circle cx="60.3" cy="105.2" r="0.55" fill="#4f9ee0" fill-opacity="0.41"/>
<circle cx="46.3" cy="93.5" r="0.7" fill="#4f9ee0" fill-opacity="0.46"/>
<circle cx="45.2" cy="84.5" r="0.7" fill="#4f9ee0" fill-opacity="0.54"/>
<circle cx="42.9" cy="87.0" r="0.55" fill="#4f9ee0" fill-opacity="0.41"/>
<circle cx="48.4" cy="100.5" r="0.7" fill="#4f9ee0" fill-opacity="0.48"/>
<circle cx="47.5" cy="97.3" r="0.7" fill="#4f9ee0" fill-opacity="0.61"/>
<circle cx="57.2" cy="106.0" r="0.7" fill="#4f9ee0" fill-opacity="0.49"/>
<circle cx="48.9" cy="103.3" r="0.55" fill="#4f9ee0" fill-opacity="0.38"/>
<circle cx="46.2" cy="88.9" r="0.7" fill="#4f9ee0" fill-opacity="0.57"/>
<circle cx="56.7" cy="111.0" r="0.55" fill="#4f9ee0" fill-opacity="0.32"/>
<circle cx="43.4" cy="97.8" r="0.55" fill="#4f9ee0" fill-opacity="0.31"/>
<circle cx="45.9" cy="85.7" r="0.7" fill="#4f9ee0" fill-opacity="0.73"/>
<circle cx="60.0" cy="110.5" r="0.7" fill="#4f9ee0" fill-opacity="0.47"/>
<circle cx="51.8" cy="107.7" r="0.55" fill="#4f9ee0" fill-opacity="0.27"/>
<circle cx="56.8" cy="109.0" r="0.7" fill="#4f9ee0" fill-opacity="0.44"/>
<circle cx="141.3" cy="95.5" r="0.7" fill="#e47a66" fill-opacity="0.72"/>
<circle cx="138.4" cy="89.1" r="0.55" fill="#e47a66" fill-opacity="0.28"/>
<circle cx="141.0" cy="89.0" r="0.55" fill="#e47a66" fill-opacity="0.27"/>
<circle cx="129.3" cy="90.2" r="0.55" fill="#e47a66" fill-opacity="0.26"/>
<circle cx="135.5" cy="94.4" r="0.7" fill="#e47a66" fill-opacity="0.47"/>
<circle cx="136.1" cy="90.8" r="0.55" fill="#e47a66" fill-opacity="0.29"/>
<circle cx="150.4" cy="96.5" r="0.55" fill="#e47a66" fill-opacity="0.42"/>
<circle cx="151.0" cy="94.2" r="0.55" fill="#e47a66" fill-opacity="0.34"/>
<circle cx="120.1" cy="102.6" r="0.7" fill="#e47a66" fill-opacity="0.52"/>
<circle cx="140.2" cy="94.0" r="0.55" fill="#e47a66" fill-opacity="0.26"/>
<circle cx="116.9" cy="107.6" r="0.7" fill="#e47a66" fill-opacity="0.57"/>
<circle cx="114.0" cy="108.6" r="0.7" fill="#e47a66" fill-opacity="0.65"/>
<circle cx="117.1" cy="96.9" r="0.55" fill="#e47a66" fill-opacity="0.25"/>
<circle cx="139.2" cy="95.1" r="0.7" fill="#e47a66" fill-opacity="0.56"/>
<circle cx="127.9" cy="95.7" r="0.55" fill="#e47a66" fill-opacity="0.36"/>
<circle cx="146.3" cy="89.0" r="0.55" fill="#e47a66" fill-opacity="0.23"/>
<circle cx="135.1" cy="94.9" r="0.7" fill="#e47a66" fill-opacity="0.50"/>
<circle cx="138.9" cy="85.4" r="0.55" fill="#e47a66" fill-opacity="0.24"/>
<circle cx="128.2" cy="98.0" r="0.55" fill="#e47a66" fill-opacity="0.38"/>
<circle cx="148.5" cy="95.6" r="0.7" fill="#e47a66" fill-opacity="0.50"/>
<circle cx="116.0" cy="104.5" r="0.7" fill="#e47a66" fill-opacity="0.46"/>
<circle cx="123.0" cy="99.7" r="0.55" fill="#e47a66" fill-opacity="0.44"/>
<circle cx="126.6" cy="99.1" r="0.7" fill="#e47a66" fill-opacity="0.59"/>
<circle cx="113.4" cy="107.3" r="0.7" fill="#e47a66" fill-opacity="0.55"/>
<circle cx="149.2" cy="82.1" r="0.55" fill="#e47a66" fill-opacity="0.22"/>
<circle cx="134.3" cy="91.7" r="0.55" fill="#e47a66" fill-opacity="0.33"/>
<circle cx="135.7" cy="95.9" r="0.7" fill="#e47a66" fill-opacity="0.57"/>
<circle cx="115.0" cy="106.5" r="0.7" fill="#e47a66" fill-opacity="0.61"/>
<circle cx="112.8" cy="109.3" r="0.7" fill="#e47a66" fill-opacity="0.73"/>
<circle cx="119.2" cy="102.5" r="0.55" fill="#e47a66" fill-opacity="0.44"/>
<circle cx="147.5" cy="90.2" r="0.55" fill="#e47a66" fill-opacity="0.25"/>
<circle cx="143.0" cy="82.4" r="0.55" fill="#e47a66" fill-opacity="0.23"/>
<circle cx="137.5" cy="95.1" r="0.7" fill="#e47a66" fill-opacity="0.50"/>
<circle cx="125.0" cy="101.2" r="0.7" fill="#e47a66" fill-opacity="0.44"/>
<circle cx="125.0" cy="98.8" r="0.7" fill="#e47a66" fill-opacity="0.46"/>
<circle cx="130.8" cy="98.1" r="0.7" fill="#e47a66" fill-opacity="0.64"/>
<circle cx="130.5" cy="98.7" r="0.55" fill="#e47a66" fill-opacity="0.37"/>
<circle cx="141.7" cy="93.1" r="0.55" fill="#e47a66" fill-opacity="0.41"/>
<circle cx="118.2" cy="102.7" r="0.55" fill="#e47a66" fill-opacity="0.38"/>
<circle cx="135.4" cy="95.3" r="0.7" fill="#e47a66" fill-opacity="0.44"/>
<circle cx="118.0" cy="106.0" r="0.7" fill="#e47a66" fill-opacity="0.60"/>
<circle cx="142.6" cy="90.3" r="0.55" fill="#e47a66" fill-opacity="0.31"/>
<circle cx="138.1" cy="90.3" r="0.55" fill="#e47a66" fill-opacity="0.32"/>
<circle cx="143.0" cy="90.0" r="0.55" fill="#e47a66" fill-opacity="0.29"/>
<circle cx="128.0" cy="95.7" r="0.55" fill="#e47a66" fill-opacity="0.35"/>
<circle cx="118.7" cy="103.4" r="0.7" fill="#e47a66" fill-opacity="0.47"/>
<circle cx="137.2" cy="94.5" r="0.7" fill="#e47a66" fill-opacity="0.53"/>
<circle cx="124.6" cy="97.8" r="0.55" fill="#e47a66" fill-opacity="0.31"/>
<circle cx="115.7" cy="106.3" r="0.7" fill="#e47a66" fill-opacity="0.61"/>
<circle cx="113.7" cy="108.1" r="0.7" fill="#e47a66" fill-opacity="0.68"/>
<circle cx="119.9" cy="105.1" r="0.7" fill="#e47a66" fill-opacity="0.77"/>
<circle cx="154.3" cy="98.4" r="0.55" fill="#e47a66" fill-opacity="0.30"/>
<circle cx="128.4" cy="94.4" r="0.55" fill="#e47a66" fill-opacity="0.36"/>
<circle cx="123.1" cy="99.0" r="0.55" fill="#e47a66" fill-opacity="0.41"/>
<circle cx="118.8" cy="102.0" r="0.55" fill="#e47a66" fill-opacity="0.42"/>
<circle cx="121.5" cy="102.3" r="0.7" fill="#e47a66" fill-opacity="0.52"/>
<circle cx="119.6" cy="106.0" r="0.7" fill="#e47a66" fill-opacity="0.59"/>
<circle cx="113.5" cy="107.5" r="0.7" fill="#e47a66" fill-opacity="0.62"/>
<circle cx="141.1" cy="94.7" r="0.7" fill="#e47a66" fill-opacity="0.46"/>
<circle cx="114.6" cy="107.4" r="0.7" fill="#e47a66" fill-opacity="0.69"/>
<circle cx="149.4" cy="90.8" r="0.55" fill="#e47a66" fill-opacity="0.24"/>
<circle cx="128.3" cy="98.0" r="0.7" fill="#e47a66" fill-opacity="0.51"/>
<circle cx="145.1" cy="96.3" r="0.7" fill="#e47a66" fill-opacity="0.54"/>
<circle cx="127.3" cy="100.4" r="0.7" fill="#e47a66" fill-opacity="0.45"/>
<circle cx="143.8" cy="87.9" r="0.55" fill="#e47a66" fill-opacity="0.25"/>
<circle cx="141.0" cy="95.0" r="0.7" fill="#e47a66" fill-opacity="0.60"/>
<circle cx="151.9" cy="100.3" r="0.55" fill="#e47a66" fill-opacity="0.44"/>
<circle cx="146.1" cy="98.3" r="0.7" fill="#e47a66" fill-opacity="0.54"/>
<circle cx="123.8" cy="100.0" r="0.7" fill="#e47a66" fill-opacity="0.51"/>
<circle cx="125.2" cy="94.5" r="0.55" fill="#e47a66" fill-opacity="0.30"/>
<circle cx="114.4" cy="106.8" r="0.7" fill="#e47a66" fill-opacity="0.55"/>
<circle cx="131.9" cy="94.2" r="0.55" fill="#e47a66" fill-opacity="0.37"/>
<circle cx="140.7" cy="92.3" r="0.55" fill="#e47a66" fill-opacity="0.42"/>
<circle cx="127.9" cy="98.0" r="0.7" fill="#e47a66" fill-opacity="0.56"/>
<circle cx="144.4" cy="92.4" r="0.55" fill="#e47a66" fill-opacity="0.38"/>
<circle cx="128.0" cy="95.1" r="0.55" fill="#e47a66" fill-opacity="0.29"/>
<circle cx="114.8" cy="106.1" r="0.55" fill="#e47a66" fill-opacity="0.42"/>
<circle cx="128.5" cy="99.8" r="0.7" fill="#e47a66" fill-opacity="0.69"/>
<circle cx="126.4" cy="93.6" r="0.55" fill="#e47a66" fill-opacity="0.28"/>
<circle cx="122.9" cy="103.1" r="0.7" fill="#e47a66" fill-opacity="0.78"/>
<circle cx="144.7" cy="90.2" r="0.55" fill="#e47a66" fill-opacity="0.30"/>
<circle cx="125.8" cy="91.7" r="0.55" fill="#e47a66" fill-opacity="0.26"/>
<circle cx="131.3" cy="97.6" r="0.7" fill="#e47a66" fill-opacity="0.69"/>
<circle cx="128.5" cy="94.8" r="0.55" fill="#e47a66" fill-opacity="0.30"/>
<circle cx="141.9" cy="95.9" r="0.7" fill="#e47a66" fill-opacity="0.72"/>
<circle cx="146.7" cy="88.3" r="0.55" fill="#e47a66" fill-opacity="0.25"/>
<circle cx="143.4" cy="95.7" r="0.55" fill="#e47a66" fill-opacity="0.28"/>
<circle cx="125.7" cy="96.8" r="0.55" fill="#e47a66" fill-opacity="0.38"/>
<circle cx="114.3" cy="105.7" r="0.7" fill="#e47a66" fill-opacity="0.51"/>
<circle cx="112.2" cy="109.2" r="0.7" fill="#e47a66" fill-opacity="0.77"/>
<circle cx="149.9" cy="85.7" r="0.55" fill="#e47a66" fill-opacity="0.23"/>
<circle cx="138.6" cy="95.3" r="0.7" fill="#e47a66" fill-opacity="0.71"/>
<circle cx="135.8" cy="95.1" r="0.7" fill="#e47a66" fill-opacity="0.54"/>
<circle cx="152.1" cy="92.6" r="0.55" fill="#e47a66" fill-opacity="0.27"/>
<circle cx="139.7" cy="94.7" r="0.7" fill="#e47a66" fill-opacity="0.67"/>
<circle cx="127.3" cy="92.6" r="0.55" fill="#e47a66" fill-opacity="0.29"/>
<circle cx="137.3" cy="96.2" r="0.7" fill="#e47a66" fill-opacity="0.64"/>
<circle cx="150.1" cy="94.0" r="0.55" fill="#e47a66" fill-opacity="0.32"/>
<circle cx="137.6" cy="91.0" r="0.55" fill="#e47a66" fill-opacity="0.30"/>
<circle cx="129.8" cy="93.4" r="0.55" fill="#e47a66" fill-opacity="0.27"/>
<circle cx="131.5" cy="91.2" r="0.55" fill="#e47a66" fill-opacity="0.28"/>
<circle cx="147.1" cy="93.6" r="0.55" fill="#e47a66" fill-opacity="0.33"/>
<circle cx="123.9" cy="103.2" r="0.7" fill="#e47a66" fill-opacity="0.58"/>
<circle cx="115.7" cy="105.3" r="0.7" fill="#e47a66" fill-opacity="0.52"/>
<circle cx="119.3" cy="99.0" r="0.55" fill="#e47a66" fill-opacity="0.30"/>
<circle cx="117.7" cy="105.4" r="0.7" fill="#e47a66" fill-opacity="0.46"/>
<circle cx="130.6" cy="84.3" r="0.55" fill="#e47a66" fill-opacity="0.23"/>
<circle cx="134.5" cy="97.1" r="0.55" fill="#e47a66" fill-opacity="0.44"/>
<circle cx="149.8" cy="93.3" r="0.55" fill="#e47a66" fill-opacity="0.26"/>
<circle cx="130.1" cy="97.8" r="0.7" fill="#e47a66" fill-opacity="0.67"/>
<circle cx="144.4" cy="92.2" r="0.55" fill="#e47a66" fill-opacity="0.31"/>
<circle cx="133.1" cy="91.5" r="0.55" fill="#e47a66" fill-opacity="0.29"/>
<circle cx="111.3" cy="107.5" r="0.7" fill="#e47a66" fill-opacity="0.51"/>
<circle cx="128.8" cy="89.3" r="0.55" fill="#e47a66" fill-opacity="0.25"/>
<circle cx="129.7" cy="97.6" r="0.7" fill="#e47a66" fill-opacity="0.55"/>
<circle cx="115.1" cy="108.3" r="0.7" fill="#e47a66" fill-opacity="0.50"/>
<circle cx="119.1" cy="105.6" r="0.7" fill="#e47a66" fill-opacity="0.69"/>
<circle cx="118.8" cy="104.3" r="0.7" fill="#e47a66" fill-opacity="0.51"/>
<circle cx="132.4" cy="97.2" r="0.7" fill="#e47a66" fill-opacity="0.55"/>
<circle cx="141.4" cy="85.8" r="0.55" fill="#e47a66" fill-opacity="0.24"/>
<circle cx="118.3" cy="100.8" r="0.55" fill="#e47a66" fill-opacity="0.31"/>
<circle cx="118.3" cy="104.8" r="0.7" fill="#e47a66" fill-opacity="0.64"/>
<circle cx="113.0" cy="105.3" r="0.55" fill="#e47a66" fill-opacity="0.41"/>
<circle cx="121.6" cy="96.2" r="0.55" fill="#e47a66" fill-opacity="0.29"/>
<circle cx="141.3" cy="90.0" r="0.55" fill="#e47a66" fill-opacity="0.31"/>
<circle cx="147.2" cy="78.2" r="0.55" fill="#e47a66" fill-opacity="0.22"/>
<circle cx="133.7" cy="96.2" r="0.7" fill="#e47a66" fill-opacity="0.53"/>
<circle cx="122.1" cy="97.6" r="0.55" fill="#e47a66" fill-opacity="0.29"/>
<circle cx="112.5" cy="107.4" r="0.7" fill="#e47a66" fill-opacity="0.45"/>
<circle cx="126.3" cy="96.7" r="0.55" fill="#e47a66" fill-opacity="0.35"/>
<circle cx="137.9" cy="92.8" r="0.7" fill="#e47a66" fill-opacity="0.45"/>
<circle cx="143.1" cy="95.9" r="0.7" fill="#e47a66" fill-opacity="0.51"/>
<circle cx="137.9" cy="90.7" r="0.55" fill="#e47a66" fill-opacity="0.34"/>
<circle cx="122.7" cy="105.1" r="0.55" fill="#e47a66" fill-opacity="0.34"/>
<circle cx="110.7" cy="108.2" r="0.7" fill="#e47a66" fill-opacity="0.51"/>
<circle cx="152.7" cy="96.3" r="0.55" fill="#e47a66" fill-opacity="0.29"/>
<circle cx="120.5" cy="103.9" r="0.55" fill="#e47a66" fill-opacity="0.41"/>
<circle cx="123.6" cy="101.2" r="0.7" fill="#e47a66" fill-opacity="0.61"/>
<circle cx="131.8" cy="93.2" r="0.55" fill="#e47a66" fill-opacity="0.32"/>
<circle cx="120.6" cy="100.5" r="0.55" fill="#e47a66" fill-opacity="0.40"/>
<circle cx="126.3" cy="98.6" r="0.55" fill="#e47a66" fill-opacity="0.39"/>
<circle cx="145.3" cy="91.0" r="0.55" fill="#e47a66" fill-opacity="0.31"/>
<circle cx="130.1" cy="95.9" r="0.7" fill="#e47a66" fill-opacity="0.47"/>
<circle cx="121.1" cy="104.9" r="0.7" fill="#e47a66" fill-opacity="0.52"/>
<circle cx="143.8" cy="94.4" r="0.55" fill="#e47a66" fill-opacity="0.42"/>
<circle cx="118.2" cy="106.7" r="0.55" fill="#e47a66" fill-opacity="0.40"/>
<circle cx="121.4" cy="99.7" r="0.55" fill="#e47a66" fill-opacity="0.39"/>
<circle cx="121.2" cy="99.0" r="0.55" fill="#e47a66" fill-opacity="0.34"/>
<circle cx="126.2" cy="96.7" r="0.55" fill="#e47a66" fill-opacity="0.40"/>
<circle cx="133.1" cy="92.8" r="0.55" fill="#e47a66" fill-opacity="0.32"/>
<circle cx="140.3" cy="95.0" r="0.7" fill="#e47a66" fill-opacity="0.64"/>
<circle cx="121.8" cy="100.7" r="0.55" fill="#e47a66" fill-opacity="0.32"/>
<circle cx="114.9" cy="107.3" r="0.7" fill="#e47a66" fill-opacity="0.48"/>
<circle cx="123.0" cy="96.6" r="0.55" fill="#e47a66" fill-opacity="0.32"/>
<circle cx="154.1" cy="84.8" r="0.55" fill="#e47a66" fill-opacity="0.22"/>
<circle cx="125.5" cy="100.5" r="0.7" fill="#e47a66" fill-opacity="0.64"/>
<circle cx="144.8" cy="100.3" r="0.55" fill="#e47a66" fill-opacity="0.36"/>
<circle cx="118.8" cy="104.8" r="0.7" fill="#e47a66" fill-opacity="0.67"/>
<circle cx="120.6" cy="104.5" r="0.7" fill="#e47a66" fill-opacity="0.66"/>
<circle cx="119.9" cy="103.2" r="0.7" fill="#e47a66" fill-opacity="0.53"/>
<circle cx="147.2" cy="96.3" r="0.7" fill="#e47a66" fill-opacity="0.68"/>
<circle cx="117.5" cy="106.0" r="0.7" fill="#e47a66" fill-opacity="0.73"/>
<circle cx="130.0" cy="97.6" r="0.7" fill="#e47a66" fill-opacity="0.64"/>
<circle cx="120.8" cy="101.0" r="0.55" fill="#e47a66" fill-opacity="0.33"/>
<circle cx="120.9" cy="101.1" r="0.7" fill="#e47a66" fill-opacity="0.45"/>
<circle cx="128.1" cy="99.0" r="0.7" fill="#e47a66" fill-opacity="0.71"/>
<circle cx="151.6" cy="93.5" r="0.55" fill="#e47a66" fill-opacity="0.31"/>
<circle cx="134.6" cy="90.8" r="0.55" fill="#e47a66" fill-opacity="0.31"/>
<circle cx="112.6" cy="107.6" r="0.7" fill="#e47a66" fill-opacity="0.54"/>
<circle cx="116.1" cy="107.1" r="0.7" fill="#e47a66" fill-opacity="0.50"/>
<circle cx="143.9" cy="95.5" r="0.55" fill="#e47a66" fill-opacity="0.38"/>
<circle cx="137.0" cy="94.9" r="0.55" fill="#e47a66" fill-opacity="0.33"/>
<circle cx="127.6" cy="90.2" r="0.55" fill="#e47a66" fill-opacity="0.25"/>
<circle cx="118.5" cy="101.9" r="0.55" fill="#e47a66" fill-opacity="0.41"/>
<circle cx="114.7" cy="108.2" r="0.7" fill="#e47a66" fill-opacity="0.50"/>
<circle cx="138.4" cy="89.8" r="0.55" fill="#e47a66" fill-opacity="0.29"/>
<circle cx="148.3" cy="94.8" r="0.7" fill="#e47a66" fill-opacity="0.44"/>
<circle cx="130.5" cy="81.8" r="0.55" fill="#e47a66" fill-opacity="0.22"/>
<circle cx="148.5" cy="95.6" r="0.55" fill="#e47a66" fill-opacity="0.41"/>
<circle cx="133.7" cy="95.2" r="0.55" fill="#e47a66" fill-opacity="0.31"/>
<circle cx="142.7" cy="93.1" r="0.55" fill="#e47a66" fill-opacity="0.39"/>
<circle cx="134.6" cy="93.8" r="0.55" fill="#e47a66" fill-opacity="0.44"/>
<circle cx="118.5" cy="106.4" r="0.7" fill="#e47a66" fill-opacity="0.63"/>
<circle cx="120.7" cy="101.8" r="0.7" fill="#e47a66" fill-opacity="0.49"/>
<circle cx="127.6" cy="92.3" r="0.55" fill="#e47a66" fill-opacity="0.28"/>
<circle cx="120.3" cy="106.1" r="0.7" fill="#e47a66" fill-opacity="0.48"/>
<circle cx="141.0" cy="94.9" r="0.7" fill="#e47a66" fill-opacity="0.66"/>
<circle cx="129.6" cy="94.1" r="0.55" fill="#e47a66" fill-opacity="0.32"/>
<circle cx="138.9" cy="93.8" r="0.7" fill="#e47a66" fill-opacity="0.56"/>
<circle cx="143.5" cy="86.8" r="0.55" fill="#e47a66" fill-opacity="0.23"/>
<circle cx="145.0" cy="93.3" r="0.55" fill="#e47a66" fill-opacity="0.32"/>
<circle cx="133.7" cy="92.1" r="0.55" fill="#e47a66" fill-opacity="0.31"/>
<circle cx="127.9" cy="94.7" r="0.55" fill="#e47a66" fill-opacity="0.30"/>
<circle cx="131.0" cy="91.6" r="0.55" fill="#e47a66" fill-opacity="0.29"/>
<circle cx="136.2" cy="95.8" r="0.7" fill="#e47a66" fill-opacity="0.69"/>
<circle cx="129.5" cy="98.0" r="0.7" fill="#e47a66" fill-opacity="0.47"/>
<circle cx="152.8" cy="95.5" r="0.55" fill="#e47a66" fill-opacity="0.30"/>
<circle cx="145.0" cy="90.0" r="0.55" fill="#e47a66" fill-opacity="0.27"/>
<circle cx="125.6" cy="93.8" r="0.55" fill="#e47a66" fill-opacity="0.26"/>
<circle cx="132.8" cy="98.3" r="0.55" fill="#e47a66" fill-opacity="0.34"/>
<circle cx="121.6" cy="93.6" r="0.55" fill="#e47a66" fill-opacity="0.25"/>
<circle cx="118.8" cy="104.7" r="0.7" fill="#e47a66" fill-opacity="0.64"/>
<circle cx="128.5" cy="99.3" r="0.7" fill="#e47a66" fill-opacity="0.78"/>
<circle cx="133.7" cy="92.1" r="0.55" fill="#e47a66" fill-opacity="0.33"/>
<circle cx="145.0" cy="93.6" r="0.55" fill="#e47a66" fill-opacity="0.38"/>
<circle cx="127.0" cy="99.9" r="0.7" fill="#e47a66" fill-opacity="0.49"/>
<circle cx="130.8" cy="93.5" r="0.55" fill="#e47a66" fill-opacity="0.28"/>
<circle cx="112.8" cy="106.8" r="0.7" fill="#e47a66" fill-opacity="0.51"/>
<circle cx="132.0" cy="97.4" r="0.7" fill="#e47a66" fill-opacity="0.71"/>
<circle cx="116.4" cy="105.2" r="0.7" fill="#e47a66" fill-opacity="0.57"/>
<circle cx="137.0" cy="96.3" r="0.55" fill="#e47a66" fill-opacity="0.32"/>
<circle cx="152.2" cy="92.6" r="0.55" fill="#e47a66" fill-opacity="0.25"/>
<circle cx="118.5" cy="105.8" r="0.7" fill="#e47a66" fill-opacity="0.51"/>
<circle cx="152.1" cy="99.8" r="0.55" fill="#e47a66" fill-opacity="0.41"/>
<circle cx="124.3" cy="100.6" r="0.7" fill="#e47a66" fill-opacity="0.47"/>
<circle cx="143.2" cy="91.3" r="0.55" fill="#e47a66" fill-opacity="0.31"/>
<circle cx="119.6" cy="104.2" r="0.7" fill="#e47a66" fill-opacity="0.58"/>
<circle cx="129.6" cy="91.6" r="0.55" fill="#e47a66" fill-opacity="0.28"/>
<circle cx="138.0" cy="86.6" r="0.55" fill="#e47a66" fill-opacity="0.24"/>
<circle cx="143.2" cy="95.1" r="0.7" fill="#e47a66" fill-opacity="0.57"/>
<circle cx="130.7" cy="96.5" r="0.7" fill="#e47a66" fill-opacity="0.55"/>
<circle cx="131.3" cy="97.2" r="0.7" fill="#e47a66" fill-opacity="0.57"/>
<circle cx="141.9" cy="92.2" r="0.55" fill="#e47a66" fill-opacity="0.30"/>
<circle cx="123.2" cy="100.9" r="0.7" fill="#e47a66" fill-opacity="0.50"/>
<circle cx="130.1" cy="96.9" r="0.7" fill="#e47a66" fill-opacity="0.46"/>
<circle cx="149.9" cy="99.0" r="0.7" fill="#e47a66" fill-opacity="0.54"/>
<circle cx="126.7" cy="98.5" r="0.7" fill="#e47a66" fill-opacity="0.54"/>
<circle cx="151.4" cy="89.4" r="0.55" fill="#e47a66" fill-opacity="0.25"/>
<circle cx="115.4" cy="103.9" r="0.55" fill="#e47a66" fill-opacity="0.36"/>
<circle cx="129.2" cy="99.1" r="0.55" fill="#e47a66" fill-opacity="0.33"/>
<circle cx="148.5" cy="95.2" r="0.55" fill="#e47a66" fill-opacity="0.40"/>
<circle cx="131.1" cy="98.1" r="0.7" fill="#e47a66" fill-opacity="0.68"/>
<circle cx="128.5" cy="94.3" r="0.55" fill="#e47a66" fill-opacity="0.35"/>
<circle cx="125.0" cy="100.4" r="0.55" fill="#e47a66" fill-opacity="0.36"/>
<circle cx="124.3" cy="91.5" r="0.55" fill="#e47a66" fill-opacity="0.24"/>
<circle cx="133.9" cy="91.7" r="0.55" fill="#e47a66" fill-opacity="0.31"/>
<circle cx="155.2" cy="98.5" r="0.55" fill="#e47a66" fill-opacity="0.28"/>
<circle cx="127.2" cy="98.4" r="0.7" fill="#e47a66" fill-opacity="0.57"/>
<circle cx="135.5" cy="86.6" r="0.55" fill="#e47a66" fill-opacity="0.24"/>
<circle cx="146.4" cy="93.1" r="0.55" fill="#e47a66" fill-opacity="0.30"/>
<circle cx="143.7" cy="87.0" r="0.55" fill="#e47a66" fill-opacity="0.25"/>
<circle cx="129.7" cy="92.6" r="0.55" fill="#e47a66" fill-opacity="0.25"/>
<circle cx="121.1" cy="104.8" r="0.7" fill="#e47a66" fill-opacity="0.46"/>
<circle cx="127.5" cy="96.9" r="0.55" fill="#e47a66" fill-opacity="0.43"/>
<circle cx="125.3" cy="100.7" r="0.7" fill="#e47a66" fill-opacity="0.68"/>
<circle cx="152.3" cy="96.3" r="0.55" fill="#e47a66" fill-opacity="0.31"/>
<circle cx="141.2" cy="91.2" r="0.55" fill="#e47a66" fill-opacity="0.35"/>
<circle cx="127.1" cy="95.1" r="0.55" fill="#e47a66" fill-opacity="0.27"/>
<circle cx="146.6" cy="95.5" r="0.7" fill="#e47a66" fill-opacity="0.59"/>
<circle cx="120.7" cy="103.8" r="0.7" fill="#e47a66" fill-opacity="0.68"/>
<circle cx="136.1" cy="91.1" r="0.55" fill="#e47a66" fill-opacity="0.33"/>
<circle cx="152.2" cy="96.6" r="0.55" fill="#e47a66" fill-opacity="0.28"/>
<circle cx="147.9" cy="98.4" r="0.7" fill="#e47a66" fill-opacity="0.76"/>
<circle cx="138.9" cy="93.5" r="0.55" fill="#e47a66" fill-opacity="0.39"/>
<circle cx="139.3" cy="94.3" r="0.55" fill="#e47a66" fill-opacity="0.40"/>
<circle cx="152.4" cy="86.1" r="0.55" fill="#e47a66" fill-opacity="0.23"/>
<circle cx="127.7" cy="95.6" r="0.55" fill="#e47a66" fill-opacity="0.40"/>
<circle cx="123.0" cy="103.8" r="0.7" fill="#e47a66" fill-opacity="0.59"/>
<circle cx="138.0" cy="84.1" r="0.55" fill="#e47a66" fill-opacity="0.23"/>
<circle cx="114.7" cy="105.8" r="0.7" fill="#e47a66" fill-opacity="0.53"/>
<circle cx="124.9" cy="98.4" r="0.7" fill="#e47a66" fill-opacity="0.45"/>
<circle cx="132.1" cy="93.2" r="0.55" fill="#e47a66" fill-opacity="0.36"/>
<circle cx="113.5" cy="108.7" r="0.7" fill="#e47a66" fill-opacity="0.56"/>
<circle cx="130.1" cy="99.0" r="0.7" fill="#e47a66" fill-opacity="0.60"/>
<circle cx="131.8" cy="97.4" r="0.7" fill="#e47a66" fill-opacity="0.63"/>
<circle cx="119.3" cy="102.3" r="0.55" fill="#e47a66" fill-opacity="0.38"/>
<circle cx="111.5" cy="108.1" r="0.7" fill="#e47a66" fill-opacity="0.44"/>
<circle cx="115.0" cy="107.2" r="0.7" fill="#e47a66" fill-opacity="0.69"/>
<circle cx="120.9" cy="101.6" r="0.7" fill="#e47a66" fill-opacity="0.49"/>
<circle cx="146.1" cy="92.2" r="0.55" fill="#e47a66" fill-opacity="0.34"/>
<circle cx="139.6" cy="93.1" r="0.55" fill="#e47a66" fill-opacity="0.37"/>
<circle cx="121.6" cy="94.2" r="0.55" fill="#e47a66" fill-opacity="0.26"/>
<circle cx="125.8" cy="99.5" r="0.7" fill="#e47a66" fill-opacity="0.58"/>
<circle cx="124.1" cy="100.1" r="0.55" fill="#e47a66" fill-opacity="0.43"/>
<circle cx="128.0" cy="99.5" r="0.7" fill="#e47a66" fill-opacity="0.51"/>
<circle cx="131.9" cy="91.1" r="0.55" fill="#e47a66" fill-opacity="0.24"/>
<circle cx="137.3" cy="90.5" r="0.55" fill="#e47a66" fill-opacity="0.31"/>
<circle cx="137.3" cy="95.7" r="0.7" fill="#e47a66" fill-opacity="0.69"/>
<circle cx="124.1" cy="99.8" r="0.55" fill="#e47a66" fill-opacity="0.38"/>
<circle cx="121.0" cy="101.5" r="0.55" fill="#e47a66" fill-opacity="0.40"/>
<circle cx="145.3" cy="95.4" r="0.55" fill="#e47a66" fill-opacity="0.36"/>
<circle cx="135.5" cy="90.8" r="0.55" fill="#e47a66" fill-opacity="0.30"/>
<circle cx="118.4" cy="105.2" r="0.7" fill="#e47a66" fill-opacity="0.70"/>
<circle cx="124.8" cy="97.0" r="0.55" fill="#e47a66" fill-opacity="0.37"/>
<circle cx="137.8" cy="87.8" r="0.55" fill="#e47a66" fill-opacity="0.26"/>
<circle cx="136.6" cy="87.6" r="0.55" fill="#e47a66" fill-opacity="0.26"/>
<circle cx="153.5" cy="93.0" r="0.55" fill="#e47a66" fill-opacity="0.25"/>
<circle cx="120.9" cy="102.1" r="0.7" fill="#e47a66" fill-opacity="0.48"/>
<circle cx="117.6" cy="106.2" r="0.7" fill="#e47a66" fill-opacity="0.53"/>
<circle cx="121.6" cy="105.0" r="0.7" fill="#e47a66" fill-opacity="0.52"/>
<circle cx="136.1" cy="94.8" r="0.7" fill="#e47a66" fill-opacity="0.45"/>
<circle cx="128.2" cy="95.9" r="0.55" fill="#e47a66" fill-opacity="0.27"/>
<circle cx="136.0" cy="95.5" r="0.7" fill="#e47a66" fill-opacity="0.45"/>
<circle cx="117.2" cy="103.3" r="0.55" fill="#e47a66" fill-opacity="0.40"/>
<circle cx="137.0" cy="95.0" r="0.55" fill="#e47a66" fill-opacity="0.37"/>
<circle cx="113.2" cy="108.9" r="0.7" fill="#e47a66" fill-opacity="0.81"/>
<circle cx="144.6" cy="95.0" r="0.55" fill="#e47a66" fill-opacity="0.28"/>
<circle cx="134.4" cy="96.1" r="0.55" fill="#e47a66" fill-opacity="0.27"/>
<circle cx="142.3" cy="94.8" r="0.55" fill="#e47a66" fill-opacity="0.25"/>
<circle cx="147.1" cy="86.5" r="0.55" fill="#e47a66" fill-opacity="0.24"/>
<circle cx="119.7" cy="102.3" r="0.55" fill="#e47a66" fill-opacity="0.37"/>
<circle cx="118.5" cy="101.2" r="0.55" fill="#e47a66" fill-opacity="0.36"/>
<circle cx="140.6" cy="95.4" r="0.7" fill="#e47a66" fill-opacity="0.64"/>
<circle cx="114.1" cy="107.2" r="0.7" fill="#e47a66" fill-opacity="0.58"/>
<circle cx="134.1" cy="92.1" r="0.55" fill="#e47a66" fill-opacity="0.31"/>
<circle cx="125.4" cy="101.7" r="0.7" fill="#e47a66" fill-opacity="0.55"/>
<circle cx="118.0" cy="102.6" r="0.55" fill="#e47a66" fill-opacity="0.36"/>
<circle cx="142.9" cy="90.8" r="0.55" fill="#e47a66" fill-opacity="0.32"/>
<circle cx="115.9" cy="105.5" r="0.55" fill="#e47a66" fill-opacity="0.43"/>
<circle cx="127.9" cy="98.5" r="0.7" fill="#e47a66" fill-opacity="0.63"/>
<circle cx="125.2" cy="101.4" r="0.7" fill="#e47a66" fill-opacity="0.66"/>
<circle cx="135.3" cy="86.3" r="0.55" fill="#e47a66" fill-opacity="0.24"/>
<circle cx="136.3" cy="76.6" r="0.55" fill="#e47a66" fill-opacity="0.22"/>
<circle cx="123.8" cy="103.1" r="0.7" fill="#e47a66" fill-opacity="0.56"/>
<circle cx="136.6" cy="96.0" r="0.55" fill="#e47a66" fill-opacity="0.31"/>
<circle cx="138.7" cy="94.0" r="0.55" fill="#e47a66" fill-opacity="0.43"/>
<circle cx="135.6" cy="74.7" r="0.55" fill="#e47a66" fill-opacity="0.22"/>
<circle cx="122.3" cy="101.5" r="0.7" fill="#e47a66" fill-opacity="0.47"/>
<circle cx="132.2" cy="90.3" r="0.55" fill="#e47a66" fill-opacity="0.27"/>
<circle cx="133.2" cy="96.5" r="0.7" fill="#e47a66" fill-opacity="0.63"/>
<circle cx="118.8" cy="103.9" r="0.7" fill="#e47a66" fill-opacity="0.47"/>
<circle cx="125.7" cy="94.8" r="0.55" fill="#e47a66" fill-opacity="0.31"/>
<circle cx="122.4" cy="102.9" r="0.7" fill="#e47a66" fill-opacity="0.62"/>
<circle cx="114.2" cy="108.1" r="0.7" fill="#e47a66" fill-opacity="0.73"/>
<circle cx="146.7" cy="96.1" r="0.7" fill="#e47a66" fill-opacity="0.67"/>
<circle cx="114.7" cy="107.2" r="0.7" fill="#e47a66" fill-opacity="0.69"/>
<circle cx="139.4" cy="93.4" r="0.7" fill="#e47a66" fill-opacity="0.49"/>
<circle cx="134.1" cy="77.4" r="0.55" fill="#e47a66" fill-opacity="0.22"/>
<circle cx="133.3" cy="96.3" r="0.7" fill="#e47a66" fill-opacity="0.48"/>
<circle cx="122.9" cy="99.3" r="0.55" fill="#e47a66" fill-opacity="0.42"/>
<circle cx="147.4" cy="92.0" r="0.55" fill="#e47a66" fill-opacity="0.32"/>
<circle cx="137.7" cy="93.4" r="0.55" fill="#e47a66" fill-opacity="0.25"/>
<circle cx="141.9" cy="91.8" r="0.55" fill="#e47a66" fill-opacity="0.32"/>
<circle cx="151.4" cy="97.5" r="0.55" fill="#e47a66" fill-opacity="0.38"/>
<circle cx="136.4" cy="95.4" r="0.7" fill="#e47a66" fill-opacity="0.57"/>
<circle cx="115.9" cy="105.1" r="0.7" fill="#e47a66" fill-opacity="0.50"/>
<circle cx="141.2" cy="97.3" r="0.55" fill="#e47a66" fill-opacity="0.29"/>
<circle cx="140.1" cy="91.4" r="0.55" fill="#e47a66" fill-opacity="0.35"/>
<circle cx="151.2" cy="81.6" r="0.55" fill="#e47a66" fill-opacity="0.22"/>
<circle cx="133.3" cy="91.4" r="0.55" fill="#e47a66" fill-opacity="0.28"/>
<circle cx="115.5" cy="107.5" r="0.7" fill="#e47a66" fill-opacity="0.73"/>
<circle cx="128.6" cy="93.7" r="0.55" fill="#e47a66" fill-opacity="0.31"/>
<circle cx="121.1" cy="103.6" r="0.55" fill="#e47a66" fill-opacity="0.43"/>
<circle cx="121.6" cy="102.1" r="0.7" fill="#e47a66" fill-opacity="0.45"/>
<circle cx="147.1" cy="93.0" r="0.55" fill="#e47a66" fill-opacity="0.31"/>
<circle cx="117.4" cy="103.4" r="0.7" fill="#e47a66" fill-opacity="0.46"/>
<circle cx="133.0" cy="92.3" r="0.55" fill="#e47a66" fill-opacity="0.34"/>
<circle cx="128.6" cy="97.5" r="0.7" fill="#e47a66" fill-opacity="0.48"/>
<circle cx="120.6" cy="105.6" r="0.7" fill="#e47a66" fill-opacity="0.50"/>
<circle cx="118.2" cy="105.4" r="0.7" fill="#e47a66" fill-opacity="0.53"/>
<circle cx="121.7" cy="101.7" r="0.55" fill="#e47a66" fill-opacity="0.36"/>
<circle cx="138.8" cy="92.9" r="0.55" fill="#e47a66" fill-opacity="0.41"/>
<circle cx="145.1" cy="86.5" r="0.55" fill="#e47a66" fill-opacity="0.24"/>
<circle cx="112.0" cy="109.2" r="0.7" fill="#e47a66" fill-opacity="0.72"/>
<circle cx="141.8" cy="92.5" r="0.55" fill="#e47a66" fill-opacity="0.28"/>
<circle cx="132.8" cy="95.7" r="0.55" fill="#e47a66" fill-opacity="0.29"/>
<circle cx="123.5" cy="99.8" r="0.55" fill="#e47a66" fill-opacity="0.41"/>
<circle cx="114.6" cy="106.4" r="0.7" fill="#e47a66" fill-opacity="0.56"/>
<circle cx="136.7" cy="91.2" r="0.55" fill="#e47a66" fill-opacity="0.32"/>
<circle cx="141.3" cy="89.1" r="0.55" fill="#e47a66" fill-opacity="0.29"/>
<circle cx="124.3" cy="96.7" r="0.55" fill="#e47a66" fill-opacity="0.33"/>
<circle cx="120.0" cy="102.8" r="0.7" fill="#e47a66" fill-opacity="0.46"/>
<circle cx="132.5" cy="97.4" r="0.7" fill="#e47a66" fill-opacity="0.51"/>
<circle cx="125.3" cy="98.7" r="0.55" fill="#e47a66" fill-opacity="0.31"/>
<circle cx="139.9" cy="87.6" r="0.55" fill="#e47a66" fill-opacity="0.24"/>
<circle cx="135.1" cy="93.2" r="0.55" fill="#e47a66" fill-opacity="0.39"/>
<circle cx="152.5" cy="95.1" r="0.55" fill="#e47a66" fill-opacity="0.30"/>
<circle cx="141.2" cy="95.0" r="0.55" fill="#e47a66" fill-opacity="0.40"/>
<circle cx="123.6" cy="100.9" r="0.55" fill="#e47a66" fill-opacity="0.41"/>
<circle cx="136.0" cy="97.4" r="0.7" fill="#e47a66" fill-opacity="0.44"/>
<circle cx="113.8" cy="109.2" r="0.7" fill="#e47a66" fill-opacity="0.59"/>
<circle cx="150.0" cy="90.2" r="0.55" fill="#e47a66" fill-opacity="0.26"/>
<circle cx="126.1" cy="99.9" r="0.7" fill="#e47a66" fill-opacity="0.64"/>
<circle cx="150.7" cy="100.1" r="0.7" fill="#e47a66" fill-opacity="0.51"/>
<circle cx="150.3" cy="89.4" r="0.55" fill="#e47a66" fill-opacity="0.25"/>
<circle cx="130.9" cy="89.3" r="0.55" fill="#e47a66" fill-opacity="0.25"/>
<circle cx="113.7" cy="108.0" r="0.7" fill="#e47a66" fill-opacity="0.63"/>
<circle cx="143.5" cy="93.7" r="0.7" fill="#e47a66" fill-opacity="0.47"/>
<circle cx="131.5" cy="93.6" r="0.55" fill="#e47a66" fill-opacity="0.37"/>
<circle cx="145.7" cy="90.7" r="0.55" fill="#e47a66" fill-opacity="0.28"/>
<polygon points="46.20,84.50 46.80,92.10 49.50,98.80 54.20,104.20 62.30,109.00 73.10,111.60 83.80,113.00 93.30,113.20 89.20,109.60 81.10,101.50 73.10,93.50 65.80,86.50 60.30,81.00 54.80,78.00 49.50,79.00" fill="#1f74c0" stroke="#3584cc" stroke-width="1.4" stroke-linejoin="round"/>
<polygon points="108.00,112.80 120.80,113.20 133.00,110.80 142.30,106.00 149.20,101.50 147.00,97.00 139.20,95.40 130.00,98.50 120.80,104.60 112.00,109.60" fill="#d9402a" stroke="#e2604a" stroke-width="1.2" stroke-linejoin="round"/>
<polygon points="66.00,114.20 84.00,113.60 91.00,112.00 99.50,113.60 109.00,112.00 116.00,113.40 143.00,114.20 143.00,116.60 66.00,116.60" fill="#cdcdcd"/>
<line x1="24.20" y1="113.40" x2="66.00" y2="113.40" stroke="#b0b0b0" stroke-width="0.8" />
<line x1="143.00" y1="113.40" x2="165.80" y2="113.40" stroke="#b0b0b0" stroke-width="0.8" />
<rect x="24.2" y="26.5" width="141.60000000000002" height="93.5" fill="none" stroke="#959595" stroke-width="1.0"/>
<text x="94.50" y="22.70" text-anchor="middle" font-size="7.5" fill="#222" stroke="#222" >ATAC-seq sites</text>
<text x="67.50" y="40.10" text-anchor="middle" font-size="7.5" fill="#4a86c5" stroke="#4a86c5" >28,765</text>
<text x="67.50" y="48.70" text-anchor="middle" font-size="7.5" fill="#4a86c5" stroke="#4a86c5" >ARPC sites</text>
<text x="133.00" y="40.10" text-anchor="middle" font-size="7.5" fill="#d0503a" stroke="#d0503a" >21,963</text>
<text x="133.00" y="48.70" text-anchor="middle" font-size="7.5" fill="#d0503a" stroke="#d0503a" >NEPC sites</text>
<text x="22.40" y="118.70" text-anchor="end" font-size="7.5" fill="#222" stroke="#222" >0</text>
<line x1="22.40" y1="116.00" x2="24.20" y2="116.00" stroke="#555" stroke-width="0.6" />
<text x="22.40" y="99.48" text-anchor="end" font-size="7.5" fill="#222" stroke="#222" >10</text>
<line x1="22.40" y1="96.78" x2="24.20" y2="96.78" stroke="#555" stroke-width="0.6" />
<text x="22.40" y="80.26" text-anchor="end" font-size="7.5" fill="#222" stroke="#222" >20</text>
<line x1="22.40" y1="77.56" x2="24.20" y2="77.56" stroke="#555" stroke-width="0.6" />
<text x="22.40" y="61.04" text-anchor="end" font-size="7.5" fill="#222" stroke="#222" >30</text>
<line x1="22.40" y1="58.34" x2="24.20" y2="58.34" stroke="#555" stroke-width="0.6" />
<text x="22.40" y="41.82" text-anchor="end" font-size="7.5" fill="#222" stroke="#222" >40</text>
<line x1="22.40" y1="39.12" x2="24.20" y2="39.12" stroke="#555" stroke-width="0.6" />
<text x="38.90" y="128.90" text-anchor="middle" font-size="7.5" fill="#222" stroke="#222" >−6</text>
<line x1="37.60" y1="120.00" x2="37.60" y2="121.80" stroke="#555" stroke-width="0.6" />
<text x="59.70" y="128.90" text-anchor="middle" font-size="7.5" fill="#222" stroke="#222" >−4</text>
<line x1="58.40" y1="120.00" x2="58.40" y2="121.80" stroke="#555" stroke-width="0.6" />
<text x="80.50" y="128.90" text-anchor="middle" font-size="7.5" fill="#222" stroke="#222" >−2</text>
<line x1="79.20" y1="120.00" x2="79.20" y2="121.80" stroke="#555" stroke-width="0.6" />
<text x="100.20" y="128.90" text-anchor="middle" font-size="7.5" fill="#222" stroke="#222" >0</text>
<line x1="100.00" y1="120.00" x2="100.00" y2="121.80" stroke="#555" stroke-width="0.6" />
<text x="121.00" y="128.90" text-anchor="middle" font-size="7.5" fill="#222" stroke="#222" >2</text>
<line x1="120.80" y1="120.00" x2="120.80" y2="121.80" stroke="#555" stroke-width="0.6" />
<text x="141.80" y="128.90" text-anchor="middle" font-size="7.5" fill="#222" stroke="#222" >4</text>
<line x1="141.60" y1="120.00" x2="141.60" y2="121.80" stroke="#555" stroke-width="0.6" />
<text x="162.60" y="128.90" text-anchor="middle" font-size="7.5" fill="#222" stroke="#222" >6</text>
<line x1="162.40" y1="120.00" x2="162.40" y2="121.80" stroke="#555" stroke-width="0.6" />
<text x="100.00" y="138.40" text-anchor="middle" font-size="7.5" fill="#222" stroke="#222" >Log<tspan font-size="5.5" dy="2">2</tspan><tspan dy="-2"> fold change (NEPC vs. ARPC)</tspan></text>
<text transform="translate(8.9,77.7) rotate(-90)" text-anchor="middle" font-size="7.5" fill="#222" stroke="#222">Log<tspan font-size="5.5" dy="2">10</tspan><tspan dy="-2"> (</tspan><tspan font-style="italic">q</tspan> value)</text>
<circle cx="35.5" cy="149.3" r="3.2" fill="#3f7fc0"/>
<text x="40.80" y="152.00" text-anchor="start" font-size="7.5" fill="#222" stroke="#222" >Significant ARPC-specific sites</text>
<circle cx="35.5" cy="156.9" r="3.2" fill="#d06a48"/>
<text x="40.80" y="159.60" text-anchor="start" font-size="7.5" fill="#222" stroke="#222" >Significant NEPC-specific sites</text>
<circle cx="35.5" cy="164.6" r="3.2" fill="#c4c4c4"/>
<text x="40.80" y="167.30" text-anchor="start" font-size="7.5" fill="#222" stroke="#222" >N.S.</text>
<path d="M218.25,47.50 C218.69,47.19 221.60,44.09 222.60,44.40 C223.60,44.71 227.12,50.41 228.25,50.60 C229.38,50.79 232.84,46.06 233.90,46.25 C234.97,46.44 237.84,52.50 238.90,52.50 C239.96,52.50 243.44,46.19 244.50,46.25 C245.56,46.31 248.44,53.35 249.50,53.10 C250.56,52.85 254.04,44.37 255.10,43.75 C256.16,43.13 259.04,47.96 260.10,46.90 C261.17,45.84 264.76,33.19 265.75,33.10 C266.74,33.01 269.15,43.89 270.00,46.00 C270.85,48.11 273.35,54.20 274.20,54.20 C275.05,54.20 277.67,48.11 278.50,46.00 C279.33,43.89 281.60,33.20 282.50,33.10 C283.40,33.00 286.56,43.87 287.50,45.00 C288.44,46.13 290.77,43.71 291.90,44.40 C293.02,45.09 297.50,51.71 298.75,51.90 C300.00,52.09 303.33,46.13 304.40,46.25 C305.46,46.37 308.34,53.10 309.40,53.10 C310.46,53.10 313.94,46.44 315.00,46.25 C316.06,46.06 318.88,51.25 320.00,51.25 C321.12,51.25 325.19,46.50 326.25,46.25 C327.31,46.00 330.17,48.50 330.60,48.75" fill="none" stroke="#f3bca9" stroke-width="3.4" stroke-linejoin="round" stroke-linecap="round" stroke-opacity="0.85"/>
<path d="M218.25,63.10 C218.81,62.04 222.78,51.87 223.90,52.50 C225.03,53.13 228.44,69.09 229.50,69.40 C230.56,69.71 233.44,55.23 234.50,55.60 C235.56,55.97 239.04,72.85 240.10,73.10 C241.16,73.35 244.10,57.85 245.10,58.10 C246.10,58.35 249.03,75.97 250.10,75.60 C251.16,75.23 254.75,55.77 255.75,54.40 C256.75,53.03 259.17,62.78 260.10,61.90 C261.04,61.02 264.26,44.79 265.10,45.60 C265.94,46.41 267.86,65.06 268.50,70.00 C269.14,74.94 270.93,91.33 271.50,95.00 C272.07,98.67 273.65,106.70 274.20,106.70 C274.75,106.70 276.42,98.67 277.00,95.00 C277.58,91.33 279.32,74.69 280.00,70.00 C280.68,65.31 282.88,48.85 283.75,48.10 C284.62,47.35 287.81,61.69 288.75,62.50 C289.69,63.31 292.10,55.06 293.10,56.25 C294.10,57.44 297.69,74.28 298.75,74.40 C299.81,74.53 302.75,57.50 303.75,57.50 C304.75,57.50 307.69,74.71 308.75,74.40 C309.81,74.09 313.40,54.84 314.40,54.40 C315.40,53.96 317.69,70.13 318.75,70.00 C319.81,69.87 323.88,53.91 325.00,53.10 C326.12,52.29 329.50,61.02 330.00,61.90" fill="none" stroke="#bccfec" stroke-width="3.8" stroke-linejoin="round" stroke-linecap="round" stroke-opacity="0.85"/>
<path d="M218.25,46.25 C218.75,45.88 222.19,42.56 223.25,42.50 C224.31,42.44 227.78,45.54 228.90,45.60 C230.03,45.66 233.44,43.04 234.50,43.10 C235.56,43.16 238.44,46.31 239.50,46.25 C240.56,46.19 244.04,42.44 245.10,42.50 C246.16,42.56 249.03,46.84 250.10,46.90 C251.16,46.96 254.69,43.23 255.75,43.10 C256.81,42.97 259.75,45.97 260.75,45.60 C261.75,45.23 264.40,38.88 265.75,39.40 C267.10,39.92 272.47,50.57 274.20,50.80 C275.93,51.03 281.42,42.22 283.00,41.70 C284.58,41.18 288.30,45.27 290.00,45.60 C291.70,45.93 298.38,45.00 300.00,45.00 C301.62,45.00 305.06,45.79 306.25,45.60 C307.44,45.41 310.72,43.16 311.90,43.10 C313.07,43.04 316.75,45.00 318.00,45.00 C319.25,45.00 323.14,43.10 324.40,43.10 C325.66,43.10 329.98,44.81 330.60,45.00" fill="none" stroke="#4aa57e" stroke-width="1.0" stroke-linejoin="round" stroke-linecap="round"/>
<path d="M218.25,47.50 C218.69,47.19 221.60,44.09 222.60,44.40 C223.60,44.71 227.12,50.41 228.25,50.60 C229.38,50.79 232.84,46.06 233.90,46.25 C234.97,46.44 237.84,52.50 238.90,52.50 C239.96,52.50 243.44,46.19 244.50,46.25 C245.56,46.31 248.44,53.35 249.50,53.10 C250.56,52.85 254.04,44.37 255.10,43.75 C256.16,43.13 259.04,47.96 260.10,46.90 C261.17,45.84 264.76,33.19 265.75,33.10 C266.74,33.01 269.15,43.89 270.00,46.00 C270.85,48.11 273.35,54.20 274.20,54.20 C275.05,54.20 277.67,48.11 278.50,46.00 C279.33,43.89 281.60,33.20 282.50,33.10 C283.40,33.00 286.56,43.87 287.50,45.00 C288.44,46.13 290.77,43.71 291.90,44.40 C293.02,45.09 297.50,51.71 298.75,51.90 C300.00,52.09 303.33,46.13 304.40,46.25 C305.46,46.37 308.34,53.10 309.40,53.10 C310.46,53.10 313.94,46.44 315.00,46.25 C316.06,46.06 318.88,51.25 320.00,51.25 C321.12,51.25 325.19,46.50 326.25,46.25 C327.31,46.00 330.17,48.50 330.60,48.75" fill="none" stroke="#d8603f" stroke-width="1.2" stroke-linejoin="round" stroke-linecap="round"/>
<path d="M218.25,63.10 C218.81,62.04 222.78,51.87 223.90,52.50 C225.03,53.13 228.44,69.09 229.50,69.40 C230.56,69.71 233.44,55.23 234.50,55.60 C235.56,55.97 239.04,72.85 240.10,73.10 C241.16,73.35 244.10,57.85 245.10,58.10 C246.10,58.35 249.03,75.97 250.10,75.60 C251.16,75.23 254.75,55.77 255.75,54.40 C256.75,53.03 259.17,62.78 260.10,61.90 C261.04,61.02 264.26,44.79 265.10,45.60 C265.94,46.41 267.86,65.06 268.50,70.00 C269.14,74.94 270.93,91.33 271.50,95.00 C272.07,98.67 273.65,106.70 274.20,106.70 C274.75,106.70 276.42,98.67 277.00,95.00 C277.58,91.33 279.32,74.69 280.00,70.00 C280.68,65.31 282.88,48.85 283.75,48.10 C284.62,47.35 287.81,61.69 288.75,62.50 C289.69,63.31 292.10,55.06 293.10,56.25 C294.10,57.44 297.69,74.28 298.75,74.40 C299.81,74.53 302.75,57.50 303.75,57.50 C304.75,57.50 307.69,74.71 308.75,74.40 C309.81,74.09 313.40,54.84 314.40,54.40 C315.40,53.96 317.69,70.13 318.75,70.00 C319.81,69.87 323.88,53.91 325.00,53.10 C326.12,52.29 329.50,61.02 330.00,61.90" fill="none" stroke="#4f7fc0" stroke-width="1.3" stroke-linejoin="round" stroke-linecap="round"/>
<rect x="264.50" y="26.20" width="21.00" height="93.80" fill="#ece2a0" fill-opacity="0.25"/>
<line x1="265.00" y1="26.20" x2="265.00" y2="120.00" stroke="#8c8c8c" stroke-width="1.0" stroke-dasharray="2.7,3.9"/>
<line x1="285.30" y1="26.20" x2="285.30" y2="120.00" stroke="#8c8c8c" stroke-width="1.0" stroke-dasharray="2.7,3.9"/>
<rect x="211.5" y="26.2" width="125.60000000000002" height="93.8" fill="none" stroke="#959595" stroke-width="1.0"/>
<text x="209.20" y="33.60" text-anchor="end" font-size="7.5" fill="#222" stroke="#222" >1.050</text>
<line x1="209.70" y1="30.90" x2="211.50" y2="30.90" stroke="#555" stroke-width="0.6" />
<text x="209.20" y="46.16" text-anchor="end" font-size="7.5" fill="#222" stroke="#222" >1.000</text>
<line x1="209.70" y1="43.46" x2="211.50" y2="43.46" stroke="#555" stroke-width="0.6" />
<text x="209.20" y="58.72" text-anchor="end" font-size="7.5" fill="#222" stroke="#222" >0.950</text>
<line x1="209.70" y1="56.02" x2="211.50" y2="56.02" stroke="#555" stroke-width="0.6" />
<text x="209.20" y="71.28" text-anchor="end" font-size="7.5" fill="#222" stroke="#222" >0.900</text>
<line x1="209.70" y1="68.58" x2="211.50" y2="68.58" stroke="#555" stroke-width="0.6" />
<text x="209.20" y="83.84" text-anchor="end" font-size="7.5" fill="#222" stroke="#222" >0.850</text>
<line x1="209.70" y1="81.14" x2="211.50" y2="81.14" stroke="#555" stroke-width="0.6" />
<text x="209.20" y="96.40" text-anchor="end" font-size="7.5" fill="#222" stroke="#222" >0.800</text>
<line x1="209.70" y1="93.70" x2="211.50" y2="93.70" stroke="#555" stroke-width="0.6" />
<text x="209.20" y="108.96" text-anchor="end" font-size="7.5" fill="#222" stroke="#222" >0.750</text>
<line x1="209.70" y1="106.26" x2="211.50" y2="106.26" stroke="#555" stroke-width="0.6" />
<text x="209.20" y="121.52" text-anchor="end" font-size="7.5" fill="#222" stroke="#222" >0.700</text>
<line x1="209.70" y1="118.82" x2="211.50" y2="118.82" stroke="#555" stroke-width="0.6" />
<text x="217.10" y="129.20" text-anchor="middle" font-size="7.5" fill="#222" stroke="#222" >−1,000</text>
<line x1="217.10" y1="120.00" x2="217.10" y2="121.80" stroke="#555" stroke-width="0.6" />
<text x="245.95" y="129.20" text-anchor="middle" font-size="7.5" fill="#222" stroke="#222" >−500</text>
<line x1="245.95" y1="120.00" x2="245.95" y2="121.80" stroke="#555" stroke-width="0.6" />
<text x="274.80" y="129.20" text-anchor="middle" font-size="7.5" fill="#222" stroke="#222" >0</text>
<line x1="274.80" y1="120.00" x2="274.80" y2="121.80" stroke="#555" stroke-width="0.6" />
<text x="303.65" y="129.20" text-anchor="middle" font-size="7.5" fill="#222" stroke="#222" >500</text>
<line x1="303.65" y1="120.00" x2="303.65" y2="121.80" stroke="#555" stroke-width="0.6" />
<text x="332.50" y="129.20" text-anchor="middle" font-size="7.5" fill="#222" stroke="#222" >1,000</text>
<line x1="332.50" y1="120.00" x2="332.50" y2="121.80" stroke="#555" stroke-width="0.6" />
<text x="274.20" y="137.80" text-anchor="middle" font-size="7.5" fill="#222" stroke="#222" >Distance to binding site (bp)</text>
<text x="274.20" y="15.10" text-anchor="middle" font-size="7.5" fill="#222" stroke="#222" >Open chromatin sites in ARPC</text>
<text x="274.20" y="23.80" text-anchor="middle" font-size="7.5" fill="#222" stroke="#222" >(15,879 ATAC-seq sites)</text>
<text transform="translate(184.9,72.3) rotate(-90)" text-anchor="middle" font-size="7.5" fill="#222" stroke="#222">Mean normalized coverage</text>
<text x="269.30" y="148.80" text-anchor="middle" font-size="7.5" fill="#222" stroke="#222" >LuCaP ctDNA/healthy donor ctDNA</text>
<line x1="205.60" y1="156.30" x2="220.90" y2="156.30" stroke="#3b7fc4" stroke-width="1.8" />
<text x="221.50" y="159.00" text-anchor="start" font-size="7.5" fill="#222" stroke="#222" >ARPC</text>
<text x="221.80" y="167.20" text-anchor="start" font-size="7.5" fill="#222" stroke="#222" >(<tspan font-style="italic">n</tspan> = 16)</text>
<line x1="255.20" y1="156.30" x2="269.70" y2="156.30" stroke="#d9553a" stroke-width="1.8" />
<text x="270.30" y="159.00" text-anchor="start" font-size="7.5" fill="#222" stroke="#222" >NEPC</text>
<text x="270.60" y="167.20" text-anchor="start" font-size="7.5" fill="#222" stroke="#222" >(<tspan font-style="italic">n</tspan> = 6)</text>
<line x1="297.60" y1="156.30" x2="313.80" y2="156.30" stroke="#2a9a6a" stroke-width="1.8" />
<text x="314.90" y="159.00" text-anchor="start" font-size="7.5" fill="#222" stroke="#222" >HD</text>
<text x="315.20" y="167.20" text-anchor="start" font-size="7.5" fill="#222" stroke="#222" >(<tspan font-style="italic">n</tspan> = 14)</text>
<path d="M392.90,71.90 C393.27,71.02 395.67,62.60 396.60,63.10 C397.54,63.60 401.19,76.52 402.25,76.90 C403.31,77.28 406.19,66.53 407.25,66.90 C408.31,67.27 411.77,80.04 412.90,80.60 C414.02,81.16 417.44,72.25 418.50,72.50 C419.56,72.75 422.44,83.60 423.50,83.10 C424.56,82.60 428.23,68.81 429.10,67.50 C429.98,66.19 431.31,71.44 432.25,70.00 C433.19,68.56 437.52,53.10 438.50,53.10 C439.48,53.10 441.32,66.01 442.00,70.00 C442.68,73.99 444.59,89.45 445.30,93.00 C446.01,96.55 448.34,105.50 449.10,105.50 C449.86,105.50 452.16,96.55 452.90,93.00 C453.64,89.45 455.79,74.26 456.50,70.00 C457.21,65.74 459.15,50.55 460.00,50.40 C460.85,50.25 464.06,66.69 465.00,68.50 C465.94,70.31 468.40,67.38 469.40,68.50 C470.40,69.62 474.06,79.38 475.00,79.75 C475.94,80.12 477.81,71.81 478.75,72.25 C479.69,72.69 483.15,84.66 484.40,84.10 C485.65,83.53 490.13,67.22 491.25,66.60 C492.37,65.98 494.60,78.59 495.60,77.90 C496.60,77.22 500.31,60.81 501.25,59.75 C502.19,58.69 504.62,66.50 505.00,67.25" fill="none" stroke="#f4c4b4" stroke-width="5.4" stroke-linejoin="round" stroke-linecap="round" stroke-opacity="0.85"/>
<path d="M392.60,55.00 C393.12,54.31 396.70,48.21 397.80,48.10 C398.90,47.99 402.39,54.07 403.60,53.90 C404.81,53.73 408.69,46.34 409.90,46.40 C411.11,46.46 414.55,54.10 415.70,54.50 C416.85,54.90 420.25,50.87 421.40,50.40 C422.55,49.93 426.04,50.14 427.20,49.80 C428.36,49.46 431.84,47.51 433.00,47.00 C434.16,46.49 437.87,46.06 438.80,44.70 C439.73,43.34 441.24,33.71 442.30,33.40 C443.36,33.09 448.08,41.35 449.40,41.60 C450.72,41.85 454.31,35.59 455.50,35.90 C456.69,36.21 460.30,43.18 461.25,44.75 C462.20,46.32 464.12,51.29 465.00,51.60 C465.88,51.91 468.88,48.34 470.00,47.90 C471.12,47.46 475.06,46.56 476.25,47.25 C477.44,47.94 480.77,54.62 481.90,54.75 C483.02,54.88 486.50,48.50 487.50,48.50 C488.50,48.50 490.90,54.81 491.90,54.75 C492.90,54.69 496.31,47.96 497.50,47.90 C498.69,47.84 502.94,53.91 503.75,54.10 C504.56,54.29 505.42,50.19 505.60,49.75" fill="none" stroke="#bcd6ea" stroke-width="3.4" stroke-linejoin="round" stroke-linecap="round" stroke-opacity="0.85"/>
<path d="M392.60,51.00 C393.01,50.77 395.72,48.35 396.70,48.70 C397.68,49.05 401.31,54.62 402.40,54.50 C403.49,54.38 406.44,47.74 407.60,47.50 C408.76,47.26 412.79,51.75 414.00,52.10 C415.21,52.45 418.61,51.00 419.70,51.00 C420.79,51.00 423.80,52.33 424.90,52.10 C426.00,51.87 429.55,49.16 430.70,48.70 C431.85,48.24 435.40,47.96 436.40,47.50 C437.40,47.04 439.86,43.70 440.70,44.10 C441.54,44.50 443.89,51.34 444.80,51.50 C445.71,51.66 448.76,45.67 449.75,45.75 C450.74,45.83 453.77,52.38 454.70,52.30 C455.62,52.22 458.17,45.33 459.00,45.00 C459.83,44.67 462.10,48.80 463.00,49.00 C463.90,49.20 466.90,46.90 468.00,47.00 C469.10,47.10 472.68,49.91 474.00,50.00 C475.32,50.09 480.15,47.80 481.25,47.90 C482.35,48.00 484.12,51.04 485.00,51.00 C485.88,50.96 489.00,47.45 490.00,47.50 C491.00,47.55 494.00,51.50 495.00,51.50 C496.00,51.50 498.94,47.55 500.00,47.50 C501.06,47.45 505.04,50.65 505.60,51.00" fill="none" stroke="#4f9fa0" stroke-width="1.1" stroke-linejoin="round" stroke-linecap="round"/>
<path d="M392.90,71.90 C393.27,71.02 395.67,62.60 396.60,63.10 C397.54,63.60 401.19,76.52 402.25,76.90 C403.31,77.28 406.19,66.53 407.25,66.90 C408.31,67.27 411.77,80.04 412.90,80.60 C414.02,81.16 417.44,72.25 418.50,72.50 C419.56,72.75 422.44,83.60 423.50,83.10 C424.56,82.60 428.23,68.81 429.10,67.50 C429.98,66.19 431.31,71.44 432.25,70.00 C433.19,68.56 437.52,53.10 438.50,53.10 C439.48,53.10 441.32,66.01 442.00,70.00 C442.68,73.99 444.59,89.45 445.30,93.00 C446.01,96.55 448.34,105.50 449.10,105.50 C449.86,105.50 452.16,96.55 452.90,93.00 C453.64,89.45 455.79,74.26 456.50,70.00 C457.21,65.74 459.15,50.55 460.00,50.40 C460.85,50.25 464.06,66.69 465.00,68.50 C465.94,70.31 468.40,67.38 469.40,68.50 C470.40,69.62 474.06,79.38 475.00,79.75 C475.94,80.12 477.81,71.81 478.75,72.25 C479.69,72.69 483.15,84.66 484.40,84.10 C485.65,83.53 490.13,67.22 491.25,66.60 C492.37,65.98 494.60,78.59 495.60,77.90 C496.60,77.22 500.31,60.81 501.25,59.75 C502.19,58.69 504.62,66.50 505.00,67.25" fill="none" stroke="#d8654a" stroke-width="1.1" stroke-linejoin="round" stroke-linecap="round"/>
<path d="M392.60,55.00 C393.12,54.31 396.70,48.21 397.80,48.10 C398.90,47.99 402.39,54.07 403.60,53.90 C404.81,53.73 408.69,46.34 409.90,46.40 C411.11,46.46 414.55,54.10 415.70,54.50 C416.85,54.90 420.25,50.87 421.40,50.40 C422.55,49.93 426.04,50.14 427.20,49.80 C428.36,49.46 431.84,47.51 433.00,47.00 C434.16,46.49 437.87,46.06 438.80,44.70 C439.73,43.34 441.24,33.71 442.30,33.40 C443.36,33.09 448.08,41.35 449.40,41.60 C450.72,41.85 454.31,35.59 455.50,35.90 C456.69,36.21 460.30,43.18 461.25,44.75 C462.20,46.32 464.12,51.29 465.00,51.60 C465.88,51.91 468.88,48.34 470.00,47.90 C471.12,47.46 475.06,46.56 476.25,47.25 C477.44,47.94 480.77,54.62 481.90,54.75 C483.02,54.88 486.50,48.50 487.50,48.50 C488.50,48.50 490.90,54.81 491.90,54.75 C492.90,54.69 496.31,47.96 497.50,47.90 C498.69,47.84 502.94,53.91 503.75,54.10 C504.56,54.29 505.42,50.19 505.60,49.75" fill="none" stroke="#5a90c8" stroke-width="1.1" stroke-linejoin="round" stroke-linecap="round"/>
<rect x="439.50" y="26.00" width="20.60" height="94.30" fill="#ece2a0" fill-opacity="0.25"/>
<line x1="439.50" y1="26.00" x2="439.50" y2="120.30" stroke="#8c8c8c" stroke-width="1.0" stroke-dasharray="2.7,3.9"/>
<line x1="460.10" y1="26.00" x2="460.10" y2="120.30" stroke="#8c8c8c" stroke-width="1.0" stroke-dasharray="2.7,3.9"/>
<rect x="386.2" y="26.0" width="126.09999999999997" height="94.3" fill="none" stroke="#959595" stroke-width="1.0"/>
<text x="383.90" y="37.80" text-anchor="end" font-size="7.5" fill="#222" stroke="#222" >1.025</text>
<line x1="384.40" y1="35.10" x2="386.20" y2="35.10" stroke="#555" stroke-width="0.6" />
<text x="383.90" y="50.35" text-anchor="end" font-size="7.5" fill="#222" stroke="#222" >1.000</text>
<line x1="384.40" y1="47.65" x2="386.20" y2="47.65" stroke="#555" stroke-width="0.6" />
<text x="383.90" y="62.90" text-anchor="end" font-size="7.5" fill="#222" stroke="#222" >0.975</text>
<line x1="384.40" y1="60.20" x2="386.20" y2="60.20" stroke="#555" stroke-width="0.6" />
<text x="383.90" y="75.45" text-anchor="end" font-size="7.5" fill="#222" stroke="#222" >0.950</text>
<line x1="384.40" y1="72.75" x2="386.20" y2="72.75" stroke="#555" stroke-width="0.6" />
<text x="383.90" y="88.00" text-anchor="end" font-size="7.5" fill="#222" stroke="#222" >0.925</text>
<line x1="384.40" y1="85.30" x2="386.20" y2="85.30" stroke="#555" stroke-width="0.6" />
<text x="383.90" y="100.55" text-anchor="end" font-size="7.5" fill="#222" stroke="#222" >0.900</text>
<line x1="384.40" y1="97.85" x2="386.20" y2="97.85" stroke="#555" stroke-width="0.6" />
<text x="383.90" y="113.10" text-anchor="end" font-size="7.5" fill="#222" stroke="#222" >0.875</text>
<line x1="384.40" y1="110.40" x2="386.20" y2="110.40" stroke="#555" stroke-width="0.6" />
<text x="392.30" y="129.20" text-anchor="middle" font-size="7.5" fill="#222" stroke="#222" >−1,000</text>
<line x1="392.30" y1="120.30" x2="392.30" y2="122.10" stroke="#555" stroke-width="0.6" />
<text x="421.15" y="129.20" text-anchor="middle" font-size="7.5" fill="#222" stroke="#222" >−500</text>
<line x1="421.15" y1="120.30" x2="421.15" y2="122.10" stroke="#555" stroke-width="0.6" />
<text x="450.00" y="129.20" text-anchor="middle" font-size="7.5" fill="#222" stroke="#222" >0</text>
<line x1="450.00" y1="120.30" x2="450.00" y2="122.10" stroke="#555" stroke-width="0.6" />
<text x="478.85" y="129.20" text-anchor="middle" font-size="7.5" fill="#222" stroke="#222" >500</text>
<line x1="478.85" y1="120.30" x2="478.85" y2="122.10" stroke="#555" stroke-width="0.6" />
<text x="507.70" y="129.20" text-anchor="middle" font-size="7.5" fill="#222" stroke="#222" >1,000</text>
<line x1="507.70" y1="120.30" x2="507.70" y2="122.10" stroke="#555" stroke-width="0.6" />
<text x="449.00" y="137.80" text-anchor="middle" font-size="7.5" fill="#222" stroke="#222" >Distance to binding site (bp)</text>
<text x="449.00" y="15.10" text-anchor="middle" font-size="7.5" fill="#222" stroke="#222" >Open chromatin sites in NEPC</text>
<text x="449.00" y="23.80" text-anchor="middle" font-size="7.5" fill="#222" stroke="#222" >(11,692 ATAC-seq sites)</text>
<text transform="translate(360.6,72.3) rotate(-90)" text-anchor="middle" font-size="7.5" fill="#222" stroke="#222">Mean normalized coverage</text>
<text x="446.30" y="148.80" text-anchor="middle" font-size="7.5" fill="#222" stroke="#222" >LuCaP ctDNA/healthy donor ctDNA</text>
<line x1="382.60" y1="156.30" x2="397.90" y2="156.30" stroke="#3b7fc4" stroke-width="1.8" />
<text x="398.50" y="159.00" text-anchor="start" font-size="7.5" fill="#222" stroke="#222" >ARPC</text>
<text x="398.80" y="167.20" text-anchor="start" font-size="7.5" fill="#222" stroke="#222" >(<tspan font-style="italic">n</tspan> = 16)</text>
<line x1="432.20" y1="156.30" x2="446.70" y2="156.30" stroke="#d9553a" stroke-width="1.8" />
<text x="447.30" y="159.00" text-anchor="start" font-size="7.5" fill="#222" stroke="#222" >NEPC</text>
<text x="447.60" y="167.20" text-anchor="start" font-size="7.5" fill="#222" stroke="#222" >(<tspan font-style="italic">n</tspan> = 6)</text>
<line x1="474.60" y1="156.30" x2="490.80" y2="156.30" stroke="#2a9a6a" stroke-width="1.8" />
<text x="491.90" y="159.00" text-anchor="start" font-size="7.5" fill="#222" stroke="#222" >HD</text>
<text x="492.20" y="167.20" text-anchor="start" font-size="7.5" fill="#222" stroke="#222" >(<tspan font-style="italic">n</tspan> = 14)</text>
<circle cx="96" cy="207.5" r="3.1" fill="#3d7cc0" stroke="#3266a6" stroke-width="0.6"/>
<circle cx="66" cy="254.25" r="3.1" fill="#3d7cc0" stroke="#3266a6" stroke-width="0.6"/>
<circle cx="86.5" cy="252.5" r="3.1" fill="#3d7cc0" stroke="#3266a6" stroke-width="0.6"/>
<circle cx="98.3" cy="277.3" r="3.1" fill="#3d7cc0" stroke="#3266a6" stroke-width="0.6"/>
<circle cx="72.6" cy="284" r="3.1" fill="#3d7cc0" stroke="#3266a6" stroke-width="0.6"/>
<circle cx="77.3" cy="283.2" r="3.1" fill="#3d7cc0" stroke="#3266a6" stroke-width="0.6"/>
<circle cx="62.3" cy="291" r="3.1" fill="#3d7cc0" stroke="#3266a6" stroke-width="0.6"/>
<circle cx="69.4" cy="290" r="3.1" fill="#3d7cc0" stroke="#3266a6" stroke-width="0.6"/>
<circle cx="78" cy="290.7" r="3.1" fill="#3d7cc0" stroke="#3266a6" stroke-width="0.6"/>
<circle cx="85" cy="301.8" r="3.1" fill="#3d7cc0" stroke="#3266a6" stroke-width="0.6"/>
<circle cx="74.2" cy="306" r="3.1" fill="#3d7cc0" stroke="#3266a6" stroke-width="0.6"/>
<circle cx="52.4" cy="307.3" r="3.1" fill="#3d7cc0" stroke="#3266a6" stroke-width="0.6"/>
<circle cx="58.2" cy="310.1" r="3.1" fill="#3d7cc0" stroke="#3266a6" stroke-width="0.6"/>
<circle cx="60.5" cy="316.3" r="3.1" fill="#3d7cc0" stroke="#3266a6" stroke-width="0.6"/>
<circle cx="60.9" cy="319.6" r="3.1" fill="#3d7cc0" stroke="#3266a6" stroke-width="0.6"/>
<circle cx="74.5" cy="325.5" r="3.1" fill="#3d7cc0" stroke="#3266a6" stroke-width="0.6"/>
<circle cx="159.2" cy="280.1" r="3.1" fill="#d45a3a" stroke="#b84a30" stroke-width="0.6"/>
<circle cx="151.1" cy="285.6" r="3.1" fill="#d45a3a" stroke="#b84a30" stroke-width="0.6"/>
<circle cx="156.5" cy="304.4" r="3.1" fill="#d45a3a" stroke="#b84a30" stroke-width="0.6"/>
<circle cx="148.7" cy="306.4" r="3.1" fill="#d45a3a" stroke="#b84a30" stroke-width="0.6"/>
<circle cx="139.3" cy="310.4" r="3.1" fill="#d45a3a" stroke="#b84a30" stroke-width="0.6"/>
<circle cx="137.2" cy="320" r="3.1" fill="#d45a3a" stroke="#b84a30" stroke-width="0.6"/>
<rect x="47.3" y="201.7" width="117.00000000000001" height="130.40000000000003" fill="none" stroke="#959595" stroke-width="1.0"/>
<text x="43.00" y="213.34" text-anchor="end" font-size="7.5" fill="#222" stroke="#222" >12.5</text>
<line x1="44.50" y1="210.64" x2="47.30" y2="210.64" stroke="#555" stroke-width="0.7" />
<text x="43.00" y="229.65" text-anchor="end" font-size="7.5" fill="#222" stroke="#222" >10.0</text>
<line x1="44.50" y1="226.95" x2="47.30" y2="226.95" stroke="#555" stroke-width="0.7" />
<text x="43.00" y="245.96" text-anchor="end" font-size="7.5" fill="#222" stroke="#222" >10.0</text>
<line x1="44.50" y1="243.26" x2="47.30" y2="243.26" stroke="#555" stroke-width="0.7" />
<text x="43.00" y="262.27" text-anchor="end" font-size="7.5" fill="#222" stroke="#222" >5.0</text>
<line x1="44.50" y1="259.57" x2="47.30" y2="259.57" stroke="#555" stroke-width="0.7" />
<text x="43.00" y="278.59" text-anchor="end" font-size="7.5" fill="#222" stroke="#222" >2.5</text>
<line x1="44.50" y1="275.89" x2="47.30" y2="275.89" stroke="#555" stroke-width="0.7" />
<text x="43.00" y="294.90" text-anchor="end" font-size="7.5" fill="#222" stroke="#222" >0.0</text>
<line x1="44.50" y1="292.20" x2="47.30" y2="292.20" stroke="#555" stroke-width="0.7" />
<text x="43.00" y="311.21" text-anchor="end" font-size="7.5" fill="#222" stroke="#222" >−2.5</text>
<line x1="44.50" y1="308.51" x2="47.30" y2="308.51" stroke="#555" stroke-width="0.7" />
<text x="43.00" y="327.52" text-anchor="end" font-size="7.5" fill="#222" stroke="#222" >−5.0</text>
<line x1="44.50" y1="324.82" x2="47.30" y2="324.82" stroke="#555" stroke-width="0.7" />
<text x="65.30" y="342.00" text-anchor="middle" font-size="7.5" fill="#222" stroke="#222" >−5</text>
<line x1="65.00" y1="332.10" x2="65.00" y2="334.90" stroke="#555" stroke-width="0.7" />
<text x="93.80" y="342.00" text-anchor="middle" font-size="7.5" fill="#222" stroke="#222" >0</text>
<line x1="93.80" y1="332.10" x2="93.80" y2="334.90" stroke="#555" stroke-width="0.7" />
<text x="122.60" y="342.00" text-anchor="middle" font-size="7.5" fill="#222" stroke="#222" >5</text>
<line x1="122.60" y1="332.10" x2="122.60" y2="334.90" stroke="#555" stroke-width="0.7" />
<text x="151.40" y="342.00" text-anchor="middle" font-size="7.5" fill="#222" stroke="#222" >10</text>
<line x1="151.40" y1="332.10" x2="151.40" y2="334.90" stroke="#555" stroke-width="0.7" />
<text x="106.10" y="190.90" text-anchor="middle" font-size="7.5" fill="#222" stroke="#222" >Composite TFBS coverage</text>
<text x="106.10" y="198.70" text-anchor="middle" font-size="7.5" fill="#222" stroke="#222" >(74 significant TFs)</text>
<text x="108.00" y="352.30" text-anchor="middle" font-size="7.5" fill="#222" stroke="#222" >PC 1 (49.87%)</text>
<text transform="translate(25.4,260.2) rotate(-90)" text-anchor="middle" font-size="7.5" fill="#222" stroke="#222">PC 2 (22.30%)</text>
<circle cx="233" cy="265.1" r="3.1" fill="#3d7cc0" stroke="#3266a6" stroke-width="0.6"/>
<circle cx="226.6" cy="278.3" r="3.1" fill="#3d7cc0" stroke="#3266a6" stroke-width="0.6"/>
<circle cx="258.2" cy="287" r="3.1" fill="#3d7cc0" stroke="#3266a6" stroke-width="0.6"/>
<circle cx="236.7" cy="297.6" r="3.1" fill="#3d7cc0" stroke="#3266a6" stroke-width="0.6"/>
<circle cx="251" cy="300.4" r="3.1" fill="#3d7cc0" stroke="#3266a6" stroke-width="0.6"/>
<circle cx="263.6" cy="301" r="3.1" fill="#3d7cc0" stroke="#3266a6" stroke-width="0.6"/>
<circle cx="277" cy="293.1" r="3.1" fill="#3d7cc0" stroke="#3266a6" stroke-width="0.6"/>
<circle cx="270.3" cy="306.9" r="3.1" fill="#3d7cc0" stroke="#3266a6" stroke-width="0.6"/>
<circle cx="294.1" cy="292.6" r="3.1" fill="#3d7cc0" stroke="#3266a6" stroke-width="0.6"/>
<circle cx="304.5" cy="290.9" r="3.1" fill="#3d7cc0" stroke="#3266a6" stroke-width="0.6"/>
<circle cx="309.8" cy="287.5" r="3.1" fill="#3d7cc0" stroke="#3266a6" stroke-width="0.6"/>
<circle cx="216.8" cy="306.6" r="3.1" fill="#3d7cc0" stroke="#3266a6" stroke-width="0.6"/>
<circle cx="329.4" cy="308.8" r="3.1" fill="#3d7cc0" stroke="#3266a6" stroke-width="0.6"/>
<circle cx="331" cy="313.3" r="3.1" fill="#3d7cc0" stroke="#3266a6" stroke-width="0.6"/>
<circle cx="238.4" cy="320.9" r="3.1" fill="#3d7cc0" stroke="#3266a6" stroke-width="0.6"/>
<circle cx="244.2" cy="325.6" r="3.1" fill="#3d7cc0" stroke="#3266a6" stroke-width="0.6"/>
<circle cx="225.2" cy="208" r="3.1" fill="#d45a3a" stroke="#b84a30" stroke-width="0.6"/>
<circle cx="317" cy="240.2" r="3.1" fill="#d45a3a" stroke="#b84a30" stroke-width="0.6"/>
<circle cx="278.7" cy="249.2" r="3.1" fill="#d45a3a" stroke="#b84a30" stroke-width="0.6"/>
<circle cx="283.7" cy="255.6" r="3.1" fill="#d45a3a" stroke="#b84a30" stroke-width="0.6"/>
<circle cx="286.2" cy="261.8" r="3.1" fill="#d45a3a" stroke="#b84a30" stroke-width="0.6"/>
<circle cx="322.7" cy="269.6" r="3.1" fill="#d45a3a" stroke="#b84a30" stroke-width="0.6"/>
<rect x="210.3" y="201.7" width="126.89999999999998" height="129.60000000000002" fill="none" stroke="#959595" stroke-width="1.0"/>
<text x="206.00" y="224.02" text-anchor="end" font-size="7.5" fill="#222" stroke="#222" >6</text>
<line x1="207.50" y1="221.32" x2="210.30" y2="221.32" stroke="#555" stroke-width="0.7" />
<text x="206.00" y="245.08" text-anchor="end" font-size="7.5" fill="#222" stroke="#222" >4</text>
<line x1="207.50" y1="242.38" x2="210.30" y2="242.38" stroke="#555" stroke-width="0.7" />
<text x="206.00" y="266.14" text-anchor="end" font-size="7.5" fill="#222" stroke="#222" >2</text>
<line x1="207.50" y1="263.44" x2="210.30" y2="263.44" stroke="#555" stroke-width="0.7" />
<text x="206.00" y="287.20" text-anchor="end" font-size="7.5" fill="#222" stroke="#222" >0</text>
<line x1="207.50" y1="284.50" x2="210.30" y2="284.50" stroke="#555" stroke-width="0.7" />
<text x="206.00" y="308.26" text-anchor="end" font-size="7.5" fill="#222" stroke="#222" >−2</text>
<line x1="207.50" y1="305.56" x2="210.30" y2="305.56" stroke="#555" stroke-width="0.7" />
<text x="206.00" y="329.32" text-anchor="end" font-size="7.5" fill="#222" stroke="#222" >−4</text>
<line x1="207.50" y1="326.62" x2="210.30" y2="326.62" stroke="#555" stroke-width="0.7" />
<text x="226.10" y="342.00" text-anchor="middle" font-size="7.5" fill="#222" stroke="#222" >−5</text>
<line x1="225.80" y1="331.30" x2="225.80" y2="334.10" stroke="#555" stroke-width="0.7" />
<text x="273.40" y="342.00" text-anchor="middle" font-size="7.5" fill="#222" stroke="#222" >0</text>
<line x1="273.40" y1="331.30" x2="273.40" y2="334.10" stroke="#555" stroke-width="0.7" />
<text x="321.00" y="342.00" text-anchor="middle" font-size="7.5" fill="#222" stroke="#222" >5</text>
<line x1="321.00" y1="331.30" x2="321.00" y2="334.10" stroke="#555" stroke-width="0.7" />
<text x="273.30" y="190.90" text-anchor="middle" font-size="7.5" fill="#222" stroke="#222" >Nucleosome phasing score</text>
<text x="273.30" y="198.70" text-anchor="middle" font-size="7.5" fill="#222" stroke="#222" >(47 prostate cancer genes)</text>
<text x="272.80" y="352.30" text-anchor="middle" font-size="7.5" fill="#222" stroke="#222" >PC 1 (28.9%)</text>
<text transform="translate(196.1,260.2) rotate(-90)" text-anchor="middle" font-size="7.5" fill="#222" stroke="#222">PC 2 (15.14%)</text>
<circle cx="495.4" cy="265.7" r="3.1" fill="#3d7cc0" stroke="#3266a6" stroke-width="0.6"/>
<circle cx="399.6" cy="275.8" r="3.1" fill="#3d7cc0" stroke="#3266a6" stroke-width="0.6"/>
<circle cx="440.2" cy="285.9" r="3.1" fill="#3d7cc0" stroke="#3266a6" stroke-width="0.6"/>
<circle cx="455" cy="289.8" r="3.1" fill="#3d7cc0" stroke="#3266a6" stroke-width="0.6"/>
<circle cx="416.4" cy="291.2" r="3.1" fill="#3d7cc0" stroke="#3266a6" stroke-width="0.6"/>
<circle cx="417.2" cy="293.4" r="3.1" fill="#3d7cc0" stroke="#3266a6" stroke-width="0.6"/>
<circle cx="464" cy="294" r="3.1" fill="#3d7cc0" stroke="#3266a6" stroke-width="0.6"/>
<circle cx="398.2" cy="297" r="3.1" fill="#3d7cc0" stroke="#3266a6" stroke-width="0.6"/>
<circle cx="401.8" cy="306.9" r="3.1" fill="#3d7cc0" stroke="#3266a6" stroke-width="0.6"/>
<circle cx="434.6" cy="308.3" r="3.1" fill="#3d7cc0" stroke="#3266a6" stroke-width="0.6"/>
<circle cx="471" cy="307.7" r="3.1" fill="#3d7cc0" stroke="#3266a6" stroke-width="0.6"/>
<circle cx="507.7" cy="312.8" r="3.1" fill="#3d7cc0" stroke="#3266a6" stroke-width="0.6"/>
<circle cx="462" cy="319.2" r="3.1" fill="#3d7cc0" stroke="#3266a6" stroke-width="0.6"/>
<circle cx="416.7" cy="324.8" r="3.1" fill="#3d7cc0" stroke="#3266a6" stroke-width="0.6"/>
<circle cx="422" cy="324.5" r="3.1" fill="#3d7cc0" stroke="#3266a6" stroke-width="0.6"/>
<circle cx="445.1" cy="325.6" r="3.1" fill="#3d7cc0" stroke="#3266a6" stroke-width="0.6"/>
<circle cx="406.6" cy="207.7" r="3.1" fill="#d45a3a" stroke="#b84a30" stroke-width="0.6"/>
<circle cx="455" cy="207.7" r="3.1" fill="#d45a3a" stroke="#b84a30" stroke-width="0.6"/>
<circle cx="449.4" cy="221.7" r="3.1" fill="#d45a3a" stroke="#b84a30" stroke-width="0.6"/>
<circle cx="451.4" cy="232.6" r="3.1" fill="#d45a3a" stroke="#b84a30" stroke-width="0.6"/>
<circle cx="397.1" cy="232.6" r="3.1" fill="#d45a3a" stroke="#b84a30" stroke-width="0.6"/>
<circle cx="504.6" cy="248.6" r="3.1" fill="#d45a3a" stroke="#b84a30" stroke-width="0.6"/>
<rect x="391.8" y="201.7" width="120.0" height="129.7" fill="none" stroke="#959595" stroke-width="1.0"/>
<text x="387.50" y="205.52" text-anchor="end" font-size="7.5" fill="#222" stroke="#222" >40</text>
<line x1="389.00" y1="202.82" x2="391.80" y2="202.82" stroke="#555" stroke-width="0.7" />
<text x="387.50" y="224.89" text-anchor="end" font-size="7.5" fill="#222" stroke="#222" >30</text>
<line x1="389.00" y1="222.19" x2="391.80" y2="222.19" stroke="#555" stroke-width="0.7" />
<text x="387.50" y="244.26" text-anchor="end" font-size="7.5" fill="#222" stroke="#222" >20</text>
<line x1="389.00" y1="241.56" x2="391.80" y2="241.56" stroke="#555" stroke-width="0.7" />
<text x="387.50" y="263.63" text-anchor="end" font-size="7.5" fill="#222" stroke="#222" >10</text>
<line x1="389.00" y1="260.93" x2="391.80" y2="260.93" stroke="#555" stroke-width="0.7" />
<text x="387.50" y="283.00" text-anchor="end" font-size="7.5" fill="#222" stroke="#222" >0</text>
<line x1="389.00" y1="280.30" x2="391.80" y2="280.30" stroke="#555" stroke-width="0.7" />
<text x="387.50" y="302.37" text-anchor="end" font-size="7.5" fill="#222" stroke="#222" >−10</text>
<line x1="389.00" y1="299.67" x2="391.80" y2="299.67" stroke="#555" stroke-width="0.7" />
<text x="387.50" y="321.74" text-anchor="end" font-size="7.5" fill="#222" stroke="#222" >−20</text>
<line x1="389.00" y1="319.04" x2="391.80" y2="319.04" stroke="#555" stroke-width="0.7" />
<text x="403.10" y="342.00" text-anchor="middle" font-size="7.5" fill="#222" stroke="#222" >−100</text>
<line x1="402.80" y1="331.40" x2="402.80" y2="334.20" stroke="#555" stroke-width="0.7" />
<text x="441.20" y="342.00" text-anchor="middle" font-size="7.5" fill="#222" stroke="#222" >0</text>
<line x1="441.20" y1="331.40" x2="441.20" y2="334.20" stroke="#555" stroke-width="0.7" />
<text x="479.60" y="342.00" text-anchor="middle" font-size="7.5" fill="#222" stroke="#222" >100</text>
<line x1="479.60" y1="331.40" x2="479.60" y2="334.20" stroke="#555" stroke-width="0.7" />
<text x="458.20" y="190.90" text-anchor="middle" font-size="7.5" fill="#222" stroke="#222" >Fragment size variability</text>
<text x="458.20" y="198.70" text-anchor="middle" font-size="7.5" fill="#222" stroke="#222" >(H3K4me1 sites)</text>
<text x="451.60" y="352.30" text-anchor="middle" font-size="7.5" fill="#222" stroke="#222" >PC 1 (79.65%)</text>
<text transform="translate(372.6,260.2) rotate(-90)" text-anchor="middle" font-size="7.5" fill="#222" stroke="#222">PC 2 (3.88%)</text>
<circle cx="241" cy="363.3" r="3.0" fill="#3d7cc0"/>
<text x="246.80" y="366.10" text-anchor="start" font-size="7.5" fill="#222" stroke="#222" >ARPC</text>
<text x="247.00" y="373.20" text-anchor="start" font-size="7.5" fill="#222" stroke="#222" >(<tspan font-style="italic">n</tspan> = 16)</text>
<circle cx="284.2" cy="363.3" r="3.0" fill="#d45a3a"/>
<text x="289.40" y="366.10" text-anchor="start" font-size="7.5" fill="#222" stroke="#222" >NEPC</text>
<text x="289.60" y="373.20" text-anchor="start" font-size="7.5" fill="#222" stroke="#222" >(<tspan font-style="italic">n</tspan> = 6)</text>
<rect x="40.75" y="411.31" width="6.05" height="119.29" fill="#9a6fbf" />
<line x1="43.77" y1="408.16" x2="43.77" y2="413.31" stroke="#5e3d7c" stroke-width="0.9" />
<line x1="42.88" y1="408.16" x2="44.67" y2="408.16" stroke="#5e3d7c" stroke-width="0.6" />
<rect x="47.63" y="427.06" width="6.05" height="103.54" fill="#8c5a52" />
<line x1="50.66" y1="423.91" x2="50.66" y2="429.06" stroke="#5a3530" stroke-width="0.9" />
<line x1="49.76" y1="423.91" x2="51.55" y2="423.91" stroke="#5a3530" stroke-width="0.6" />
<rect x="54.51" y="399.50" width="6.05" height="131.10" fill="#9d9ea6" />
<rect x="61.39" y="411.31" width="6.05" height="119.29" fill="#b6ab2e" />
<line x1="64.42" y1="408.16" x2="64.42" y2="413.31" stroke="#6f6818" stroke-width="0.9" />
<line x1="63.52" y1="408.16" x2="65.32" y2="408.16" stroke="#6f6818" stroke-width="0.6" />
<rect x="68.27" y="399.50" width="6.05" height="131.10" fill="#22aabb" />
<rect x="87.90" y="411.97" width="6.05" height="118.63" fill="#9a6fbf" />
<line x1="90.93" y1="408.82" x2="90.93" y2="413.97" stroke="#5e3d7c" stroke-width="0.9" />
<line x1="90.03" y1="408.82" x2="91.83" y2="408.82" stroke="#5e3d7c" stroke-width="0.6" />
<rect x="94.78" y="421.81" width="6.05" height="108.79" fill="#8c5a52" />
<line x1="97.81" y1="418.66" x2="97.81" y2="423.81" stroke="#5a3530" stroke-width="0.9" />
<line x1="96.91" y1="418.66" x2="98.71" y2="418.66" stroke="#5a3530" stroke-width="0.6" />
<rect x="101.66" y="446.75" width="6.05" height="83.85" fill="#9d9ea6" />
<line x1="104.69" y1="443.60" x2="104.69" y2="448.75" stroke="#5c5d64" stroke-width="0.9" />
<line x1="103.79" y1="443.60" x2="105.59" y2="443.60" stroke="#5c5d64" stroke-width="0.6" />
<rect x="108.54" y="461.19" width="6.05" height="69.41" fill="#b6ab2e" />
<line x1="111.57" y1="458.04" x2="111.57" y2="463.19" stroke="#6f6818" stroke-width="0.9" />
<line x1="110.67" y1="458.04" x2="112.47" y2="458.04" stroke="#6f6818" stroke-width="0.6" />
<rect x="115.42" y="446.75" width="6.05" height="83.85" fill="#22aabb" />
<line x1="118.45" y1="443.60" x2="118.45" y2="448.75" stroke="#136a75" stroke-width="0.9" />
<line x1="117.55" y1="443.60" x2="119.35" y2="443.60" stroke="#136a75" stroke-width="0.6" />
<rect x="134.25" y="428.38" width="6.05" height="102.23" fill="#9a6fbf" />
<line x1="137.28" y1="425.23" x2="137.28" y2="430.38" stroke="#5e3d7c" stroke-width="0.9" />
<line x1="136.38" y1="425.23" x2="138.18" y2="425.23" stroke="#5e3d7c" stroke-width="0.6" />
<rect x="141.13" y="425.75" width="6.05" height="104.85" fill="#8c5a52" />
<line x1="144.16" y1="422.60" x2="144.16" y2="427.75" stroke="#5a3530" stroke-width="0.9" />
<line x1="143.25" y1="422.60" x2="145.06" y2="422.60" stroke="#5a3530" stroke-width="0.6" />
<rect x="148.01" y="463.81" width="6.05" height="66.79" fill="#9d9ea6" />
<line x1="151.03" y1="460.66" x2="151.03" y2="465.81" stroke="#5c5d64" stroke-width="0.9" />
<line x1="150.13" y1="460.66" x2="151.94" y2="460.66" stroke="#5c5d64" stroke-width="0.6" />
<rect x="154.89" y="449.38" width="6.05" height="81.23" fill="#b6ab2e" />
<line x1="157.91" y1="446.23" x2="157.91" y2="451.38" stroke="#6f6818" stroke-width="0.9" />
<line x1="157.01" y1="446.23" x2="158.81" y2="446.23" stroke="#6f6818" stroke-width="0.6" />
<rect x="161.77" y="492.16" width="6.05" height="38.44" fill="#22aabb" />
<line x1="164.80" y1="489.01" x2="164.80" y2="494.16" stroke="#136a75" stroke-width="0.9" />
<line x1="163.90" y1="489.01" x2="165.70" y2="489.01" stroke="#136a75" stroke-width="0.6" />
<rect x="186.20" y="429.69" width="6.05" height="100.91" fill="#9a6fbf" />
<line x1="189.22" y1="426.54" x2="189.22" y2="431.69" stroke="#5e3d7c" stroke-width="0.9" />
<line x1="188.32" y1="426.54" x2="190.12" y2="426.54" stroke="#5e3d7c" stroke-width="0.6" />
<rect x="193.08" y="430.34" width="6.05" height="100.26" fill="#8c5a52" />
<line x1="196.10" y1="427.19" x2="196.10" y2="432.34" stroke="#5a3530" stroke-width="0.9" />
<line x1="195.20" y1="427.19" x2="197.00" y2="427.19" stroke="#5a3530" stroke-width="0.6" />
<rect x="199.96" y="399.50" width="6.05" height="131.10" fill="#9d9ea6" />
<rect x="206.84" y="406.06" width="6.05" height="124.54" fill="#b6ab2e" />
<line x1="209.86" y1="403.11" x2="209.86" y2="408.06" stroke="#6f6818" stroke-width="0.9" />
<line x1="208.96" y1="403.11" x2="210.76" y2="403.11" stroke="#6f6818" stroke-width="0.6" />
<rect x="213.72" y="400.81" width="6.05" height="129.79" fill="#22aabb" />
<line x1="216.75" y1="400.22" x2="216.75" y2="402.81" stroke="#136a75" stroke-width="0.9" />
<line x1="215.84" y1="400.22" x2="217.65" y2="400.22" stroke="#136a75" stroke-width="0.6" />
<rect x="220.60" y="406.06" width="6.05" height="124.54" fill="#2e70a6" />
<line x1="223.62" y1="403.11" x2="223.62" y2="408.06" stroke="#1a4468" stroke-width="0.9" />
<line x1="222.72" y1="403.11" x2="224.53" y2="403.11" stroke="#1a4468" stroke-width="0.6" />
<rect x="227.48" y="432.97" width="6.05" height="97.63" fill="#e8812c" />
<line x1="230.50" y1="429.82" x2="230.50" y2="434.97" stroke="#93501a" stroke-width="0.9" />
<line x1="229.60" y1="429.82" x2="231.41" y2="429.82" stroke="#93501a" stroke-width="0.6" />
<rect x="234.36" y="457.25" width="6.05" height="73.35" fill="#2f9448" />
<line x1="237.38" y1="454.10" x2="237.38" y2="459.25" stroke="#1b5a2a" stroke-width="0.9" />
<line x1="236.48" y1="454.10" x2="238.28" y2="454.10" stroke="#1b5a2a" stroke-width="0.6" />
<rect x="253.80" y="444.12" width="6.05" height="86.48" fill="#9a6fbf" />
<line x1="256.82" y1="440.98" x2="256.82" y2="446.12" stroke="#5e3d7c" stroke-width="0.9" />
<line x1="255.92" y1="440.98" x2="257.72" y2="440.98" stroke="#5e3d7c" stroke-width="0.6" />
<rect x="260.68" y="411.31" width="6.05" height="119.29" fill="#8c5a52" />
<line x1="263.70" y1="408.16" x2="263.70" y2="413.31" stroke="#5a3530" stroke-width="0.9" />
<line x1="262.81" y1="408.16" x2="264.60" y2="408.16" stroke="#5a3530" stroke-width="0.6" />
<rect x="267.56" y="410.00" width="6.05" height="120.60" fill="#9d9ea6" />
<line x1="270.58" y1="406.85" x2="270.58" y2="412.00" stroke="#5c5d64" stroke-width="0.9" />
<line x1="269.69" y1="406.85" x2="271.48" y2="406.85" stroke="#5c5d64" stroke-width="0.6" />
<rect x="274.44" y="452.66" width="6.05" height="77.94" fill="#b6ab2e" />
<line x1="277.46" y1="449.51" x2="277.46" y2="454.66" stroke="#6f6818" stroke-width="0.9" />
<line x1="276.56" y1="449.51" x2="278.36" y2="449.51" stroke="#6f6818" stroke-width="0.6" />
<rect x="281.32" y="399.50" width="6.05" height="131.10" fill="#22aabb" />
<rect x="311.30" y="402.12" width="6.05" height="128.48" fill="#2e70a6" />
<line x1="314.32" y1="400.94" x2="314.32" y2="404.12" stroke="#1a4468" stroke-width="0.9" />
<line x1="313.43" y1="400.94" x2="315.22" y2="400.94" stroke="#1a4468" stroke-width="0.6" />
<rect x="318.18" y="400.81" width="6.05" height="129.79" fill="#e8812c" />
<line x1="321.20" y1="400.22" x2="321.20" y2="402.81" stroke="#93501a" stroke-width="0.9" />
<line x1="320.31" y1="400.22" x2="322.10" y2="400.22" stroke="#93501a" stroke-width="0.6" />
<rect x="363.10" y="399.50" width="6.05" height="131.10" fill="#2e70a6" />
<rect x="369.98" y="399.50" width="6.05" height="131.10" fill="#e8812c" />
<path d="M33.6,392.5 H390.3 V530.6 H33.6 Z" fill="none" stroke="#959595" stroke-width="1.0"/>
<text x="30.50" y="533.45" text-anchor="end" font-size="7.5" fill="#222" stroke="#222" >0.0</text>
<line x1="31.30" y1="530.75" x2="33.60" y2="530.75" stroke="#555" stroke-width="0.6" />
<text x="30.50" y="507.20" text-anchor="end" font-size="7.5" fill="#222" stroke="#222" >0.2</text>
<line x1="31.30" y1="504.50" x2="33.60" y2="504.50" stroke="#555" stroke-width="0.6" />
<text x="30.50" y="480.95" text-anchor="end" font-size="7.5" fill="#222" stroke="#222" >0.4</text>
<line x1="31.30" y1="478.25" x2="33.60" y2="478.25" stroke="#555" stroke-width="0.6" />
<text x="30.50" y="454.70" text-anchor="end" font-size="7.5" fill="#222" stroke="#222" >0.6</text>
<line x1="31.30" y1="452.00" x2="33.60" y2="452.00" stroke="#555" stroke-width="0.6" />
<text x="30.50" y="428.45" text-anchor="end" font-size="7.5" fill="#222" stroke="#222" >0.8</text>
<line x1="31.30" y1="425.75" x2="33.60" y2="425.75" stroke="#555" stroke-width="0.6" />
<text x="30.50" y="402.20" text-anchor="end" font-size="7.5" fill="#222" stroke="#222" >1.0</text>
<line x1="31.30" y1="399.50" x2="33.60" y2="399.50" stroke="#555" stroke-width="0.6" />
<text transform="translate(14.5,461.6) rotate(-90)" text-anchor="middle" font-size="7.5" fill="#222" stroke="#222">Area under the ROC curve (AUC)</text>
<rect x="37.00" y="531.60" width="139.00" height="23.40" fill="#dcdcdc" />
<rect x="179.30" y="531.60" width="65.60" height="23.40" fill="#dcdcdc" />
<rect x="248.00" y="531.60" width="40.40" height="23.40" fill="#dcdcdc" />
<rect x="291.60" y="531.60" width="49.60" height="23.40" fill="#dcdcdc" />
<rect x="344.20" y="531.60" width="45.60" height="23.40" fill="#dcdcdc" />
<rect x="37.00" y="557.50" width="251.40" height="14.00" fill="#dcdcdc" />
<rect x="291.60" y="557.50" width="98.20" height="14.00" fill="#dcdcdc" />
<text x="57.50" y="540.30" text-anchor="middle" font-size="7.5" fill="#222" stroke="#222" >H3K4me1</text>
<text x="104.70" y="540.30" text-anchor="middle" font-size="7.5" fill="#222" stroke="#222" >H3K27ac</text>
<text x="151.60" y="540.30" text-anchor="middle" font-size="7.5" fill="#222" stroke="#222" >H3K27me3</text>
<text x="106.80" y="551.20" text-anchor="middle" font-size="7.5" fill="#222" stroke="#222" >Histone modifications</text>
<text x="212.00" y="541.70" text-anchor="middle" font-size="7.5" fill="#222" stroke="#222" >Promoter</text>
<text x="212.00" y="549.80" text-anchor="middle" font-size="7.5" fill="#222" stroke="#222" >(TSS)</text>
<text x="268.00" y="541.70" text-anchor="middle" font-size="7.5" fill="#222" stroke="#222" >Gene</text>
<text x="268.00" y="549.80" text-anchor="middle" font-size="7.5" fill="#222" stroke="#222" >body</text>
<text x="316.50" y="538.90" text-anchor="middle" font-size="7.5" fill="#222" stroke="#222" >Transcription</text>
<text x="316.50" y="545.70" text-anchor="middle" font-size="7.5" fill="#222" stroke="#222" >factors</text>
<text x="316.50" y="553.40" text-anchor="middle" font-size="7.5" fill="#222" stroke="#222" >(TFBS)</text>
<text x="367.20" y="538.90" text-anchor="middle" font-size="7.5" fill="#222" stroke="#222" >Open</text>
<text x="367.20" y="545.70" text-anchor="middle" font-size="7.5" fill="#222" stroke="#222" >chromatin</text>
<text x="367.20" y="553.40" text-anchor="middle" font-size="7.5" fill="#222" stroke="#222" >sites</text>
<text x="162.70" y="567.30" text-anchor="middle" font-size="7.5" fill="#222" stroke="#222" >Local region analysis</text>
<text x="340.70" y="566.50" text-anchor="middle" font-size="7.5" fill="#222" stroke="#222" >Composite site analysis</text>
<text x="394.00" y="398.40" text-anchor="start" font-size="7.5" fill="#222" stroke="#222" >Nucleosome phasing</text>
<rect x="403.70" y="402.80" width="18.20" height="9.40" fill="#9a6fbf" stroke="#5e3d7c" stroke-width="0.9"/>
<text x="424.10" y="410.10" text-anchor="start" font-size="7.5" fill="#222" stroke="#222" >NPS</text>
<rect x="403.70" y="416.20" width="18.20" height="9.40" fill="#8c5a52" stroke="#5a3530" stroke-width="0.9"/>
<text x="424.10" y="423.50" text-anchor="start" font-size="7.5" fill="#222" stroke="#222" >Nucleosome distance</text>
<text x="394.00" y="443.90" text-anchor="start" font-size="7.5" fill="#222" stroke="#222" >Fragment size</text>
<rect x="403.70" y="448.00" width="18.20" height="9.40" fill="#9d9ea6" stroke="#5c5d64" stroke-width="0.9"/>
<text x="424.10" y="455.30" text-anchor="start" font-size="7.5" fill="#222" stroke="#222" >Mean</text>
<rect x="403.70" y="461.40" width="18.20" height="9.40" fill="#b6ab2e" stroke="#6f6818" stroke-width="0.9"/>
<text x="424.10" y="468.70" text-anchor="start" font-size="7.5" fill="#222" stroke="#222" >Coefficient of variation</text>
<rect x="403.70" y="474.10" width="18.20" height="9.40" fill="#22aabb" stroke="#136a75" stroke-width="0.9"/>
<text x="424.10" y="481.40" text-anchor="start" font-size="7.5" fill="#222" stroke="#222" >Short:long ratio</text>
<text x="394.00" y="499.10" text-anchor="start" font-size="7.5" fill="#222" stroke="#222" >Coverage profiling</text>
<rect x="403.70" y="503.50" width="18.20" height="9.40" fill="#2e70a6" stroke="#1a4468" stroke-width="0.9"/>
<text x="424.10" y="510.80" text-anchor="start" font-size="7.5" fill="#222" stroke="#222" >Central coverage (±30 bp)</text>
<rect x="403.70" y="516.90" width="18.20" height="9.40" fill="#e8812c" stroke="#93501a" stroke-width="0.9"/>
<text x="424.10" y="524.20" text-anchor="start" font-size="7.5" fill="#222" stroke="#222" >Overall coverage (±1 kb)</text>
<text x="394.00" y="542.60" text-anchor="start" font-size="7.5" fill="#222" stroke="#222" >Promoter coverage</text>
<rect x="403.70" y="547.00" width="18.20" height="9.40" fill="#2f9448" stroke="#1b5a2a" stroke-width="0.9"/>
<text x="424.10" y="554.30" text-anchor="start" font-size="7.5" fill="#222" stroke="#222" >Max wave height (TSS)</text>
</svg></body></html>
